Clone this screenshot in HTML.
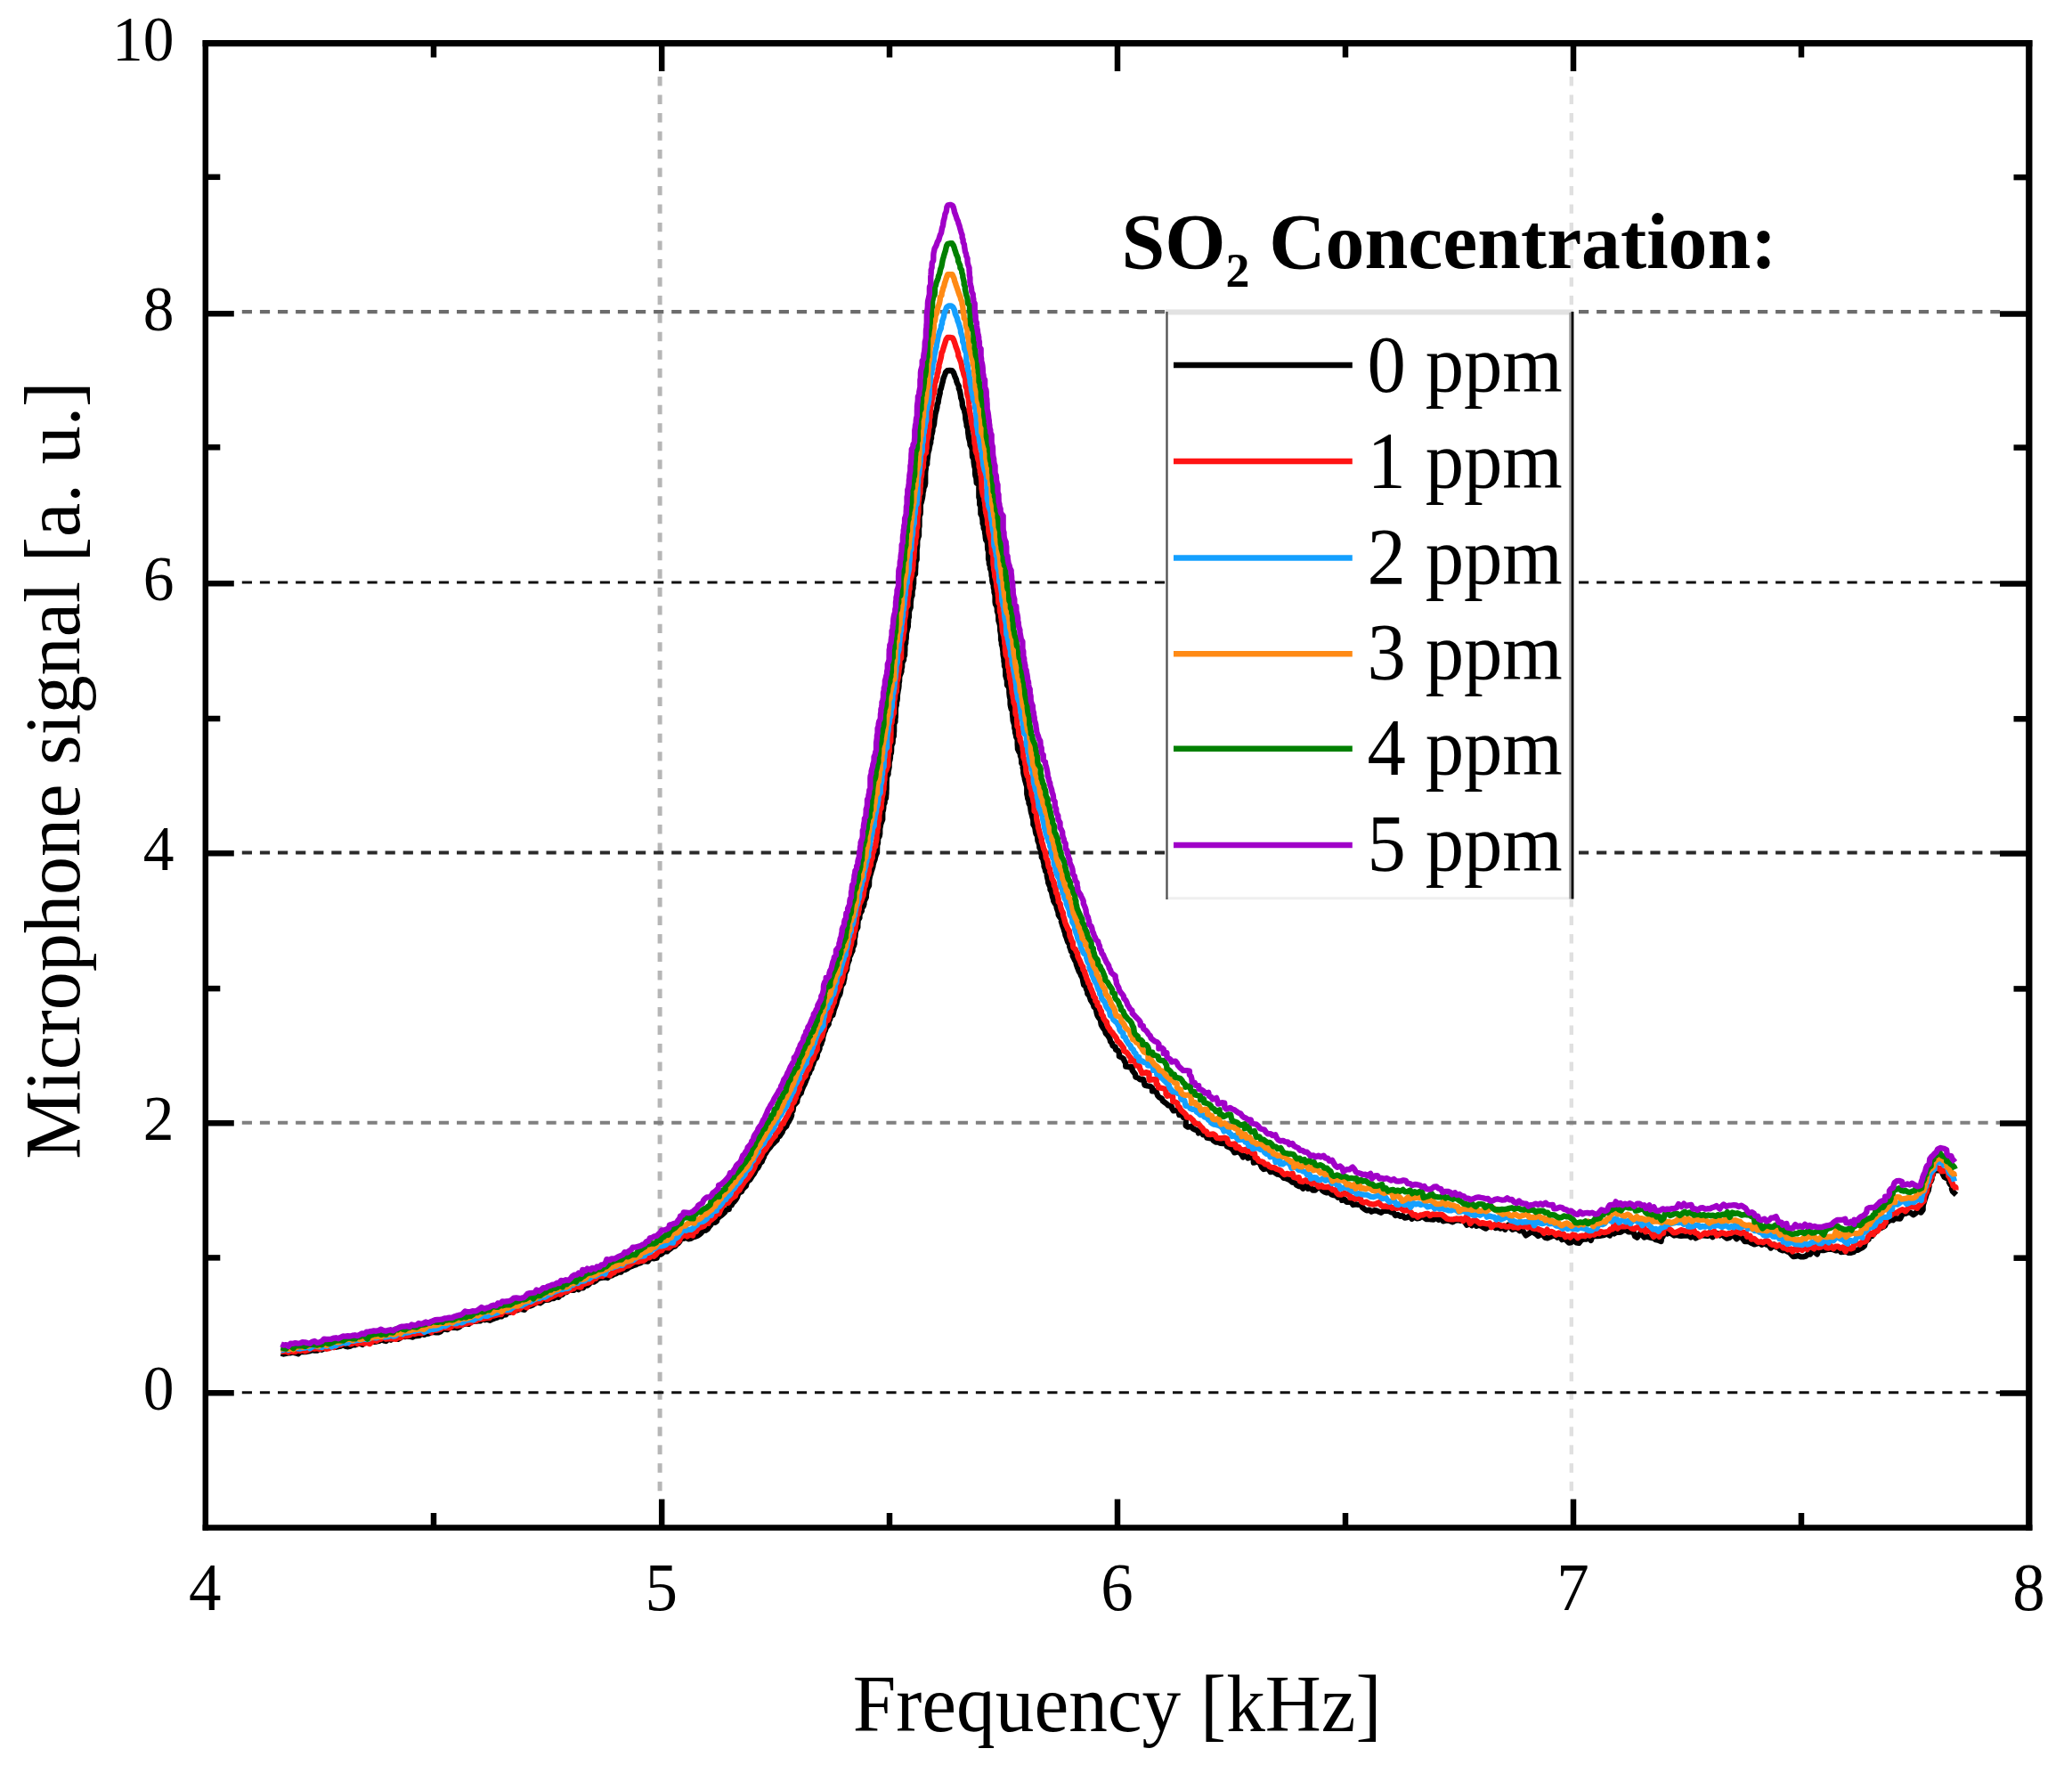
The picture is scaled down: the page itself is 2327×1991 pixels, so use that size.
<!DOCTYPE html>
<html lang="en"><head><meta charset="utf-8"><title>Microphone signal vs frequency</title>
<style>html,body{margin:0;padding:0;background:#fff;overflow:hidden}svg{display:block}</style></head>
<body>
<svg width="2327" height="1991" viewBox="0 0 2327 1991">
<rect width="2327" height="1991" fill="#fff"/>
<line x1="741.1" y1="86" x2="741.1" y2="1683" stroke="#b6b6b6" stroke-width="5.0" stroke-dasharray="10.4 10.09"/>
<line x1="1764.8" y1="86" x2="1764.8" y2="1683" stroke="#e0e0e0" stroke-width="4.4" stroke-dasharray="10.4 10.09"/>
<line x1="271.8" y1="350.1" x2="1309" y2="350.1" stroke="#6c6c6c" stroke-width="4.4" stroke-dasharray="11.2 8.9"/>
<line x1="1773" y1="350.1" x2="2246" y2="350.1" stroke="#6c6c6c" stroke-width="4.4" stroke-dasharray="11.2 8.9"/>
<line x1="271.8" y1="654.1" x2="1309" y2="654.1" stroke="#101010" stroke-width="3.0" stroke-dasharray="11.2 8.9"/>
<line x1="1773" y1="654.1" x2="2246" y2="654.1" stroke="#101010" stroke-width="3.0" stroke-dasharray="11.2 8.9"/>
<line x1="271.8" y1="957.4" x2="1309" y2="957.4" stroke="#2a2a2a" stroke-width="4.0" stroke-dasharray="11.2 8.9"/>
<line x1="1773" y1="957.4" x2="2246" y2="957.4" stroke="#2a2a2a" stroke-width="4.0" stroke-dasharray="11.2 8.9"/>
<line x1="271.8" y1="1260.8" x2="2246" y2="1260.8" stroke="#808080" stroke-width="4.0" stroke-dasharray="11.2 8.9"/>
<line x1="271.8" y1="1563.8" x2="2246" y2="1563.8" stroke="#101010" stroke-width="3.0" stroke-dasharray="11.2 8.9"/>
<g fill="none" stroke-width="6.4" stroke-linejoin="round" stroke-linecap="butt">
<path d="M315.7 1519.7 L318.5 1520.5 L321.1 1519.8 L323.8 1519.3 L326.5 1519.2 L329.1 1518.6 L331.9 1519.3 L334.8 1520.3 L337.2 1518.1 L339.9 1517.9 L342.7 1518.1 L345.3 1517.6 L348.0 1517.2 L350.6 1516.0 L353.4 1516.5 L356.1 1516.6 L358.6 1514.8 L361.4 1515.7 L364.0 1514.3 L366.7 1514.0 L369.2 1512.8 L372.0 1513.1 L374.6 1512.2 L377.4 1512.7 L380.0 1512.1 L382.7 1511.6 L385.2 1510.0 L388.2 1511.9 L390.9 1512.2 L393.6 1511.6 L396.1 1510.0 L398.8 1510.3 L401.4 1509.2 L404.1 1508.6 L407.0 1509.9 L409.4 1507.5 L412.1 1507.9 L414.9 1508.1 L417.4 1506.4 L420.2 1506.7 L422.9 1506.5 L425.5 1505.9 L428.0 1504.4 L430.9 1505.3 L433.7 1506.0 L436.0 1503.3 L439.0 1504.7 L441.4 1503.1 L443.9 1501.6 L447.0 1503.8 L449.6 1502.5 L452.0 1500.6 L454.8 1501.1 L457.5 1500.7 L460.2 1500.6 L463.1 1501.5 L465.6 1500.3 L468.3 1500.1 L471.0 1499.8 L473.4 1497.7 L476.4 1498.9 L478.9 1497.7 L481.6 1497.6 L484.1 1496.1 L486.8 1495.9 L489.6 1496.4 L492.4 1496.3 L494.9 1495.3 L497.1 1492.6 L499.9 1492.4 L502.7 1493.1 L505.0 1490.7 L507.8 1490.9 L510.5 1490.6 L513.4 1491.2 L515.9 1490.0 L518.2 1488.0 L520.8 1487.0 L523.4 1486.3 L526.3 1486.9 L528.5 1484.7 L531.1 1483.8 L533.9 1483.9 L536.5 1483.3 L539.3 1483.3 L541.7 1481.7 L544.6 1482.2 L547.2 1481.7 L550.3 1482.7 L552.7 1481.4 L555.3 1480.4 L557.9 1479.7 L560.3 1478.2 L563.1 1478.4 L565.4 1476.6 L568.2 1476.4 L570.2 1473.8 L573.0 1473.7 L575.1 1471.4 L577.7 1470.7 L580.7 1471.4 L583.1 1470.1 L586.0 1470.1 L589.1 1470.8 L590.8 1467.6 L593.4 1466.8 L596.1 1466.3 L598.6 1465.3 L600.9 1463.6 L603.4 1462.7 L606.5 1463.2 L608.8 1461.7 L611.0 1460.0 L613.8 1459.7 L616.6 1459.5 L619.0 1458.0 L621.9 1458.1 L623.9 1456.0 L627.1 1456.7 L629.2 1454.6 L631.7 1453.7 L633.7 1451.3 L636.5 1451.1 L638.5 1448.6 L641.4 1448.7 L644.4 1448.9 L646.2 1446.1 L649.8 1448.1 L651.9 1445.9 L655.0 1446.3 L656.8 1443.6 L659.7 1443.5 L661.9 1441.7 L663.6 1438.7 L666.8 1439.6 L669.2 1438.3 L671.3 1436.1 L673.8 1435.2 L676.5 1434.8 L679.1 1434.0 L682.4 1435.0 L684.5 1433.0 L687.2 1432.4 L689.5 1430.8 L692.2 1430.2 L694.2 1428.0 L697.3 1428.6 L699.3 1426.2 L702.0 1425.9 L704.5 1424.6 L706.7 1423.0 L709.2 1422.1 L711.7 1420.9 L714.3 1420.1 L716.7 1418.8 L719.3 1418.1 L721.5 1416.4 L724.3 1416.0 L727.5 1416.6 L729.3 1414.1 L731.7 1412.8 L734.9 1413.2 L737.6 1412.7 L738.8 1408.9 L741.7 1408.7 L744.0 1407.2 L745.9 1405.0 L749.1 1405.4 L751.1 1403.4 L753.4 1402.0 L755.5 1400.1 L758.1 1399.4 L759.7 1397.4 L761.8 1396.0 L763.5 1394.0 L764.4 1391.1 L768.0 1390.8 L770.6 1389.2 L773.1 1391.2 L775.8 1390.9 L778.1 1389.3 L780.7 1388.6 L783.4 1387.8 L785.6 1386.1 L787.7 1384.5 L789.4 1382.1 L792.5 1381.7 L794.7 1380.1 L796.3 1377.7 L798.1 1375.7 L799.4 1373.1 L802.8 1372.9 L805.0 1371.3 L805.7 1368.1 L807.9 1366.4 L810.1 1364.9 L812.2 1363.1 L814.1 1361.2 L815.5 1358.8 L818.7 1358.0 L818.9 1354.6 L821.6 1353.3 L822.8 1350.8 L824.8 1349.0 L826.5 1346.9 L827.9 1344.5 L828.7 1341.7 L830.1 1339.4 L832.9 1338.1 L833.9 1335.5 L835.7 1333.5 L837.8 1331.7 L838.5 1328.8 L839.7 1326.5 L842.2 1324.9 L843.6 1322.6 L845.0 1320.3 L846.7 1318.2 L848.0 1315.8 L849.2 1313.3 L851.2 1311.4 L852.4 1309.0 L853.4 1306.4 L855.6 1304.6 L856.5 1302.0 L857.8 1299.6 L858.5 1296.9 L860.2 1294.7 L861.5 1292.3 L863.1 1290.2 L865.0 1288.2 L866.5 1285.9 L868.6 1284.1 L870.4 1282.1 L872.6 1280.3 L873.1 1277.4 L875.6 1275.8 L877.0 1273.5 L878.6 1271.3 L879.4 1268.6 L881.2 1266.5 L883.2 1264.6 L884.1 1262.0 L885.7 1259.7 L886.9 1257.3 L888.3 1254.9 L889.1 1252.3 L889.1 1249.3 L890.5 1247.0 L890.9 1244.2 L891.2 1241.5 L893.3 1239.4 L895.2 1237.3 L895.4 1234.5 L896.3 1231.9 L897.6 1229.5 L899.7 1227.5 L900.3 1224.8 L901.3 1222.3 L902.4 1219.8 L903.7 1217.4 L904.7 1214.9 L905.6 1212.4 L906.8 1209.9 L907.2 1207.2 L909.0 1205.0 L909.6 1202.3 L911.4 1200.2 L911.8 1197.4 L913.1 1195.0 L913.9 1192.4 L914.8 1189.9 L917.0 1187.9 L917.8 1185.3 L918.0 1182.5 L919.4 1180.1 L920.5 1177.6 L920.5 1174.6 L922.3 1172.5 L922.9 1169.9 L924.0 1167.4 L924.2 1164.6 L925.0 1162.1 L925.6 1159.4 L926.9 1157.0 L927.6 1154.3 L929.2 1152.1 L930.7 1149.9 L930.7 1146.9 L932.2 1144.6 L932.5 1141.9 L935.2 1140.0 L936.0 1137.4 L936.5 1134.7 L937.4 1132.2 L938.4 1129.6 L939.3 1127.1 L939.9 1124.4 L940.6 1121.8 L941.5 1119.3 L943.1 1117.0 L943.8 1114.4 L944.2 1111.6 L944.5 1108.9 L945.3 1106.3 L947.2 1104.1 L947.6 1101.4 L948.3 1098.8 L948.5 1096.0 L948.9 1093.3 L950.1 1090.9 L951.2 1088.4 L951.3 1085.6 L951.9 1083.0 L952.7 1080.4 L953.8 1077.9 L953.8 1075.1 L955.2 1072.7 L956.1 1070.1 L957.5 1067.7 L957.5 1064.9 L958.7 1062.4 L959.6 1059.8 L959.6 1057.0 L959.7 1054.3 L960.4 1051.7 L960.6 1049.0 L960.9 1046.3 L962.0 1043.8 L963.3 1041.3 L963.3 1038.4 L963.5 1035.8 L963.8 1033.1 L965.4 1030.7 L965.4 1027.8 L966.2 1025.3 L967.8 1023.0 L967.8 1020.1 L969.6 1017.8 L970.4 1015.3 L970.5 1012.5 L971.6 1010.0 L972.8 1007.5 L972.8 1004.7 L973.3 1002.0 L973.6 999.3 L974.7 996.8 L976.0 994.4 L976.1 991.6 L976.1 988.8 L976.5 986.2 L977.1 983.5 L978.0 981.0 L978.6 978.3 L979.5 975.8 L980.3 973.2 L980.7 970.5 L981.5 967.9 L982.5 965.4 L983.0 962.7 L983.8 960.1 L985.0 957.6 L985.0 954.8 L985.1 952.1 L985.1 949.4 L986.0 946.8 L986.0 944.0 L986.3 941.4 L987.7 938.9 L988.2 936.2 L988.2 933.5 L988.2 930.7 L988.7 928.1 L989.2 925.5 L990.1 922.9 L991.2 920.3 L991.2 917.5 L991.2 914.7 L991.2 912.1 L992.0 909.5 L992.3 906.8 L992.3 904.1 L993.6 901.5 L993.6 898.8 L995.0 896.3 L995.1 893.6 L995.4 890.9 L995.4 888.1 L995.6 885.5 L995.6 882.7 L995.6 880.0 L995.7 877.3 L995.8 874.6 L996.1 871.9 L997.5 869.4 L997.5 866.6 L998.1 864.0 L998.6 861.3 L998.6 858.5 L998.7 855.9 L999.5 853.3 L999.9 850.6 L999.9 847.9 L1000.9 845.3 L1001.1 842.6 L1001.1 839.8 L1001.2 837.2 L1002.5 834.6 L1002.7 831.9 L1002.7 829.1 L1003.8 826.6 L1003.8 823.9 L1004.1 821.2 L1004.1 818.4 L1004.1 815.7 L1004.1 813.0 L1005.4 810.5 L1005.4 807.6 L1005.8 805.1 L1005.8 802.3 L1005.8 799.7 L1005.8 796.9 L1006.0 794.3 L1006.8 791.6 L1006.8 788.8 L1007.6 786.3 L1007.8 783.6 L1007.8 780.9 L1008.2 778.2 L1008.6 775.5 L1009.2 772.9 L1009.5 770.2 L1009.5 767.5 L1010.1 764.8 L1010.1 762.1 L1010.3 759.4 L1011.4 756.8 L1012.4 754.2 L1012.4 751.4 L1013.1 748.9 L1013.1 746.1 L1013.5 743.5 L1015.0 741.0 L1015.0 738.2 L1016.1 735.7 L1016.1 732.9 L1016.3 730.2 L1016.3 727.5 L1016.3 724.8 L1017.2 722.2 L1017.2 719.4 L1017.7 716.8 L1017.8 714.1 L1017.8 711.4 L1018.5 708.7 L1019.0 706.1 L1019.8 703.5 L1019.8 700.7 L1020.1 698.1 L1020.1 695.2 L1020.9 692.7 L1020.9 690.0 L1020.9 687.3 L1021.6 684.6 L1022.7 682.1 L1022.7 679.2 L1022.8 676.6 L1023.1 674.0 L1023.3 671.3 L1024.5 668.7 L1024.5 666.0 L1024.6 663.3 L1025.5 660.6 L1025.5 657.9 L1026.1 655.3 L1026.1 652.6 L1026.1 649.8 L1026.1 647.1 L1028.0 644.6 L1028.0 641.8 L1028.1 639.2 L1028.3 636.5 L1028.3 633.8 L1028.5 631.1 L1029.6 628.5 L1029.6 625.6 L1029.6 622.9 L1029.6 620.2 L1029.6 617.6 L1030.0 615.0 L1030.2 612.3 L1030.2 609.5 L1030.3 606.9 L1031.0 604.2 L1032.0 601.6 L1032.0 598.7 L1032.0 596.2 L1032.0 593.4 L1032.5 590.8 L1032.5 588.0 L1032.5 585.3 L1032.5 582.6 L1032.5 579.9 L1033.6 577.3 L1033.8 574.6 L1033.8 571.9 L1033.8 569.2 L1033.8 566.5 L1034.8 563.9 L1035.4 561.3 L1036.0 558.6 L1036.4 555.9 L1036.5 553.2 L1037.2 550.6 L1037.4 547.9 L1038.7 545.4 L1039.2 542.7 L1039.2 539.8 L1039.2 537.1 L1039.2 534.5 L1039.2 531.8 L1039.4 529.1 L1039.8 526.4 L1039.8 523.7 L1041.2 521.2 L1041.2 518.4 L1041.5 515.8 L1041.9 513.1 L1042.1 510.4 L1042.5 507.7 L1043.4 505.1 L1043.8 502.4 L1044.3 499.8 L1045.2 497.2 L1045.2 494.4 L1046.0 491.9 L1046.0 489.1 L1046.8 486.5 L1047.4 483.9 L1047.4 481.1 L1048.4 478.6 L1049.1 475.9 L1049.3 473.2 L1049.6 470.5 L1050.1 467.9 L1050.4 465.2 L1051.1 462.6 L1051.8 460.0 L1052.4 457.4 L1052.5 454.6 L1053.6 452.1 L1053.9 449.4 L1054.4 446.7 L1055.0 444.1 L1055.7 441.5 L1055.7 438.7 L1056.9 436.2 L1057.4 433.6 L1058.1 431.0 L1058.8 428.4 L1059.3 425.7 L1060.2 423.1 L1061.2 420.6 L1062.1 418.1 L1063.9 416.3 L1066.6 416.0 L1069.4 416.3 L1070.9 418.4 L1071.8 420.9 L1072.7 423.5 L1073.9 425.9 L1074.4 428.6 L1075.4 431.1 L1076.8 433.5 L1076.8 436.3 L1077.9 438.8 L1078.4 441.5 L1078.9 444.1 L1079.2 446.9 L1080.2 449.4 L1080.7 452.1 L1080.8 454.8 L1081.5 457.4 L1082.8 459.9 L1083.3 462.5 L1084.0 465.1 L1084.3 467.8 L1084.4 470.6 L1085.0 473.2 L1085.6 475.8 L1085.7 478.5 L1087.0 481.0 L1087.1 483.8 L1087.3 486.5 L1087.7 489.1 L1088.0 491.8 L1088.8 494.4 L1089.4 497.1 L1089.6 499.8 L1091.0 502.3 L1091.8 504.9 L1091.8 507.7 L1091.9 510.3 L1092.1 513.0 L1093.6 515.5 L1093.6 518.3 L1093.9 521.0 L1094.3 523.6 L1095.1 526.2 L1095.1 529.0 L1095.1 531.8 L1095.5 534.4 L1096.4 537.0 L1096.6 539.7 L1096.8 542.4 L1099.4 544.7 L1099.4 547.6 L1099.4 550.3 L1099.4 553.0 L1099.4 555.7 L1099.4 558.4 L1100.2 561.0 L1100.2 563.7 L1100.2 566.4 L1101.4 569.0 L1101.4 571.7 L1101.4 574.5 L1101.4 577.2 L1102.8 579.7 L1103.3 582.3 L1103.6 585.0 L1103.6 587.8 L1104.7 590.3 L1104.7 593.1 L1105.9 595.6 L1106.1 598.3 L1106.6 600.9 L1106.8 603.7 L1107.2 606.3 L1108.8 608.8 L1109.1 611.5 L1109.1 614.3 L1109.3 616.9 L1110.1 619.5 L1110.1 622.4 L1110.1 625.1 L1110.1 627.8 L1110.9 630.4 L1110.9 633.1 L1112.0 635.6 L1112.0 638.4 L1113.1 640.9 L1113.5 643.6 L1113.6 646.3 L1114.3 648.9 L1114.3 651.7 L1114.7 654.3 L1115.8 656.9 L1115.8 659.6 L1116.5 662.3 L1116.5 665.1 L1117.4 667.6 L1117.6 670.3 L1117.6 673.0 L1117.6 675.8 L1118.0 678.4 L1119.4 680.9 L1119.9 683.6 L1119.9 686.4 L1120.8 688.9 L1121.3 691.6 L1121.3 694.4 L1121.4 697.0 L1122.3 699.6 L1123.0 702.2 L1123.2 705.0 L1123.2 707.8 L1123.7 710.3 L1124.1 713.0 L1124.1 715.7 L1124.1 718.4 L1124.9 721.1 L1124.9 723.8 L1125.8 726.4 L1126.1 729.1 L1126.5 731.7 L1126.5 734.5 L1126.9 737.1 L1127.5 739.8 L1127.5 742.5 L1128.0 745.2 L1128.0 747.9 L1129.2 750.5 L1129.2 753.2 L1129.3 755.9 L1129.3 758.7 L1130.0 761.2 L1130.9 763.8 L1131.0 766.6 L1131.0 769.3 L1132.9 771.7 L1133.4 774.4 L1133.4 777.2 L1133.6 779.8 L1133.9 782.5 L1134.6 785.1 L1134.6 788.0 L1134.6 790.7 L1135.0 793.3 L1135.6 795.9 L1137.0 798.4 L1137.0 801.3 L1137.2 803.8 L1137.5 806.5 L1137.7 809.2 L1138.5 811.8 L1139.3 814.4 L1139.3 817.3 L1140.0 819.8 L1140.1 822.5 L1140.9 825.1 L1141.3 827.8 L1142.7 830.3 L1142.7 833.3 L1142.7 835.8 L1142.9 838.5 L1143.0 841.2 L1144.2 843.7 L1145.8 846.2 L1146.0 848.9 L1147.0 851.4 L1147.2 854.2 L1147.2 856.9 L1148.7 859.4 L1148.7 862.2 L1149.3 864.7 L1149.3 867.6 L1149.8 870.2 L1150.6 872.8 L1150.9 875.4 L1151.7 878.0 L1152.4 880.6 L1153.3 883.2 L1153.3 886.0 L1153.3 888.9 L1153.3 891.5 L1153.9 894.1 L1154.3 896.8 L1155.5 899.3 L1155.5 902.1 L1156.8 904.6 L1157.3 907.2 L1157.6 909.9 L1158.1 912.6 L1158.9 915.1 L1159.5 917.8 L1160.3 920.4 L1160.4 923.1 L1160.4 926.0 L1162.0 928.3 L1162.6 930.9 L1162.9 933.6 L1163.5 936.3 L1165.1 938.6 L1165.2 941.4 L1165.5 944.1 L1166.6 946.6 L1167.3 949.2 L1167.4 952.0 L1169.0 954.4 L1169.0 957.2 L1169.8 959.7 L1169.8 962.6 L1171.5 964.9 L1171.8 967.6 L1172.6 970.2 L1172.6 972.9 L1173.7 975.5 L1174.1 978.1 L1175.8 980.5 L1175.8 983.4 L1176.3 985.9 L1177.0 988.5 L1177.2 991.3 L1178.3 993.8 L1179.5 996.2 L1179.5 999.1 L1181.0 1001.4 L1181.5 1004.1 L1182.0 1006.8 L1182.9 1009.3 L1183.3 1012.0 L1184.7 1014.4 L1186.4 1016.7 L1186.7 1019.4 L1187.6 1022.0 L1188.5 1024.5 L1188.7 1027.3 L1190.1 1029.7 L1191.9 1031.9 L1191.9 1034.9 L1192.7 1037.3 L1193.5 1040.0 L1194.5 1042.4 L1195.2 1045.1 L1196.1 1047.6 L1196.5 1050.3 L1197.6 1052.8 L1198.4 1055.4 L1199.3 1057.9 L1201.1 1060.1 L1201.2 1063.0 L1202.2 1065.5 L1202.9 1068.1 L1204.7 1070.3 L1204.7 1073.4 L1205.9 1075.7 L1207.0 1078.1 L1208.4 1080.5 L1208.9 1083.2 L1209.8 1085.7 L1210.8 1088.2 L1211.7 1090.8 L1213.3 1093.0 L1214.1 1095.6 L1215.6 1097.9 L1216.1 1100.6 L1216.6 1103.4 L1217.2 1106.0 L1219.6 1108.0 L1220.0 1110.7 L1221.2 1113.2 L1221.4 1116.0 L1223.4 1118.1 L1224.2 1120.7 L1225.0 1123.3 L1226.5 1125.5 L1227.9 1127.9 L1228.6 1130.6 L1230.6 1132.6 L1231.3 1135.3 L1231.8 1138.0 L1232.6 1140.6 L1234.0 1142.9 L1235.7 1145.1 L1236.3 1147.8 L1236.7 1150.6 L1238.0 1152.9 L1239.5 1155.2 L1241.1 1157.4 L1241.7 1160.2 L1243.7 1162.2 L1245.2 1164.4 L1246.5 1166.8 L1247.1 1169.6 L1249.0 1171.6 L1249.6 1174.4 L1252.6 1175.7 L1253.0 1178.7 L1255.8 1180.0 L1256.9 1182.5 L1256.9 1186.2 L1259.4 1187.4 L1261.8 1188.9 L1262.8 1191.6 L1264.2 1193.9 L1264.2 1197.6 L1267.5 1198.2 L1271.6 1198.2 L1271.6 1202.1 L1273.2 1204.1 L1274.9 1206.2 L1275.4 1209.5 L1278.3 1210.5 L1280.4 1212.2 L1284.1 1212.2 L1284.9 1215.4 L1285.6 1218.7 L1288.6 1219.4 L1291.7 1219.9 L1293.9 1221.5 L1294.1 1225.4 L1298.2 1224.8 L1299.2 1227.7 L1300.3 1230.5 L1302.2 1232.4 L1304.7 1233.7 L1305.9 1236.3 L1308.0 1237.9 L1310.2 1239.5 L1312.1 1241.4 L1315.4 1242.0 L1316.3 1244.8 L1317.8 1247.2 L1322.1 1246.9 L1323.8 1248.9 L1324.4 1252.1 L1328.2 1252.2 L1329.1 1255.0 L1331.7 1256.3 L1331.7 1260.6 L1331.7 1264.1 L1334.0 1265.6 L1338.0 1265.0 L1339.7 1267.3 L1342.2 1268.5 L1344.7 1269.5 L1346.0 1272.4 L1350.5 1270.1 L1351.2 1274.3 L1354.3 1274.2 L1355.5 1277.7 L1358.3 1278.2 L1361.1 1278.6 L1363.0 1280.9 L1365.2 1282.5 L1368.2 1282.4 L1370.5 1283.9 L1373.5 1284.1 L1377.4 1282.5 L1377.9 1287.2 L1380.5 1288.2 L1382.9 1289.4 L1384.8 1291.5 L1386.4 1294.3 L1390.0 1293.4 L1392.5 1294.4 L1394.4 1296.5 L1396.0 1299.3 L1400.2 1297.1 L1401.5 1300.5 L1405.1 1299.4 L1407.7 1300.4 L1407.9 1305.6 L1411.5 1304.6 L1414.3 1305.2 L1415.8 1308.1 L1417.2 1311.0 L1419.2 1313.0 L1422.8 1312.2 L1425.2 1313.4 L1426.8 1316.1 L1430.6 1314.8 L1432.3 1317.3 L1434.7 1318.6 L1437.4 1319.1 L1439.8 1320.4 L1441.6 1322.8 L1444.4 1323.2 L1446.9 1324.3 L1449.3 1325.6 L1451.4 1327.6 L1454.1 1328.1 L1456.1 1330.7 L1458.5 1332.0 L1461.2 1332.4 L1463.3 1334.7 L1467.3 1331.3 L1469.0 1334.7 L1472.3 1333.3 L1474.1 1336.5 L1477.0 1336.5 L1481.2 1332.2 L1483.4 1334.2 L1485.3 1337.1 L1487.6 1338.5 L1490.2 1339.4 L1493.4 1338.7 L1495.2 1341.3 L1497.8 1342.2 L1500.5 1342.6 L1502.6 1344.8 L1506.6 1342.2 L1507.2 1347.8 L1510.4 1347.2 L1512.2 1349.8 L1515.2 1349.6 L1517.8 1350.5 L1519.7 1353.0 L1522.8 1352.3 L1525.5 1352.9 L1528.3 1352.8 L1530.2 1356.0 L1532.5 1357.9 L1534.9 1359.4 L1537.9 1358.6 L1540.2 1360.7 L1543.3 1359.3 L1546.1 1359.5 L1548.5 1360.8 L1551.1 1361.7 L1554.4 1359.4 L1557.0 1359.9 L1559.8 1359.8 L1562.2 1361.3 L1564.9 1361.6 L1567.1 1364.9 L1570.0 1364.0 L1572.4 1365.8 L1575.3 1365.1 L1577.6 1367.6 L1580.4 1367.1 L1583.4 1365.3 L1585.6 1368.7 L1588.7 1366.3 L1591.2 1368.4 L1594.0 1367.8 L1596.9 1365.8 L1599.5 1367.3 L1602.0 1369.1 L1604.7 1368.8 L1607.4 1369.3 L1610.1 1369.5 L1613.0 1367.3 L1615.5 1369.7 L1618.5 1367.2 L1620.7 1371.3 L1623.5 1370.7 L1626.3 1370.3 L1628.9 1371.2 L1631.5 1372.3 L1634.4 1370.6 L1637.2 1370.0 L1639.9 1370.8 L1642.7 1369.7 L1645.1 1372.2 L1647.4 1375.7 L1650.5 1373.1 L1652.8 1376.1 L1655.8 1373.7 L1658.1 1376.8 L1661.0 1375.8 L1663.6 1376.8 L1666.1 1378.4 L1668.6 1379.6 L1671.7 1377.3 L1674.4 1377.5 L1677.3 1376.2 L1679.6 1379.0 L1682.5 1377.9 L1685.0 1379.6 L1688.0 1377.7 L1690.3 1380.7 L1693.8 1375.7 L1696.1 1378.4 L1698.5 1380.8 L1701.4 1379.7 L1704.2 1379.7 L1706.5 1382.2 L1709.4 1381.1 L1711.6 1384.1 L1713.7 1387.4 L1716.9 1385.4 L1720.0 1383.2 L1722.6 1384.2 L1725.0 1385.7 L1727.4 1387.9 L1730.4 1386.2 L1733.0 1386.9 L1735.3 1389.9 L1738.0 1390.2 L1740.9 1389.1 L1743.8 1387.9 L1746.6 1387.6 L1749.0 1389.7 L1752.0 1388.1 L1754.1 1392.1 L1757.0 1390.9 L1759.5 1393.0 L1762.0 1395.6 L1764.8 1395.0 L1767.7 1392.2 L1770.4 1395.3 L1773.2 1395.9 L1775.8 1392.7 L1778.5 1391.3 L1781.2 1391.6 L1783.8 1389.7 L1786.7 1392.9 L1788.9 1387.2 L1791.5 1388.0 L1794.0 1388.1 L1796.7 1387.8 L1799.3 1387.4 L1801.9 1386.8 L1804.3 1385.5 L1807.9 1387.4 L1809.3 1383.1 L1812.8 1385.4 L1815.2 1383.8 L1817.9 1383.9 L1820.5 1383.5 L1823.3 1381.5 L1826.1 1381.3 L1828.7 1383.3 L1831.4 1383.4 L1834.2 1382.7 L1836.2 1388.3 L1838.7 1389.7 L1842.1 1384.8 L1844.5 1387.0 L1846.6 1389.6 L1849.4 1388.4 L1851.8 1389.2 L1854.4 1390.1 L1857.4 1390.2 L1859.4 1392.2 L1862.0 1392.6 L1865.5 1394.0 L1866.1 1390.2 L1867.7 1388.0 L1868.6 1384.4 L1872.3 1385.5 L1875.0 1384.5 L1877.6 1385.7 L1880.1 1387.5 L1882.9 1386.8 L1885.5 1387.5 L1888.2 1387.8 L1891.0 1387.6 L1893.7 1387.5 L1896.5 1387.2 L1898.9 1389.4 L1901.9 1387.0 L1904.3 1390.4 L1907.1 1389.0 L1909.8 1387.2 L1912.5 1387.3 L1915.2 1387.5 L1917.9 1387.9 L1920.6 1386.7 L1923.3 1389.2 L1926.0 1386.4 L1928.7 1385.1 L1931.4 1387.4 L1934.1 1386.0 L1936.8 1388.7 L1939.5 1390.6 L1942.2 1390.0 L1944.9 1387.4 L1947.6 1387.9 L1950.3 1391.1 L1953.0 1389.0 L1955.7 1389.5 L1957.7 1391.6 L1959.5 1394.0 L1962.5 1393.9 L1965.2 1394.7 L1967.6 1396.2 L1970.2 1397.4 L1973.2 1396.4 L1976.2 1395.4 L1978.5 1397.7 L1981.5 1396.4 L1984.0 1397.7 L1986.6 1398.4 L1988.7 1401.5 L1992.4 1397.7 L1994.5 1400.3 L1997.2 1400.9 L1999.2 1403.1 L2001.6 1404.2 L2005.0 1403.9 L2007.2 1405.3 L2009.5 1406.3 L2011.5 1408.3 L2013.8 1411.0 L2016.7 1410.8 L2019.4 1410.0 L2022.4 1411.2 L2025.2 1411.4 L2027.9 1410.7 L2030.2 1408.6 L2032.9 1408.5 L2035.1 1405.6 L2037.9 1405.8 L2040.8 1408.3 L2043.2 1401.9 L2046.0 1404.1 L2048.7 1404.0 L2051.4 1403.2 L2054.1 1402.5 L2056.8 1402.7 L2059.5 1403.4 L2062.2 1404.4 L2064.9 1402.3 L2067.6 1406.1 L2070.3 1405.7 L2073.0 1405.4 L2076.1 1406.9 L2079.0 1406.7 L2081.7 1406.0 L2083.8 1403.7 L2086.8 1403.7 L2089.2 1402.1 L2091.8 1400.8 L2093.9 1399.0 L2094.7 1395.5 L2096.2 1393.2 L2098.6 1391.8 L2098.8 1388.2 L2102.4 1388.0 L2104.1 1385.8 L2106.0 1383.8 L2106.5 1380.5 L2109.4 1379.8 L2112.5 1379.0 L2114.9 1377.7 L2117.2 1376.2 L2118.1 1373.2 L2120.6 1371.8 L2122.5 1369.7 L2126.0 1370.2 L2127.8 1367.9 L2131.0 1368.4 L2134.0 1368.6 L2135.5 1365.5 L2137.4 1362.7 L2140.3 1362.8 L2142.8 1361.4 L2145.6 1361.7 L2148.9 1364.3 L2151.3 1362.5 L2153.3 1359.5 L2157.4 1361.5 L2159.6 1358.6 L2159.6 1354.9 L2160.0 1352.3 L2160.9 1349.8 L2161.6 1347.2 L2162.5 1344.6 L2163.2 1342.0 L2164.3 1339.5 L2165.6 1337.1 L2166.1 1334.5 L2166.6 1331.8 L2166.6 1328.8 L2168.4 1326.7 L2169.5 1324.2 L2169.5 1321.2 L2170.9 1319.0 L2171.5 1316.2 L2172.5 1312.5 L2176.1 1314.4 L2179.3 1314.3 L2181.2 1316.5 L2182.3 1319.3 L2183.6 1321.7 L2186.0 1323.1 L2188.9 1324.3 L2188.9 1327.7 L2190.3 1330.0 L2192.0 1332.1 L2192.0 1335.1 L2192.9 1337.7 L2194.9 1339.7 L2197.0 1341.7" stroke="#000000"/>
<path d="M315.6 1517.7 L318.3 1517.5 L321.0 1517.6 L323.8 1518.6 L326.4 1517.3 L329.2 1518.0 L331.9 1517.7 L334.5 1516.3 L337.3 1516.9 L339.9 1516.0 L342.7 1517.3 L345.3 1516.3 L347.9 1515.3 L350.5 1513.9 L353.3 1514.6 L355.9 1514.0 L358.8 1515.0 L361.4 1514.2 L364.0 1513.3 L366.9 1514.7 L369.6 1514.1 L372.1 1512.5 L374.9 1513.0 L377.4 1511.3 L380.0 1510.5 L382.7 1510.1 L385.2 1508.9 L387.9 1508.4 L390.5 1507.8 L393.5 1509.3 L396.1 1508.6 L398.6 1507.1 L401.6 1509.0 L404.1 1507.7 L406.9 1508.0 L409.7 1508.6 L412.3 1507.6 L415.2 1509.0 L417.7 1506.8 L420.0 1504.6 L423.0 1505.8 L425.4 1504.0 L428.1 1503.5 L430.4 1500.7 L433.5 1503.6 L436.2 1503.1 L439.0 1503.3 L441.7 1503.4 L444.6 1503.9 L446.9 1501.8 L449.7 1502.2 L452.2 1500.4 L454.9 1500.0 L457.6 1500.2 L460.2 1499.4 L462.6 1497.2 L465.5 1498.0 L468.1 1497.2 L470.7 1496.6 L473.6 1497.2 L476.2 1496.4 L478.5 1494.5 L481.3 1494.3 L484.4 1496.2 L486.5 1492.8 L489.4 1493.8 L492.1 1493.3 L494.7 1492.8 L497.0 1490.6 L499.8 1490.9 L502.6 1491.1 L505.4 1491.2 L507.7 1489.1 L510.3 1488.0 L513.2 1488.9 L515.9 1488.4 L518.5 1487.9 L520.9 1486.2 L523.7 1486.3 L526.2 1485.2 L529.1 1485.4 L531.2 1482.7 L534.2 1483.6 L536.6 1482.1 L539.1 1480.9 L541.9 1481.1 L544.5 1480.4 L547.1 1479.8 L549.9 1479.8 L552.0 1477.0 L554.9 1477.5 L557.5 1476.7 L560.1 1475.9 L562.9 1476.1 L564.8 1473.0 L567.4 1472.4 L570.5 1473.2 L573.2 1472.8 L576.4 1473.9 L578.6 1471.8 L580.7 1469.5 L583.7 1470.0 L585.7 1467.6 L588.2 1466.6 L591.7 1468.3 L593.6 1465.5 L596.1 1464.7 L598.6 1463.5 L601.4 1463.4 L603.7 1461.6 L606.4 1461.2 L608.4 1458.8 L610.6 1457.2 L614.2 1459.1 L616.7 1457.8 L619.0 1456.5 L621.5 1455.4 L623.9 1454.2 L626.2 1452.5 L629.5 1453.6 L631.6 1451.5 L634.2 1450.9 L636.8 1450.0 L639.3 1449.1 L641.8 1447.8 L644.3 1447.0 L646.2 1444.4 L649.3 1444.9 L652.5 1445.6 L654.1 1442.4 L656.7 1441.6 L659.3 1440.8 L661.9 1440.1 L664.4 1439.0 L666.1 1436.0 L669.0 1435.9 L670.8 1433.2 L673.5 1432.7 L676.6 1433.2 L678.7 1431.2 L681.5 1431.0 L685.0 1432.3 L686.9 1429.9 L689.5 1429.1 L691.3 1426.4 L694.2 1426.2 L696.7 1425.2 L699.3 1424.5 L701.4 1422.4 L703.9 1421.5 L706.6 1421.0 L708.8 1419.3 L711.1 1417.7 L713.5 1416.5 L716.6 1416.9 L719.2 1416.0 L722.1 1415.9 L724.4 1414.5 L726.4 1412.3 L729.4 1412.3 L730.9 1409.2 L734.6 1410.7 L736.7 1408.8 L738.5 1406.4 L740.6 1404.5 L743.5 1404.2 L744.8 1400.9 L747.9 1401.0 L751.1 1401.4 L753.2 1399.4 L755.5 1398.0 L758.5 1397.7 L760.0 1395.1 L762.6 1393.8 L763.7 1391.2 L765.0 1388.8 L767.5 1387.6 L769.3 1384.9 L771.8 1388.4 L774.7 1386.3 L778.1 1387.4 L779.2 1383.6 L781.9 1382.9 L783.2 1379.9 L785.5 1378.6 L788.2 1377.8 L790.8 1376.7 L792.0 1373.9 L795.5 1373.9 L796.5 1370.9 L799.0 1369.8 L801.0 1367.9 L803.1 1366.2 L803.5 1362.7 L807.5 1363.0 L808.5 1360.1 L809.7 1357.6 L811.1 1355.2 L812.7 1353.1 L814.9 1351.4 L818.0 1350.6 L819.4 1348.3 L821.1 1346.1 L823.4 1344.5 L825.8 1343.0 L826.6 1340.2 L828.2 1338.0 L830.5 1336.4 L831.7 1333.9 L833.2 1331.6 L834.6 1329.3 L836.0 1327.0 L837.8 1325.0 L839.7 1323.0 L841.3 1320.8 L842.9 1318.6 L844.3 1316.3 L845.6 1314.0 L847.0 1311.7 L847.9 1309.0 L848.7 1306.4 L851.0 1304.6 L852.1 1302.1 L853.7 1299.9 L855.2 1297.7 L856.1 1295.0 L857.6 1292.8 L859.6 1290.9 L861.0 1288.6 L862.3 1286.2 L864.3 1284.2 L865.4 1281.8 L866.9 1279.5 L868.7 1277.5 L870.7 1275.6 L871.2 1272.7 L873.5 1270.9 L875.0 1268.7 L876.6 1266.5 L876.9 1263.5 L879.6 1262.0 L880.6 1259.4 L882.0 1257.1 L883.2 1254.7 L884.7 1252.4 L885.8 1249.9 L887.0 1247.5 L888.8 1245.4 L888.8 1242.3 L889.6 1239.8 L891.7 1237.8 L892.5 1235.2 L893.8 1232.8 L893.9 1229.9 L895.6 1227.7 L896.3 1225.1 L897.8 1222.7 L897.8 1219.7 L899.2 1217.5 L900.2 1215.0 L901.0 1212.4 L902.7 1210.2 L904.7 1208.1 L905.2 1205.4 L905.9 1202.7 L907.9 1200.7 L908.9 1198.2 L909.9 1195.6 L910.4 1192.9 L911.8 1190.6 L913.4 1188.3 L914.1 1185.7 L914.9 1183.1 L916.4 1180.8 L917.7 1178.4 L917.7 1175.2 L917.7 1172.5 L918.9 1170.1 L920.1 1167.7 L921.8 1165.5 L923.4 1163.2 L923.9 1160.5 L924.6 1157.9 L925.7 1155.3 L925.7 1152.6 L926.6 1150.0 L927.1 1147.3 L929.7 1145.8 L930.7 1143.2 L931.2 1140.4 L931.9 1137.8 L933.2 1135.4 L933.4 1132.6 L934.7 1130.2 L935.4 1127.6 L936.9 1125.2 L937.1 1122.4 L938.1 1119.9 L938.7 1117.3 L939.5 1114.7 L941.0 1112.3 L941.9 1109.8 L943.4 1107.4 L943.4 1104.6 L945.0 1102.3 L945.7 1099.7 L946.6 1097.1 L946.6 1094.2 L947.4 1091.7 L949.0 1089.4 L950.0 1086.8 L950.1 1084.0 L950.8 1081.5 L951.0 1078.7 L951.8 1076.1 L952.3 1073.5 L953.6 1071.0 L953.9 1068.3 L954.5 1065.7 L955.0 1063.0 L956.0 1060.5 L956.3 1057.8 L956.7 1055.1 L958.6 1052.8 L958.6 1050.0 L959.0 1047.3 L960.2 1044.8 L960.5 1042.1 L960.8 1039.4 L961.6 1036.8 L961.6 1034.0 L962.1 1031.4 L962.1 1028.5 L964.0 1026.3 L964.0 1023.3 L964.8 1020.9 L964.8 1018.2 L965.3 1015.5 L966.6 1013.0 L967.7 1010.5 L968.5 1007.9 L969.6 1005.4 L969.8 1002.7 L970.4 1000.1 L970.4 997.3 L971.7 994.8 L972.2 992.2 L972.6 989.5 L973.6 986.9 L974.0 984.3 L975.2 981.8 L975.8 979.1 L975.9 976.4 L976.4 973.7 L977.9 971.3 L977.9 968.5 L978.5 965.9 L979.7 963.4 L979.7 960.4 L980.1 958.0 L981.3 955.5 L981.3 952.6 L983.3 950.4 L983.3 947.2 L984.0 945.0 L984.5 942.3 L984.5 939.6 L984.5 936.8 L985.3 934.2 L985.3 931.4 L986.1 928.9 L986.1 926.0 L986.3 923.4 L987.3 920.8 L987.3 918.0 L987.3 915.4 L987.9 912.8 L987.9 910.0 L989.6 907.5 L989.7 904.8 L989.7 902.0 L990.3 899.5 L990.3 896.7 L990.9 894.1 L991.5 891.5 L991.7 888.8 L992.5 886.1 L992.5 883.3 L992.8 880.7 L992.8 878.0 L993.5 875.4 L993.5 872.6 L993.6 869.9 L993.9 867.3 L995.4 864.7 L996.2 862.1 L997.3 859.5 L997.3 856.8 L997.3 854.0 L997.3 851.3 L997.6 848.7 L997.6 846.0 L998.7 843.4 L998.7 840.6 L998.7 837.9 L999.0 835.2 L1000.3 832.7 L1000.3 829.9 L1000.3 827.2 L1000.5 824.6 L1000.5 821.8 L1000.5 819.1 L1000.5 816.4 L1000.5 813.6 L1001.7 811.1 L1001.7 808.4 L1002.3 805.7 L1002.7 803.1 L1004.1 800.5 L1004.1 797.7 L1004.1 795.0 L1004.1 792.3 L1004.2 789.6 L1004.2 786.9 L1005.0 784.3 L1005.1 781.6 L1005.4 778.9 L1006.8 776.4 L1006.8 773.6 L1007.2 771.0 L1007.2 768.2 L1007.3 765.5 L1008.2 762.9 L1008.8 760.3 L1008.8 757.4 L1009.3 754.9 L1009.5 752.2 L1010.1 749.6 L1010.3 746.9 L1010.3 744.1 L1010.4 741.4 L1012.1 738.9 L1012.1 736.1 L1012.1 733.3 L1012.2 730.8 L1012.2 728.1 L1012.2 725.3 L1012.2 722.6 L1013.0 720.0 L1014.2 717.4 L1014.3 714.7 L1014.5 712.0 L1015.3 709.4 L1015.7 706.7 L1015.7 703.9 L1015.7 701.3 L1015.7 698.6 L1015.9 695.9 L1016.5 693.2 L1017.0 690.6 L1017.2 687.9 L1017.2 685.1 L1017.8 682.5 L1019.4 680.0 L1019.4 677.1 L1019.4 674.4 L1019.8 671.9 L1020.3 669.2 L1020.7 666.5 L1020.7 663.8 L1021.6 661.2 L1021.6 658.4 L1021.6 655.7 L1021.9 653.1 L1022.6 650.4 L1023.4 647.8 L1023.9 645.2 L1024.1 642.5 L1025.1 639.9 L1025.1 637.1 L1025.5 634.5 L1025.5 631.7 L1025.5 629.0 L1026.4 626.4 L1026.4 623.6 L1026.6 621.0 L1026.9 618.3 L1026.9 615.6 L1027.1 612.9 L1028.2 610.3 L1028.2 607.5 L1028.4 604.9 L1029.2 602.3 L1029.2 599.5 L1029.2 596.8 L1029.4 594.2 L1030.4 591.5 L1030.4 588.7 L1030.4 586.1 L1030.4 583.4 L1030.7 580.7 L1030.9 578.0 L1031.4 575.4 L1031.4 572.6 L1031.4 569.9 L1031.4 567.2 L1031.4 564.5 L1031.9 561.9 L1032.2 559.2 L1032.2 556.4 L1033.4 553.9 L1033.4 551.1 L1033.4 548.3 L1033.8 545.8 L1033.8 543.0 L1034.1 540.4 L1034.1 537.6 L1034.8 535.0 L1035.2 532.3 L1035.2 529.6 L1035.8 527.0 L1036.9 524.4 L1036.9 521.5 L1036.9 518.9 L1037.5 516.3 L1037.5 513.6 L1037.9 510.9 L1040.0 508.5 L1040.0 505.6 L1040.6 503.1 L1040.6 500.4 L1040.6 497.6 L1041.0 495.0 L1041.6 492.3 L1042.3 489.7 L1042.4 487.0 L1042.7 484.3 L1043.0 481.6 L1043.7 479.0 L1043.7 476.3 L1043.7 473.5 L1043.7 470.8 L1044.5 468.2 L1044.5 465.5 L1044.6 462.8 L1044.9 460.1 L1045.3 457.4 L1045.9 454.8 L1046.5 452.1 L1046.5 449.3 L1047.5 446.8 L1047.5 444.0 L1049.0 441.6 L1049.0 438.8 L1049.4 436.2 L1049.7 433.5 L1049.7 430.7 L1051.0 428.3 L1051.5 425.6 L1052.5 423.1 L1052.5 420.2 L1053.6 417.8 L1053.6 415.0 L1054.5 412.5 L1054.5 409.6 L1055.4 407.1 L1056.0 404.5 L1056.7 401.9 L1057.2 399.2 L1057.5 396.5 L1058.7 394.0 L1059.4 391.4 L1060.2 388.8 L1061.0 386.3 L1061.8 383.7 L1062.6 381.1 L1064.2 379.0 L1067.0 378.9 L1069.7 379.3 L1071.0 381.6 L1071.9 384.1 L1072.8 386.7 L1073.5 389.3 L1074.5 391.8 L1075.4 394.4 L1076.2 397.0 L1076.3 399.7 L1077.5 402.2 L1078.4 404.7 L1079.4 407.3 L1079.9 409.9 L1080.3 412.6 L1081.0 415.2 L1081.9 417.8 L1082.4 420.4 L1083.4 423.0 L1084.3 425.6 L1084.3 428.4 L1084.5 431.0 L1084.5 433.9 L1085.7 436.3 L1086.1 439.0 L1086.1 441.8 L1086.7 444.4 L1087.6 446.9 L1088.0 449.6 L1088.2 452.3 L1088.4 455.0 L1088.7 457.7 L1088.7 460.5 L1089.3 463.1 L1089.8 465.7 L1090.5 468.4 L1090.8 471.0 L1090.9 473.8 L1091.5 476.4 L1092.2 479.0 L1092.4 481.7 L1093.4 484.3 L1094.2 486.9 L1094.3 489.6 L1094.3 492.4 L1094.5 495.1 L1094.5 497.8 L1095.4 500.4 L1095.6 503.1 L1095.6 505.8 L1096.4 508.4 L1097.7 511.0 L1097.9 513.7 L1098.5 516.3 L1099.6 518.9 L1099.6 521.7 L1099.7 524.3 L1100.7 526.9 L1100.7 529.7 L1101.5 532.2 L1101.9 534.9 L1102.0 537.6 L1102.4 540.3 L1102.4 543.1 L1102.5 545.7 L1102.5 548.5 L1103.0 551.1 L1103.5 553.8 L1104.1 556.4 L1105.4 558.9 L1105.4 561.7 L1106.2 564.3 L1106.2 567.1 L1106.7 569.7 L1106.7 572.5 L1107.3 575.1 L1107.8 577.7 L1108.5 580.3 L1109.0 583.0 L1109.1 585.7 L1109.1 588.4 L1110.3 591.0 L1110.3 593.8 L1110.3 596.6 L1110.7 599.1 L1111.4 601.7 L1112.0 604.4 L1113.0 607.0 L1113.0 609.8 L1113.3 612.4 L1113.7 615.0 L1113.7 617.8 L1113.7 620.6 L1115.4 623.0 L1115.4 625.8 L1115.4 628.5 L1115.4 631.2 L1115.5 633.9 L1116.1 636.5 L1116.1 639.2 L1116.8 641.9 L1117.1 644.5 L1117.2 647.3 L1118.0 649.9 L1118.7 652.5 L1119.1 655.2 L1119.1 657.9 L1119.7 660.5 L1120.2 663.2 L1120.8 665.9 L1120.8 668.6 L1121.2 671.2 L1121.2 674.0 L1121.3 676.7 L1122.9 679.2 L1122.9 682.0 L1122.9 684.6 L1123.1 687.3 L1124.2 689.9 L1124.2 692.7 L1124.8 695.3 L1124.9 698.0 L1125.4 700.7 L1125.4 703.4 L1125.7 706.1 L1125.9 708.8 L1126.6 711.4 L1127.5 714.0 L1127.8 716.7 L1128.2 719.3 L1128.2 722.1 L1128.9 724.7 L1128.9 727.5 L1128.9 730.2 L1129.4 732.8 L1129.6 735.5 L1131.1 738.0 L1132.0 740.6 L1132.0 743.3 L1132.0 746.1 L1132.2 748.8 L1133.2 751.3 L1133.2 754.1 L1133.9 756.7 L1133.9 759.5 L1134.3 762.1 L1135.3 764.7 L1135.3 767.5 L1135.8 770.1 L1136.1 772.7 L1136.7 775.4 L1136.7 778.1 L1137.6 780.7 L1137.8 783.4 L1138.5 786.0 L1138.5 788.8 L1139.7 791.3 L1140.4 793.9 L1140.4 796.8 L1140.4 799.6 L1140.6 802.1 L1142.2 804.6 L1142.2 807.3 L1142.2 810.1 L1142.4 812.8 L1142.4 815.5 L1144.0 818.0 L1144.0 820.8 L1144.3 823.4 L1144.3 826.1 L1145.6 828.6 L1145.7 831.4 L1147.0 833.9 L1148.1 836.4 L1148.6 839.1 L1148.7 841.8 L1149.3 844.4 L1149.3 847.3 L1149.3 850.0 L1150.3 852.5 L1151.3 855.0 L1151.3 857.8 L1152.3 860.4 L1152.3 863.3 L1152.4 865.8 L1152.9 868.5 L1153.7 871.1 L1155.3 873.5 L1155.4 876.2 L1156.1 878.9 L1156.3 881.6 L1156.9 884.2 L1158.2 886.7 L1158.5 889.4 L1158.5 892.2 L1159.6 894.7 L1160.2 897.3 L1160.5 900.0 L1161.5 902.5 L1161.5 905.3 L1161.6 908.0 L1161.6 910.9 L1164.0 913.0 L1164.0 915.9 L1164.1 918.6 L1164.5 921.2 L1165.1 923.9 L1165.8 926.5 L1165.9 929.2 L1166.8 931.8 L1167.4 934.4 L1168.1 937.0 L1168.8 939.6 L1169.8 942.2 L1169.8 945.0 L1170.8 947.5 L1171.5 950.1 L1172.0 952.7 L1173.3 955.2 L1174.0 957.8 L1174.5 960.5 L1174.7 963.2 L1176.2 965.6 L1176.8 968.2 L1177.1 970.9 L1177.7 973.6 L1179.3 976.0 L1179.3 978.9 L1180.4 981.3 L1181.0 983.9 L1181.4 986.6 L1182.8 989.0 L1183.8 991.5 L1183.8 994.4 L1185.6 996.6 L1185.7 999.4 L1186.0 1002.1 L1187.6 1004.5 L1188.0 1007.2 L1188.7 1009.8 L1188.7 1012.7 L1190.6 1014.8 L1190.9 1017.5 L1191.6 1020.2 L1192.5 1022.7 L1193.9 1025.1 L1193.9 1028.0 L1194.8 1030.5 L1195.6 1033.1 L1196.2 1035.7 L1197.1 1038.3 L1198.3 1040.7 L1199.2 1043.2 L1200.9 1045.5 L1201.2 1048.3 L1201.5 1051.0 L1202.7 1053.5 L1203.4 1056.1 L1204.9 1058.4 L1204.9 1061.4 L1205.4 1064.0 L1207.7 1066.0 L1208.7 1068.5 L1210.2 1070.8 L1210.3 1073.7 L1211.4 1076.2 L1212.7 1078.6 L1213.7 1081.1 L1214.6 1083.6 L1216.3 1085.8 L1216.4 1088.7 L1218.1 1090.9 L1218.6 1093.6 L1219.7 1096.1 L1220.3 1098.8 L1221.6 1101.2 L1222.2 1103.8 L1224.1 1106.0 L1224.4 1108.8 L1225.7 1111.2 L1226.6 1113.7 L1227.7 1116.2 L1228.2 1118.9 L1230.1 1121.0 L1230.3 1123.9 L1232.4 1125.9 L1232.5 1128.8 L1234.7 1130.8 L1235.4 1133.4 L1236.9 1135.7 L1236.9 1138.7 L1238.8 1140.8 L1239.4 1143.5 L1240.9 1145.8 L1242.9 1147.8 L1243.3 1150.6 L1244.3 1153.2 L1246.0 1155.3 L1247.2 1157.7 L1249.3 1159.6 L1250.8 1161.9 L1252.6 1163.9 L1254.0 1166.2 L1254.8 1168.9 L1257.2 1170.6 L1258.8 1172.7 L1260.4 1174.9 L1262.0 1177.1 L1262.2 1180.2 L1265.0 1181.5 L1266.7 1183.6 L1268.1 1185.9 L1269.9 1187.9 L1269.9 1191.5 L1275.6 1190.0 L1275.6 1194.7 L1276.4 1196.5 L1279.6 1197.2 L1280.3 1200.2 L1281.6 1202.8 L1282.7 1205.5 L1287.7 1204.2 L1290.5 1205.1 L1290.5 1210.1 L1290.8 1212.7 L1294.9 1212.2 L1298.7 1212.0 L1298.7 1217.5 L1300.3 1218.2 L1301.1 1221.4 L1304.5 1221.8 L1307.4 1222.5 L1309.5 1224.3 L1309.5 1228.5 L1310.8 1230.8 L1316.6 1228.9 L1317.2 1232.1 L1317.2 1236.8 L1319.6 1237.3 L1322.2 1238.6 L1322.7 1241.8 L1324.8 1243.5 L1326.0 1246.1 L1327.8 1248.1 L1329.9 1249.8 L1331.8 1251.7 L1332.9 1254.5 L1336.4 1254.7 L1338.3 1256.6 L1340.2 1258.4 L1341.7 1260.9 L1344.3 1261.9 L1346.8 1263.0 L1348.6 1265.2 L1350.6 1267.1 L1352.2 1269.8 L1354.9 1270.5 L1356.3 1273.7 L1359.2 1274.0 L1362.6 1273.4 L1364.8 1274.9 L1366.4 1277.8 L1369.2 1278.2 L1372.3 1278.2 L1375.6 1277.7 L1378.2 1278.7 L1379.0 1282.7 L1381.0 1284.6 L1383.9 1285.0 L1387.3 1284.5 L1388.0 1288.8 L1391.4 1288.3 L1393.1 1290.6 L1395.6 1291.7 L1399.2 1290.8 L1400.9 1293.3 L1404.7 1292.0 L1406.2 1295.0 L1409.0 1295.3 L1409.6 1299.9 L1412.1 1301.0 L1413.6 1303.8 L1416.4 1304.3 L1418.9 1305.3 L1420.8 1307.4 L1423.8 1307.7 L1425.6 1310.0 L1428.1 1311.0 L1431.2 1311.1 L1433.4 1312.7 L1436.0 1313.5 L1438.5 1314.6 L1440.3 1317.1 L1442.5 1319.0 L1445.9 1317.9 L1448.5 1318.8 L1451.7 1317.8 L1453.0 1322.0 L1455.7 1322.6 L1458.7 1322.1 L1460.1 1326.4 L1462.7 1327.0 L1466.2 1325.3 L1468.5 1326.8 L1471.4 1326.6 L1473.4 1329.3 L1476.8 1327.7 L1478.9 1329.9 L1480.8 1332.7 L1484.1 1331.3 L1486.3 1333.1 L1489.2 1333.1 L1492.2 1332.8 L1494.6 1334.2 L1496.6 1336.4 L1499.6 1336.3 L1501.2 1339.4 L1503.3 1341.4 L1506.2 1341.6 L1509.8 1339.8 L1512.2 1341.0 L1515.4 1340.3 L1516.4 1345.0 L1519.3 1345.0 L1521.7 1346.4 L1524.8 1345.6 L1527.6 1345.4 L1529.2 1349.5 L1531.8 1350.5 L1534.8 1349.7 L1537.1 1351.4 L1539.7 1352.2 L1542.4 1352.6 L1545.3 1351.9 L1548.5 1350.3 L1550.6 1353.2 L1553.0 1354.7 L1555.8 1354.5 L1558.5 1355.0 L1561.2 1354.8 L1563.6 1356.7 L1566.4 1356.2 L1569.0 1357.0 L1572.1 1355.4 L1574.4 1357.7 L1576.8 1359.6 L1579.6 1359.1 L1582.3 1359.5 L1584.7 1361.5 L1587.0 1364.5 L1589.8 1364.3 L1592.2 1366.6 L1595.2 1364.5 L1598.0 1364.3 L1600.8 1363.1 L1603.6 1362.9 L1606.0 1365.1 L1609.0 1363.5 L1611.7 1363.7 L1614.4 1363.9 L1617.1 1363.6 L1619.8 1364.2 L1622.2 1366.2 L1624.7 1368.4 L1627.3 1369.1 L1630.0 1369.4 L1632.7 1369.2 L1635.5 1368.5 L1638.2 1369.0 L1641.0 1368.5 L1643.3 1371.0 L1646.8 1366.4 L1649.0 1369.5 L1651.1 1374.1 L1654.3 1370.7 L1657.1 1370.3 L1659.6 1372.1 L1662.0 1374.1 L1664.9 1373.1 L1667.5 1373.9 L1670.1 1374.4 L1673.0 1373.6 L1675.1 1378.2 L1678.2 1375.2 L1681.0 1375.1 L1683.7 1375.2 L1686.2 1376.8 L1689.0 1376.3 L1691.5 1377.6 L1694.2 1377.6 L1697.3 1375.4 L1699.6 1378.3 L1702.4 1377.9 L1704.9 1378.8 L1708.1 1376.3 L1710.7 1377.3 L1713.5 1377.0 L1716.0 1378.4 L1719.0 1376.8 L1721.3 1379.3 L1723.9 1379.8 L1726.7 1379.7 L1729.2 1381.1 L1731.8 1382.1 L1734.1 1384.8 L1737.5 1380.7 L1739.6 1384.3 L1742.6 1383.0 L1745.1 1384.4 L1747.4 1386.7 L1750.6 1384.4 L1753.0 1386.1 L1755.8 1385.5 L1758.0 1389.2 L1760.9 1387.9 L1763.5 1389.6 L1766.5 1386.5 L1769.1 1387.1 L1771.8 1390.2 L1774.5 1388.1 L1777.2 1387.6 L1780.0 1388.2 L1782.5 1385.6 L1785.3 1387.6 L1787.9 1385.8 L1790.7 1386.6 L1792.9 1384.4 L1795.9 1385.3 L1797.9 1383.0 L1801.3 1384.0 L1804.0 1383.5 L1806.6 1382.7 L1808.6 1380.5 L1811.3 1380.2 L1812.8 1374.9 L1816.4 1379.6 L1819.0 1377.3 L1821.7 1377.4 L1824.5 1377.4 L1827.3 1376.4 L1829.9 1377.2 L1832.4 1379.5 L1835.1 1380.1 L1838.0 1378.5 L1840.8 1378.1 L1843.1 1381.1 L1846.3 1378.3 L1848.0 1383.2 L1851.4 1381.7 L1854.4 1382.0 L1855.3 1386.1 L1857.1 1388.8 L1861.2 1385.2 L1863.5 1388.8 L1864.9 1385.6 L1868.1 1385.1 L1868.3 1381.3 L1870.6 1377.4 L1874.3 1379.8 L1877.0 1381.7 L1879.5 1384.3 L1882.2 1384.0 L1885.0 1382.8 L1887.8 1381.2 L1890.5 1381.8 L1893.1 1382.8 L1896.0 1381.8 L1898.4 1383.6 L1901.6 1380.1 L1903.8 1384.5 L1906.4 1385.3 L1909.1 1388.3 L1911.9 1386.3 L1914.6 1384.5 L1917.3 1385.8 L1920.0 1383.9 L1922.7 1384.2 L1925.3 1382.7 L1928.2 1387.5 L1930.9 1386.0 L1933.5 1384.1 L1936.2 1385.0 L1938.9 1386.1 L1941.6 1385.1 L1944.3 1384.8 L1947.0 1383.1 L1949.7 1383.3 L1952.4 1383.9 L1954.9 1385.2 L1958.2 1383.8 L1960.9 1384.7 L1962.0 1388.7 L1965.4 1387.7 L1966.9 1391.6 L1970.0 1390.9 L1972.2 1392.8 L1974.5 1394.8 L1977.5 1394.3 L1980.1 1395.3 L1983.3 1393.2 L1985.9 1393.9 L1988.2 1396.6 L1990.7 1397.9 L1993.3 1397.7 L1995.2 1399.7 L1998.6 1398.0 L2001.0 1399.2 L2002.8 1401.3 L2005.7 1401.7 L2008.0 1403.2 L2011.1 1402.5 L2013.2 1405.4 L2015.9 1402.1 L2018.6 1403.8 L2021.0 1401.0 L2024.0 1403.9 L2026.2 1400.1 L2029.4 1403.0 L2031.6 1399.7 L2034.5 1400.5 L2037.4 1402.4 L2039.9 1399.2 L2042.7 1401.0 L2045.4 1400.4 L2048.1 1397.5 L2050.8 1401.0 L2053.6 1401.5 L2056.1 1399.2 L2059.1 1402.2 L2061.6 1399.6 L2064.3 1399.7 L2067.0 1401.7 L2069.7 1400.5 L2072.7 1405.2 L2075.1 1400.0 L2078.4 1402.4 L2081.2 1401.5 L2082.4 1396.8 L2084.9 1395.8 L2088.7 1397.6 L2090.6 1395.2 L2093.6 1394.6 L2096.2 1393.4 L2097.3 1390.4 L2098.7 1387.9 L2099.4 1384.6 L2104.3 1386.1 L2105.0 1382.8 L2108.4 1382.6 L2110.1 1380.4 L2110.4 1376.8 L2114.8 1377.4 L2115.8 1374.6 L2117.8 1372.7 L2117.8 1368.7 L2119.8 1366.9 L2122.0 1365.3 L2124.6 1364.2 L2126.4 1362.0 L2129.8 1362.4 L2131.8 1360.6 L2134.2 1359.1 L2136.7 1358.1 L2140.0 1360.2 L2142.2 1357.9 L2144.1 1353.3 L2147.2 1355.4 L2149.9 1355.3 L2153.1 1356.7 L2154.9 1354.0 L2157.0 1352.7 L2158.5 1350.7 L2160.8 1348.7 L2160.8 1345.9 L2161.4 1343.2 L2162.3 1340.7 L2163.9 1338.3 L2164.2 1335.6 L2164.2 1332.8 L2166.3 1330.7 L2166.4 1327.8 L2168.2 1325.6 L2168.6 1322.9 L2169.9 1320.5 L2170.4 1317.8 L2170.4 1314.8 L2171.9 1312.5 L2173.4 1308.7 L2176.5 1312.4 L2179.6 1311.9 L2180.2 1315.3 L2184.2 1315.1 L2188.2 1315.1 L2188.2 1320.6 L2189.2 1321.6 L2190.5 1324.1 L2191.5 1326.6 L2192.8 1329.0 L2193.7 1331.6 L2196.4 1333.3 L2196.4 1336.5" stroke="#ff1414"/>
<path d="M315.7 1516.2 L318.4 1515.9 L320.8 1513.6 L323.8 1516.0 L326.4 1514.5 L329.1 1514.5 L331.7 1513.3 L334.5 1514.4 L337.2 1514.5 L339.8 1513.7 L342.6 1513.6 L345.1 1511.8 L348.1 1514.3 L350.6 1512.4 L353.1 1511.0 L356.0 1512.0 L358.7 1512.2 L361.5 1513.0 L364.0 1511.4 L366.8 1511.9 L369.4 1510.3 L372.4 1512.5 L374.8 1510.5 L377.6 1511.0 L379.9 1507.8 L382.7 1508.6 L385.3 1507.3 L388.2 1508.3 L390.8 1507.9 L393.2 1505.6 L396.0 1505.9 L398.7 1505.5 L401.3 1504.9 L404.0 1504.8 L406.6 1504.1 L409.3 1503.5 L412.1 1504.1 L414.7 1503.4 L417.2 1501.5 L420.0 1502.1 L422.8 1502.3 L425.3 1501.3 L427.9 1500.6 L430.8 1501.2 L433.5 1501.2 L436.2 1500.8 L438.7 1499.2 L441.6 1500.5 L444.3 1500.0 L446.6 1497.6 L449.3 1497.6 L452.2 1498.2 L454.5 1496.0 L457.4 1496.5 L460.0 1495.8 L462.5 1494.7 L465.3 1494.9 L467.8 1493.7 L470.6 1493.8 L473.0 1492.3 L476.5 1495.7 L479.0 1494.7 L481.6 1493.9 L484.1 1492.6 L486.9 1492.7 L489.6 1492.4 L492.2 1491.5 L494.8 1490.6 L497.1 1488.5 L500.0 1489.2 L502.4 1487.8 L504.8 1486.1 L507.5 1485.7 L510.4 1486.3 L513.1 1486.0 L515.3 1483.6 L518.5 1485.3 L521.0 1484.3 L523.4 1482.5 L526.1 1482.2 L528.8 1481.9 L531.7 1482.4 L534.1 1480.8 L536.5 1479.4 L539.4 1479.8 L541.4 1476.8 L544.4 1477.7 L547.3 1477.9 L549.8 1476.7 L552.4 1476.0 L554.9 1475.1 L557.6 1474.5 L560.1 1473.4 L562.4 1471.7 L565.1 1471.3 L567.8 1470.9 L570.6 1471.0 L573.3 1470.3 L575.5 1468.5 L577.9 1467.2 L580.3 1466.0 L583.1 1465.7 L586.1 1466.0 L588.4 1464.4 L590.9 1463.5 L593.2 1461.8 L596.0 1461.8 L598.4 1460.3 L600.8 1459.0 L603.2 1457.8 L606.2 1458.0 L608.2 1455.6 L611.5 1456.7 L613.8 1455.4 L616.1 1453.7 L618.7 1453.1 L620.9 1451.2 L623.5 1450.4 L626.0 1449.4 L628.3 1448.0 L631.3 1448.1 L633.8 1447.0 L636.6 1446.9 L639.2 1446.1 L640.1 1441.1 L643.7 1442.9 L645.6 1440.4 L648.8 1441.0 L651.0 1439.1 L653.7 1438.7 L656.5 1438.3 L658.2 1435.4 L661.4 1436.1 L663.6 1434.4 L665.5 1432.0 L668.8 1432.9 L671.1 1431.4 L673.6 1430.4 L676.0 1429.1 L679.5 1430.5 L680.9 1426.8 L682.9 1424.6 L685.6 1423.9 L688.3 1423.5 L690.7 1422.3 L693.4 1421.6 L695.8 1420.5 L698.9 1420.7 L700.9 1418.6 L703.1 1416.9 L705.8 1416.3 L708.4 1415.6 L711.1 1415.1 L713.3 1413.4 L715.5 1411.7 L718.3 1411.2 L720.9 1410.5 L723.8 1410.3 L725.3 1407.1 L728.2 1406.8 L730.7 1405.8 L732.2 1402.8 L734.9 1402.3 L737.1 1400.6 L739.5 1399.4 L742.5 1399.3 L745.3 1398.7 L747.8 1397.7 L749.8 1395.8 L752.5 1395.0 L755.9 1395.6 L756.7 1391.5 L759.3 1390.5 L761.5 1388.7 L762.8 1386.2 L764.8 1384.3 L766.2 1382.0 L768.5 1381.1 L770.4 1381.7 L773.0 1380.8 L776.1 1380.9 L778.6 1379.1 L780.5 1376.9 L782.8 1375.5 L784.1 1372.8 L787.0 1372.1 L790.0 1371.5 L792.2 1369.9 L794.2 1368.1 L795.1 1365.0 L798.7 1364.9 L799.5 1361.8 L801.7 1360.2 L804.8 1359.5 L804.8 1355.5 L807.9 1354.9 L809.7 1352.9 L811.3 1350.7 L812.3 1347.9 L815.2 1346.9 L816.3 1344.2 L818.7 1342.8 L820.4 1340.7 L820.9 1337.5 L822.9 1335.7 L825.0 1333.9 L826.2 1331.5 L828.0 1329.4 L830.2 1327.7 L831.6 1325.4 L832.7 1322.8 L834.7 1321.0 L836.5 1318.9 L837.2 1316.2 L838.8 1314.0 L841.3 1312.4 L842.5 1310.0 L842.7 1306.9 L844.1 1304.7 L846.2 1302.8 L846.7 1299.9 L848.4 1297.8 L849.7 1295.4 L851.7 1293.5 L851.8 1290.4 L853.3 1288.2 L855.2 1286.1 L857.7 1284.4 L858.7 1281.9 L859.7 1279.4 L861.9 1277.6 L863.6 1275.4 L864.5 1272.8 L865.9 1270.5 L867.8 1268.5 L869.3 1266.3 L870.2 1263.6 L871.7 1261.4 L872.7 1258.8 L874.0 1256.5 L875.3 1254.1 L877.1 1252.0 L878.3 1249.6 L879.5 1247.2 L881.4 1245.2 L882.8 1242.8 L884.3 1240.6 L884.5 1237.6 L886.5 1235.6 L887.1 1232.9 L888.3 1230.5 L889.3 1228.0 L890.9 1225.8 L891.9 1223.2 L892.1 1220.4 L893.3 1218.0 L894.8 1215.7 L895.7 1213.1 L897.7 1211.0 L897.7 1208.0 L898.2 1205.4 L900.1 1203.2 L901.1 1200.7 L902.3 1198.3 L903.7 1196.0 L905.7 1193.9 L905.7 1190.9 L906.9 1188.5 L907.5 1185.8 L909.4 1183.8 L911.1 1181.5 L911.4 1178.7 L912.8 1176.4 L913.2 1173.6 L914.8 1171.3 L915.3 1168.6 L916.2 1166.1 L917.1 1163.6 L918.2 1161.1 L919.4 1158.7 L921.4 1156.6 L922.8 1154.2 L924.5 1151.9 L924.5 1148.8 L924.7 1146.2 L924.8 1143.4 L925.9 1140.9 L926.2 1138.2 L926.4 1135.4 L927.7 1133.1 L929.5 1131.2 L929.7 1128.3 L931.7 1126.3 L932.5 1123.7 L933.3 1121.1 L934.2 1118.5 L936.0 1116.3 L936.7 1113.7 L937.6 1111.1 L937.6 1108.2 L938.1 1105.6 L939.5 1103.3 L939.5 1100.4 L940.3 1097.8 L940.9 1095.2 L943.3 1093.1 L943.6 1090.4 L944.3 1087.8 L944.9 1085.1 L945.8 1082.6 L946.4 1080.0 L947.5 1077.5 L947.7 1074.7 L949.6 1072.4 L949.6 1069.6 L949.8 1066.9 L951.2 1064.5 L951.4 1061.7 L952.4 1059.2 L952.5 1056.4 L952.5 1053.6 L953.9 1051.2 L954.1 1048.5 L955.8 1046.1 L955.8 1043.2 L955.8 1040.6 L957.5 1038.2 L958.3 1035.6 L958.8 1033.0 L958.8 1030.2 L960.2 1027.7 L960.2 1024.9 L960.8 1022.3 L961.3 1019.7 L961.9 1017.1 L963.3 1014.6 L963.3 1011.8 L964.4 1009.3 L965.1 1006.7 L965.1 1003.9 L965.3 1001.2 L966.6 998.8 L966.8 996.0 L967.7 993.5 L967.7 990.6 L969.3 988.3 L969.7 985.6 L970.0 982.9 L970.0 980.1 L971.1 977.6 L971.4 974.9 L972.4 972.4 L972.4 969.6 L973.4 967.1 L973.5 964.3 L975.2 961.9 L975.2 958.9 L975.2 956.4 L976.3 953.9 L976.3 951.1 L977.1 948.5 L977.1 945.7 L977.8 943.2 L977.9 940.4 L978.8 937.9 L979.5 935.2 L979.7 932.5 L980.2 929.9 L981.7 927.4 L981.7 924.6 L981.7 921.8 L982.4 919.3 L982.6 916.6 L983.3 914.0 L984.1 911.4 L984.1 908.5 L984.8 906.0 L985.7 903.4 L985.8 900.7 L986.4 898.1 L986.4 895.2 L987.1 892.7 L988.7 890.2 L988.7 887.3 L988.7 884.7 L988.8 882.1 L989.6 879.4 L990.3 876.8 L990.3 873.9 L990.3 871.3 L991.1 868.7 L991.1 866.0 L991.4 863.3 L992.6 860.8 L992.7 858.1 L992.7 855.3 L992.7 852.5 L993.3 850.0 L993.5 847.3 L993.5 844.5 L994.2 841.9 L996.1 839.4 L996.1 836.6 L996.1 833.8 L996.1 831.2 L996.2 828.6 L996.6 825.9 L996.8 823.2 L997.5 820.6 L997.7 817.9 L997.7 815.1 L998.4 812.5 L999.0 809.9 L999.0 807.1 L1000.2 804.6 L1000.4 801.9 L1000.4 799.1 L1001.0 796.5 L1001.8 793.9 L1001.8 791.2 L1001.8 788.4 L1002.4 785.8 L1002.4 783.0 L1002.4 780.3 L1003.4 777.8 L1003.6 775.1 L1004.3 772.4 L1004.3 769.7 L1004.8 767.0 L1004.8 764.3 L1005.4 761.7 L1005.7 759.0 L1005.8 756.3 L1006.3 753.6 L1006.3 750.8 L1006.3 748.2 L1007.2 745.6 L1007.9 742.9 L1007.9 740.2 L1007.9 737.5 L1007.9 734.7 L1008.7 732.2 L1009.5 729.5 L1009.5 726.8 L1010.0 724.2 L1010.1 721.5 L1010.5 718.8 L1010.5 716.0 L1011.1 713.4 L1011.1 710.6 L1012.1 708.1 L1012.1 705.3 L1012.1 702.6 L1012.8 700.0 L1013.2 697.4 L1013.2 694.5 L1014.0 692.0 L1014.0 689.2 L1014.0 686.6 L1015.0 684.0 L1015.0 681.1 L1015.5 678.6 L1015.5 675.9 L1016.0 673.2 L1016.0 670.5 L1016.7 667.9 L1016.7 665.1 L1016.7 662.4 L1017.4 659.8 L1017.4 657.0 L1018.7 654.5 L1018.7 651.7 L1018.7 649.1 L1019.3 646.4 L1019.9 643.8 L1020.5 641.1 L1021.0 638.5 L1021.0 635.7 L1021.0 633.0 L1021.4 630.4 L1021.7 627.7 L1021.8 625.0 L1021.8 622.2 L1021.8 619.4 L1023.3 617.0 L1023.3 614.2 L1023.3 611.5 L1023.7 608.9 L1023.7 606.1 L1024.0 603.5 L1024.7 600.8 L1025.1 598.2 L1025.1 595.5 L1025.1 592.7 L1025.9 590.1 L1026.7 587.5 L1026.7 584.7 L1026.8 582.1 L1026.8 579.3 L1027.6 576.7 L1027.9 574.0 L1027.9 571.3 L1028.1 568.6 L1029.6 566.1 L1029.6 563.3 L1030.1 560.7 L1030.1 557.9 L1030.5 555.3 L1030.5 552.6 L1030.5 549.8 L1030.5 547.1 L1030.5 544.4 L1031.0 541.8 L1031.0 539.1 L1031.0 536.3 L1031.7 533.7 L1032.3 531.1 L1032.4 528.4 L1032.9 525.7 L1032.9 523.0 L1033.2 520.3 L1033.7 517.6 L1033.7 514.9 L1033.7 512.2 L1034.4 509.6 L1035.7 507.0 L1035.7 504.2 L1035.7 501.5 L1035.7 498.8 L1036.6 496.2 L1036.9 493.6 L1036.9 490.7 L1036.9 488.0 L1037.8 485.5 L1037.8 482.7 L1038.7 480.2 L1038.7 477.4 L1039.4 474.8 L1040.2 472.2 L1040.2 469.5 L1040.2 466.7 L1040.2 464.0 L1040.3 461.3 L1041.3 458.7 L1041.3 456.0 L1042.5 453.4 L1042.7 450.7 L1043.4 448.1 L1043.4 445.4 L1043.7 442.7 L1043.7 440.0 L1043.7 437.3 L1043.7 434.5 L1044.0 431.9 L1044.7 429.2 L1044.7 426.5 L1045.2 423.8 L1045.2 421.1 L1046.5 418.6 L1046.5 415.8 L1047.4 413.3 L1047.5 410.5 L1047.6 407.8 L1048.8 405.3 L1048.9 402.6 L1049.3 399.9 L1049.9 397.3 L1050.4 394.6 L1050.9 392.0 L1051.7 389.4 L1051.8 386.6 L1052.5 384.0 L1053.0 381.4 L1053.4 378.7 L1054.2 376.1 L1054.8 373.5 L1055.8 370.9 L1056.9 368.4 L1057.0 365.7 L1058.1 363.2 L1058.2 360.4 L1059.2 357.9 L1060.0 355.3 L1060.4 352.6 L1061.1 350.0 L1062.2 347.5 L1063.2 344.9 L1065.4 343.5 L1068.2 343.4 L1070.2 344.8 L1071.5 347.2 L1072.3 349.8 L1072.8 352.5 L1073.9 354.9 L1075.0 357.4 L1075.5 360.1 L1076.6 362.6 L1077.3 365.2 L1078.1 367.8 L1078.9 370.4 L1079.0 373.1 L1079.9 375.7 L1080.7 378.3 L1081.2 380.9 L1081.2 383.7 L1082.4 386.2 L1082.8 388.9 L1083.0 391.6 L1084.0 394.1 L1085.3 396.6 L1085.3 399.5 L1085.3 402.1 L1085.3 404.9 L1085.7 407.5 L1086.7 410.1 L1086.9 412.8 L1087.1 415.5 L1088.4 418.0 L1088.4 420.8 L1088.7 423.4 L1089.5 426.1 L1089.5 428.8 L1089.9 431.5 L1090.8 434.1 L1090.8 436.8 L1091.3 439.4 L1091.9 442.1 L1092.7 444.7 L1092.7 447.4 L1093.7 450.0 L1095.1 452.5 L1095.1 455.3 L1095.1 458.0 L1095.9 460.6 L1096.1 463.3 L1096.4 466.0 L1096.8 468.6 L1096.8 471.4 L1096.8 474.1 L1096.8 476.8 L1097.4 479.5 L1097.9 482.1 L1098.2 484.8 L1098.4 487.5 L1099.8 490.0 L1099.8 492.8 L1100.2 495.4 L1100.7 498.1 L1101.1 500.8 L1101.7 503.4 L1102.3 506.0 L1103.0 508.7 L1103.0 511.4 L1103.3 514.1 L1103.7 516.7 L1104.2 519.4 L1104.3 522.1 L1105.1 524.7 L1105.5 527.4 L1106.6 530.0 L1107.3 532.6 L1108.0 535.2 L1108.0 538.1 L1108.6 540.6 L1108.6 543.4 L1108.6 546.2 L1108.7 548.8 L1108.7 551.6 L1108.7 554.4 L1108.7 557.0 L1108.7 559.8 L1109.3 562.3 L1110.1 564.9 L1110.1 567.7 L1111.0 570.3 L1112.0 572.8 L1112.7 575.5 L1112.7 578.4 L1113.0 580.9 L1113.4 583.5 L1114.2 586.2 L1114.2 588.9 L1114.7 591.5 L1114.9 594.2 L1115.6 596.9 L1116.3 599.5 L1116.3 602.2 L1116.3 605.0 L1116.3 607.8 L1116.3 610.4 L1116.6 613.1 L1117.7 615.7 L1118.0 618.3 L1118.8 621.0 L1118.8 623.7 L1119.9 626.3 L1119.9 629.0 L1119.9 631.8 L1119.9 634.4 L1120.1 637.1 L1121.1 639.7 L1122.0 642.3 L1122.0 645.1 L1122.3 647.7 L1122.3 650.5 L1122.3 653.2 L1123.5 655.7 L1123.9 658.4 L1124.3 661.1 L1124.7 663.8 L1125.2 666.4 L1125.2 669.2 L1125.2 671.9 L1125.4 674.6 L1126.5 677.1 L1126.5 679.9 L1127.5 682.4 L1127.5 685.3 L1128.1 687.8 L1128.1 690.6 L1128.5 693.2 L1128.8 695.9 L1129.5 698.5 L1130.1 701.2 L1130.1 704.1 L1130.1 706.7 L1130.3 709.3 L1130.3 712.1 L1131.5 714.6 L1131.8 717.3 L1132.6 719.9 L1132.8 722.6 L1133.6 725.2 L1134.1 727.9 L1135.0 730.4 L1135.0 733.2 L1135.0 736.0 L1136.5 738.4 L1136.5 741.2 L1136.7 743.8 L1137.0 746.5 L1138.3 749.1 L1138.3 751.9 L1138.9 754.4 L1139.4 757.1 L1139.8 759.7 L1140.6 762.3 L1140.6 765.1 L1141.1 767.7 L1141.4 770.4 L1141.4 773.2 L1141.8 775.9 L1142.2 778.5 L1142.9 781.1 L1142.9 783.9 L1143.9 786.4 L1145.0 789.0 L1145.4 791.7 L1145.8 794.3 L1146.1 797.0 L1146.4 799.7 L1147.1 802.3 L1147.1 805.1 L1147.8 807.7 L1148.6 810.3 L1149.0 813.0 L1149.3 815.6 L1149.3 818.4 L1150.0 821.0 L1150.2 823.7 L1152.8 826.0 L1152.8 829.0 L1152.8 831.7 L1152.8 834.4 L1153.0 836.9 L1154.3 839.4 L1154.3 842.3 L1154.6 844.9 L1155.8 847.4 L1155.8 850.1 L1155.8 852.9 L1156.4 855.5 L1157.2 858.1 L1158.4 860.6 L1158.4 863.5 L1159.6 865.9 L1159.7 868.6 L1160.8 871.2 L1160.8 874.0 L1160.8 876.7 L1161.2 879.3 L1162.0 881.9 L1162.6 884.6 L1163.1 887.2 L1164.8 889.6 L1164.8 892.6 L1164.8 895.2 L1165.7 897.7 L1166.0 900.4 L1166.5 903.0 L1166.5 905.9 L1167.5 908.4 L1168.6 910.9 L1169.4 913.5 L1170.7 915.9 L1171.0 918.6 L1171.4 921.3 L1172.2 923.9 L1172.6 926.6 L1172.8 929.3 L1173.8 931.9 L1174.3 934.5 L1175.0 937.1 L1175.9 939.7 L1176.9 942.2 L1177.5 944.8 L1179.2 947.2 L1179.2 950.1 L1180.5 952.4 L1180.5 955.3 L1181.1 957.8 L1181.3 960.6 L1182.3 963.1 L1183.7 965.5 L1183.7 968.5 L1184.1 971.0 L1185.2 973.5 L1185.9 976.1 L1186.1 978.9 L1187.0 981.4 L1187.9 984.0 L1189.6 986.3 L1190.2 988.9 L1190.5 991.6 L1190.5 994.5 L1192.0 996.8 L1193.2 999.3 L1193.4 1002.1 L1194.7 1004.5 L1195.3 1007.1 L1196.1 1009.7 L1197.7 1012.0 L1197.7 1014.9 L1198.8 1017.3 L1199.8 1019.8 L1200.9 1022.3 L1201.3 1025.0 L1201.7 1027.7 L1203.5 1030.0 L1204.3 1032.6 L1204.3 1035.5 L1205.8 1037.8 L1207.1 1040.2 L1207.1 1043.1 L1207.9 1045.6 L1208.7 1048.2 L1209.7 1050.7 L1210.2 1053.4 L1211.4 1055.8 L1212.6 1058.3 L1213.4 1060.8 L1214.0 1063.5 L1214.8 1066.1 L1216.2 1068.4 L1217.5 1070.9 L1220.2 1072.7 L1220.2 1075.6 L1221.0 1078.2 L1221.8 1080.7 L1223.5 1083.0 L1223.5 1086.2 L1224.1 1088.5 L1225.6 1090.9 L1226.2 1093.5 L1227.2 1096.0 L1228.2 1098.5 L1229.1 1101.1 L1230.6 1103.4 L1231.9 1105.8 L1232.6 1108.4 L1233.5 1111.0 L1235.1 1113.2 L1235.2 1116.1 L1237.1 1118.2 L1237.2 1121.2 L1238.9 1123.3 L1240.9 1125.4 L1241.6 1128.0 L1242.5 1130.6 L1244.1 1132.8 L1245.9 1134.9 L1246.4 1137.7 L1246.9 1140.5 L1249.8 1142.0 L1250.2 1144.9 L1252.2 1146.8 L1254.4 1148.7 L1255.7 1151.0 L1257.1 1153.3 L1257.4 1156.3 L1259.0 1158.5 L1261.5 1160.1 L1261.5 1163.7 L1263.8 1165.0 L1264.6 1167.8 L1266.2 1170.0 L1267.5 1172.4 L1269.6 1174.2 L1270.4 1177.0 L1272.7 1178.6 L1273.6 1181.3 L1275.5 1183.3 L1276.3 1186.1 L1279.3 1187.2 L1279.3 1191.0 L1282.6 1191.5 L1285.0 1193.0 L1287.9 1194.0 L1289.1 1196.5 L1293.2 1196.2 L1294.9 1198.3 L1295.2 1201.9 L1299.2 1201.5 L1299.2 1206.2 L1302.1 1206.3 L1303.3 1209.0 L1305.2 1211.0 L1307.0 1212.9 L1309.0 1214.8 L1310.9 1216.7 L1312.8 1218.6 L1313.6 1221.6 L1315.3 1223.7 L1317.1 1225.8 L1320.2 1226.5 L1322.8 1227.8 L1326.0 1228.5 L1326.0 1233.1 L1327.2 1234.8 L1330.2 1235.7 L1330.9 1238.7 L1331.6 1241.8 L1335.1 1242.2 L1336.5 1244.6 L1339.1 1245.7 L1342.8 1245.5 L1343.8 1248.5 L1346.1 1249.9 L1347.9 1252.0 L1351.1 1252.1 L1352.7 1254.4 L1355.5 1255.0 L1357.1 1257.5 L1359.4 1258.9 L1361.0 1261.4 L1363.4 1262.7 L1366.2 1263.2 L1368.9 1263.9 L1371.3 1265.2 L1373.2 1267.3 L1374.6 1270.4 L1379.4 1267.4 L1380.1 1271.6 L1382.2 1273.4 L1383.8 1276.0 L1387.5 1275.0 L1388.9 1278.0 L1390.9 1280.0 L1394.1 1279.7 L1397.5 1279.3 L1398.7 1282.6 L1401.3 1283.5 L1402.5 1286.8 L1406.0 1286.1 L1406.9 1290.1 L1410.5 1289.1 L1413.5 1289.4 L1415.6 1291.1 L1418.9 1290.9 L1420.2 1294.0 L1422.3 1295.8 L1425.2 1296.1 L1426.5 1299.2 L1430.1 1298.4 L1431.7 1301.0 L1432.6 1305.1 L1437.3 1301.8 L1437.7 1307.0 L1440.7 1307.2 L1444.9 1304.5 L1447.1 1306.1 L1449.1 1308.2 L1450.5 1311.7 L1454.0 1310.3 L1456.4 1311.6 L1458.5 1313.8 L1461.2 1314.1 L1463.6 1315.5 L1466.2 1316.1 L1467.9 1319.4 L1470.9 1319.0 L1472.1 1323.6 L1475.5 1322.3 L1478.2 1322.5 L1480.2 1325.0 L1483.0 1325.1 L1486.8 1322.7 L1488.5 1325.8 L1492.0 1324.2 L1494.4 1325.7 L1496.0 1328.9 L1499.5 1327.4 L1501.2 1330.4 L1503.8 1331.1 L1505.3 1334.9 L1508.6 1333.7 L1511.7 1333.4 L1514.1 1334.6 L1516.4 1336.1 L1518.7 1337.8 L1521.4 1338.3 L1523.5 1340.6 L1526.5 1340.1 L1529.0 1341.1 L1531.7 1341.5 L1534.5 1341.6 L1537.0 1342.5 L1539.5 1343.8 L1542.2 1344.2 L1545.2 1343.2 L1548.2 1342.2 L1550.5 1344.4 L1552.8 1346.1 L1556.0 1344.5 L1558.1 1347.4 L1560.4 1349.7 L1563.4 1348.4 L1566.1 1348.6 L1568.1 1352.5 L1570.8 1353.0 L1574.1 1349.9 L1576.4 1352.7 L1579.1 1352.9 L1582.2 1350.8 L1584.1 1355.7 L1587.6 1351.1 L1590.1 1352.3 L1593.0 1351.5 L1595.5 1353.0 L1598.4 1352.0 L1600.9 1353.1 L1603.3 1355.3 L1606.1 1354.7 L1609.0 1354.0 L1611.2 1357.3 L1614.3 1355.1 L1616.6 1357.5 L1619.5 1356.8 L1622.0 1357.9 L1624.7 1358.5 L1627.3 1359.4 L1630.0 1359.2 L1632.9 1358.1 L1635.6 1358.9 L1637.9 1361.0 L1640.7 1360.6 L1643.7 1359.5 L1646.1 1361.1 L1648.8 1361.8 L1651.2 1363.3 L1653.8 1364.1 L1656.5 1364.9 L1659.4 1363.4 L1662.0 1364.7 L1665.0 1362.9 L1667.9 1361.4 L1669.9 1366.6 L1672.8 1365.4 L1675.4 1366.3 L1678.0 1366.7 L1680.4 1369.5 L1683.4 1367.1 L1685.9 1369.4 L1688.8 1368.0 L1691.6 1366.7 L1694.4 1366.5 L1696.6 1370.5 L1699.3 1371.0 L1701.8 1372.0 L1704.4 1373.1 L1707.3 1371.7 L1709.9 1372.7 L1712.7 1372.2 L1715.4 1372.2 L1718.2 1371.8 L1721.0 1371.1 L1723.0 1376.3 L1726.5 1370.8 L1728.9 1373.3 L1731.5 1374.0 L1734.3 1373.6 L1737.3 1372.4 L1739.7 1374.4 L1742.6 1373.9 L1745.3 1374.4 L1747.6 1376.5 L1750.3 1376.8 L1752.8 1377.8 L1755.1 1379.8 L1758.3 1377.7 L1760.6 1380.0 L1763.5 1378.3 L1766.0 1379.9 L1768.7 1379.9 L1771.4 1380.5 L1774.0 1378.5 L1776.7 1379.1 L1779.4 1379.6 L1782.2 1380.9 L1785.0 1382.0 L1787.7 1381.9 L1790.2 1379.0 L1793.0 1379.6 L1794.8 1376.4 L1796.7 1374.3 L1799.9 1375.0 L1802.3 1373.9 L1804.0 1371.2 L1806.4 1369.6 L1810.2 1371.7 L1812.4 1369.4 L1815.2 1368.1 L1818.2 1372.9 L1820.8 1370.4 L1823.6 1370.2 L1826.1 1372.3 L1828.9 1371.0 L1831.2 1373.9 L1834.5 1369.9 L1837.2 1370.8 L1839.7 1372.2 L1842.3 1372.6 L1844.4 1376.1 L1848.2 1371.6 L1850.5 1374.0 L1852.5 1376.1 L1854.5 1378.3 L1856.6 1380.4 L1859.8 1379.9 L1862.6 1382.7 L1865.1 1379.2 L1867.6 1378.2 L1870.2 1377.5 L1871.8 1374.7 L1874.6 1374.7 L1877.2 1373.9 L1879.9 1373.4 L1882.6 1372.5 L1885.4 1373.1 L1888.3 1372.2 L1890.8 1374.7 L1893.9 1372.1 L1895.9 1377.4 L1898.6 1377.5 L1901.4 1377.0 L1904.2 1375.8 L1907.0 1375.4 L1909.5 1377.9 L1912.2 1377.0 L1914.9 1377.6 L1917.6 1375.6 L1920.3 1378.1 L1922.9 1375.8 L1925.7 1376.9 L1928.3 1375.4 L1931.1 1376.5 L1933.9 1377.9 L1936.5 1376.3 L1939.2 1376.5 L1941.8 1378.4 L1944.5 1377.2 L1947.1 1378.2 L1950.2 1373.5 L1952.4 1378.0 L1954.9 1378.6 L1958.4 1376.3 L1961.5 1376.3 L1962.9 1379.8 L1966.1 1379.0 L1968.4 1380.4 L1970.7 1382.0 L1973.7 1381.9 L1976.0 1383.6 L1978.5 1384.4 L1980.4 1386.9 L1983.0 1387.7 L1985.8 1387.2 L1988.6 1384.4 L1991.1 1388.6 L1993.8 1388.7 L1997.1 1386.9 L1998.3 1391.1 L2002.8 1388.9 L2002.8 1394.6 L2006.2 1393.6 L2007.4 1397.0 L2010.9 1395.3 L2013.4 1394.9 L2015.9 1397.1 L2018.7 1397.4 L2021.4 1397.5 L2024.2 1398.0 L2026.6 1395.4 L2029.6 1397.5 L2032.2 1396.8 L2034.7 1395.2 L2037.4 1394.5 L2040.0 1393.1 L2042.8 1396.0 L2045.5 1396.4 L2048.2 1393.9 L2050.8 1393.1 L2053.8 1395.3 L2055.6 1391.0 L2059.0 1393.3 L2061.3 1390.9 L2064.1 1388.8 L2066.9 1391.5 L2069.6 1391.9 L2072.1 1394.6 L2075.0 1396.6 L2077.6 1392.7 L2080.8 1393.8 L2083.6 1392.9 L2085.1 1389.7 L2087.3 1388.1 L2091.5 1389.6 L2091.6 1384.9 L2094.2 1383.8 L2096.1 1381.9 L2098.0 1380.0 L2100.2 1378.4 L2103.2 1377.8 L2105.6 1376.4 L2106.8 1373.6 L2108.4 1371.4 L2111.6 1370.8 L2112.4 1367.8 L2115.3 1366.8 L2119.1 1366.9 L2121.9 1366.0 L2121.9 1361.8 L2121.9 1358.1 L2125.2 1357.8 L2125.2 1352.4 L2127.4 1352.0 L2131.0 1352.7 L2133.1 1351.3 L2135.9 1349.1 L2138.4 1348.9 L2141.3 1352.0 L2143.9 1350.9 L2146.3 1349.3 L2149.2 1350.1 L2151.6 1348.4 L2153.3 1345.5 L2157.7 1348.0 L2158.1 1344.5 L2158.9 1342.0 L2159.4 1339.3 L2161.3 1337.1 L2161.3 1334.2 L2163.1 1332.1 L2163.2 1329.2 L2165.3 1327.1 L2165.5 1324.3 L2166.8 1321.9 L2166.9 1319.1 L2168.5 1316.8 L2170.1 1314.6 L2172.6 1312.8 L2172.6 1308.9 L2172.6 1305.7 L2175.4 1305.4 L2178.5 1305.0 L2181.6 1305.8 L2183.2 1308.5 L2187.0 1308.6 L2187.5 1312.0 L2188.4 1314.9 L2189.4 1317.5 L2191.5 1319.3 L2193.3 1321.4 L2194.2 1324.0 L2195.0 1326.6" stroke="#14a0ff"/>
<path d="M315.6 1514.3 L318.4 1514.5 L321.0 1513.2 L323.8 1514.9 L326.5 1514.2 L329.3 1515.4 L331.8 1513.0 L334.4 1512.5 L337.1 1511.6 L339.9 1512.7 L342.3 1510.2 L345.2 1511.8 L347.8 1510.7 L350.4 1509.9 L353.1 1509.2 L356.1 1511.5 L358.8 1511.3 L361.2 1509.0 L364.0 1509.6 L366.9 1510.9 L369.3 1508.1 L372.0 1508.3 L374.5 1506.6 L377.3 1507.1 L380.0 1507.2 L382.6 1506.2 L385.2 1505.0 L387.8 1504.4 L390.5 1504.0 L393.1 1503.4 L396.1 1505.1 L398.6 1503.5 L401.2 1502.8 L404.1 1504.0 L406.8 1503.6 L409.4 1502.5 L412.1 1502.5 L414.9 1502.6 L417.5 1502.1 L420.1 1501.0 L422.8 1501.1 L425.4 1500.5 L428.3 1501.0 L430.7 1498.9 L433.5 1499.6 L436.1 1498.7 L438.6 1497.2 L441.6 1498.5 L444.2 1498.2 L446.5 1495.3 L449.6 1497.6 L451.9 1494.7 L454.5 1494.5 L457.3 1494.3 L460.0 1494.2 L462.6 1493.4 L465.2 1492.7 L468.0 1492.9 L470.5 1491.7 L473.4 1492.4 L476.2 1492.8 L478.6 1490.8 L480.8 1488.0 L483.7 1488.9 L486.3 1488.0 L489.1 1488.3 L491.7 1487.6 L494.2 1486.3 L496.8 1485.5 L499.6 1485.9 L502.3 1485.5 L504.5 1483.1 L507.8 1485.5 L510.2 1483.7 L512.7 1482.5 L515.5 1482.6 L517.7 1480.2 L520.5 1480.5 L523.3 1480.6 L525.9 1479.9 L528.5 1478.9 L531.0 1477.9 L533.3 1476.0 L536.5 1477.5 L538.9 1476.0 L541.3 1474.7 L543.6 1472.6 L546.5 1473.2 L548.9 1471.6 L552.3 1474.0 L554.6 1472.2 L557.0 1470.8 L559.8 1470.7 L563.3 1472.8 L565.5 1470.9 L567.5 1468.3 L570.5 1468.7 L572.8 1467.1 L575.3 1466.0 L578.3 1466.4 L581.2 1466.6 L583.5 1465.1 L585.7 1463.0 L588.1 1461.7 L590.8 1461.2 L593.5 1460.8 L595.3 1457.9 L597.8 1456.8 L601.2 1458.1 L603.3 1456.1 L606.1 1455.9 L608.3 1454.0 L611.0 1453.7 L612.9 1451.0 L615.9 1451.3 L618.9 1451.5 L621.2 1449.9 L623.2 1447.8 L626.3 1448.1 L628.4 1446.3 L630.9 1445.0 L633.9 1445.3 L636.7 1445.2 L639.0 1443.6 L640.8 1440.9 L644.0 1441.4 L646.4 1440.2 L648.5 1438.2 L650.2 1435.4 L653.7 1436.8 L656.4 1436.2 L658.7 1434.7 L660.4 1431.8 L663.0 1431.0 L666.4 1432.2 L668.9 1431.1 L671.3 1429.9 L673.4 1427.9 L676.1 1427.4 L678.5 1426.1 L681.1 1425.3 L683.3 1423.6 L686.2 1423.4 L688.2 1421.4 L691.3 1421.6 L693.7 1420.4 L695.6 1418.1 L699.2 1419.3 L700.6 1415.9 L703.7 1416.3 L706.4 1415.7 L709.1 1414.9 L710.2 1411.1 L713.9 1412.4 L716.3 1411.1 L718.8 1410.1 L719.9 1406.2 L722.9 1406.3 L725.5 1405.3 L727.8 1403.9 L730.6 1403.5 L732.0 1400.3 L735.2 1400.5 L737.1 1398.4 L738.8 1395.9 L741.3 1394.9 L743.7 1393.6 L746.4 1392.9 L749.4 1392.7 L751.2 1390.4 L753.9 1389.7 L754.9 1386.2 L756.5 1383.8 L760.3 1384.6 L762.5 1382.8 L763.6 1380.2 L765.0 1377.9 L767.3 1376.4 L769.6 1376.5 L771.7 1374.5 L774.2 1373.5 L776.5 1372.9 L780.0 1373.5 L781.1 1370.3 L783.8 1369.5 L786.4 1368.3 L788.4 1366.6 L789.8 1364.0 L793.1 1363.7 L794.9 1361.6 L797.0 1359.9 L799.3 1358.4 L800.4 1355.5 L803.1 1354.5 L804.2 1351.7 L806.4 1350.1 L807.7 1347.6 L809.8 1345.9 L810.5 1342.8 L813.2 1341.6 L814.5 1339.2 L816.7 1337.5 L818.8 1335.8 L820.4 1333.6 L822.3 1331.7 L823.2 1329.0 L825.9 1327.7 L826.9 1325.0 L828.6 1322.9 L830.1 1320.6 L832.1 1318.8 L832.8 1315.9 L835.2 1314.4 L837.1 1312.4 L838.9 1310.3 L840.5 1308.1 L841.7 1305.7 L842.7 1303.1 L845.0 1301.3 L846.0 1298.8 L847.2 1296.4 L848.4 1293.9 L849.3 1291.3 L850.4 1288.9 L852.4 1286.9 L853.9 1284.6 L854.2 1281.7 L856.3 1279.8 L857.5 1277.4 L859.0 1275.2 L860.1 1272.6 L861.7 1270.4 L863.1 1268.1 L864.8 1266.0 L865.4 1263.2 L867.7 1261.5 L869.0 1259.1 L870.2 1256.7 L872.3 1254.8 L872.8 1251.9 L874.8 1250.0 L876.3 1247.7 L876.6 1244.8 L878.4 1242.7 L879.3 1240.1 L880.5 1237.7 L881.0 1234.9 L883.1 1232.9 L884.0 1230.3 L885.6 1228.1 L886.5 1225.6 L888.1 1223.3 L888.6 1220.6 L890.2 1218.3 L891.3 1215.9 L891.9 1213.2 L893.3 1210.9 L894.0 1208.2 L895.1 1205.8 L895.8 1203.1 L897.2 1200.8 L898.7 1198.5 L899.4 1195.8 L900.7 1193.5 L901.8 1191.0 L902.4 1188.3 L904.3 1186.2 L905.7 1183.9 L906.3 1181.2 L906.7 1178.4 L908.8 1176.4 L909.5 1173.7 L911.8 1171.8 L912.0 1168.9 L913.3 1166.5 L913.8 1163.9 L915.3 1161.6 L915.9 1158.9 L916.7 1156.3 L917.9 1153.8 L918.6 1151.2 L920.5 1149.1 L920.5 1146.1 L921.7 1143.7 L922.3 1141.1 L922.9 1138.5 L924.8 1136.2 L924.8 1133.2 L926.0 1130.9 L926.0 1128.0 L926.7 1125.6 L928.4 1123.7 L928.7 1120.6 L930.5 1119.0 L932.5 1116.8 L932.9 1114.1 L933.3 1111.4 L934.5 1108.9 L934.9 1106.2 L936.1 1103.8 L937.6 1101.4 L937.6 1098.5 L938.6 1096.1 L939.9 1093.7 L940.7 1091.1 L940.7 1088.3 L941.7 1085.8 L941.9 1083.0 L942.8 1080.4 L943.6 1077.9 L944.4 1075.3 L945.1 1072.7 L945.6 1070.0 L947.0 1067.6 L948.4 1065.2 L949.7 1062.7 L949.7 1059.9 L950.5 1057.4 L951.4 1054.8 L951.9 1052.1 L952.0 1049.4 L952.6 1046.8 L954.2 1044.4 L954.2 1041.4 L954.2 1038.8 L954.2 1036.0 L956.1 1033.7 L956.3 1031.0 L958.0 1028.6 L958.0 1025.8 L959.1 1023.3 L959.5 1020.6 L960.6 1018.1 L960.6 1015.2 L961.9 1012.9 L961.9 1010.0 L961.9 1007.3 L961.9 1004.6 L962.8 1002.0 L963.3 999.4 L963.3 996.5 L964.6 994.1 L965.3 991.5 L965.3 988.7 L966.7 986.3 L968.0 983.8 L968.0 980.9 L968.0 978.2 L969.5 975.8 L969.5 973.0 L970.0 970.4 L970.0 967.7 L970.8 965.1 L972.2 962.6 L972.6 959.9 L972.6 957.1 L973.0 954.5 L973.6 951.9 L974.1 949.2 L974.5 946.5 L974.5 943.7 L974.5 941.0 L975.1 938.4 L975.2 935.7 L976.2 933.1 L976.3 930.4 L976.6 927.7 L977.4 925.1 L978.1 922.5 L978.8 919.9 L979.3 917.2 L979.7 914.5 L979.9 911.8 L981.5 909.4 L981.6 906.6 L981.9 904.0 L982.6 901.3 L982.9 898.6 L982.9 895.9 L983.5 893.3 L985.1 890.8 L985.1 888.0 L985.1 885.3 L985.1 882.5 L985.5 879.9 L986.8 877.4 L986.8 874.6 L987.3 872.0 L987.8 869.3 L987.8 866.6 L988.7 864.0 L988.7 861.2 L988.7 858.5 L988.7 855.8 L990.3 853.3 L990.3 850.5 L990.3 847.8 L991.1 845.3 L991.1 842.5 L991.4 839.9 L991.4 837.1 L992.2 834.5 L992.3 831.8 L993.4 829.2 L993.4 826.5 L993.9 823.8 L994.2 821.2 L994.8 818.5 L994.8 815.8 L995.7 813.2 L995.8 810.5 L996.1 807.8 L996.1 805.0 L997.3 802.5 L997.3 799.7 L997.6 797.1 L998.0 794.4 L998.0 791.7 L998.0 789.0 L998.4 786.3 L999.6 783.7 L999.6 780.9 L999.6 778.3 L1000.3 775.7 L1000.9 773.0 L1001.6 770.4 L1001.6 767.6 L1001.7 765.0 L1004.2 762.6 L1004.2 759.7 L1004.2 757.0 L1004.2 754.3 L1004.3 751.7 L1004.3 748.9 L1004.5 746.3 L1004.7 743.6 L1005.2 740.9 L1005.3 738.2 L1005.3 735.5 L1005.5 732.8 L1005.5 730.0 L1006.2 727.4 L1006.2 724.6 L1006.4 722.0 L1007.8 719.5 L1007.8 716.7 L1007.8 714.0 L1008.1 711.3 L1009.2 708.7 L1009.2 706.0 L1009.4 703.3 L1010.6 700.8 L1010.6 698.0 L1010.6 695.3 L1011.0 692.6 L1011.5 690.0 L1011.5 687.2 L1012.1 684.6 L1012.3 681.9 L1012.9 679.3 L1012.9 676.4 L1012.9 673.8 L1012.9 671.1 L1013.2 668.4 L1013.8 665.8 L1014.1 663.1 L1014.5 660.4 L1014.7 657.7 L1014.9 655.0 L1015.3 652.4 L1016.1 649.8 L1016.5 647.1 L1017.1 644.4 L1017.3 641.7 L1017.5 639.0 L1017.5 636.2 L1017.5 633.6 L1017.5 630.9 L1017.8 628.2 L1018.6 625.6 L1018.9 622.9 L1019.2 620.2 L1019.7 617.6 L1020.8 615.0 L1020.8 612.2 L1020.8 609.5 L1021.3 606.9 L1021.4 604.2 L1022.2 601.5 L1022.2 598.8 L1022.4 596.1 L1022.4 593.4 L1022.6 590.7 L1023.3 588.1 L1023.3 585.2 L1023.8 582.7 L1024.3 580.0 L1024.3 577.3 L1024.3 574.6 L1025.0 572.0 L1025.0 569.2 L1025.8 566.6 L1026.5 564.0 L1026.5 561.2 L1026.5 558.5 L1027.0 555.9 L1027.2 553.2 L1027.7 550.5 L1027.7 547.8 L1028.6 545.2 L1028.6 542.4 L1028.7 539.8 L1029.2 537.1 L1029.2 534.4 L1029.4 531.7 L1029.4 529.0 L1030.3 526.4 L1031.0 523.7 L1031.6 521.1 L1031.6 518.3 L1031.6 515.6 L1031.6 512.9 L1032.3 510.3 L1032.5 507.6 L1032.5 504.7 L1032.5 502.1 L1032.5 499.4 L1033.4 496.8 L1033.5 494.1 L1033.7 491.4 L1034.6 488.8 L1034.6 486.1 L1034.6 483.4 L1035.2 480.8 L1035.8 478.1 L1035.8 475.4 L1036.1 472.7 L1036.1 469.9 L1037.0 467.4 L1037.0 464.6 L1037.0 461.9 L1037.6 459.3 L1037.8 456.6 L1038.2 453.9 L1039.2 451.3 L1039.6 448.7 L1040.0 446.0 L1040.4 443.3 L1040.4 440.5 L1040.5 437.9 L1041.6 435.3 L1042.1 432.6 L1042.1 429.7 L1042.1 427.1 L1042.1 424.5 L1042.1 421.7 L1042.1 419.0 L1042.4 416.4 L1042.4 413.6 L1042.4 410.9 L1042.8 408.3 L1043.3 405.6 L1044.0 402.9 L1044.2 400.3 L1044.2 397.5 L1044.2 394.8 L1044.5 392.1 L1044.8 389.4 L1045.5 386.8 L1046.4 384.2 L1046.8 381.5 L1047.9 379.0 L1047.9 376.2 L1047.9 373.4 L1048.4 370.9 L1048.9 368.2 L1048.9 365.4 L1048.9 362.7 L1050.0 360.2 L1050.4 357.5 L1050.5 354.8 L1051.7 352.3 L1052.3 349.7 L1052.9 347.0 L1053.6 344.4 L1054.6 341.9 L1055.2 339.2 L1055.7 336.6 L1055.8 333.8 L1057.5 331.5 L1057.7 328.8 L1058.6 326.2 L1059.2 323.6 L1060.3 321.0 L1060.8 318.4 L1061.7 315.8 L1062.5 313.3 L1063.3 310.7 L1064.3 308.3 L1066.9 308.2 L1069.5 308.2 L1070.5 310.5 L1071.6 313.0 L1072.1 315.6 L1073.1 318.2 L1073.9 320.7 L1074.8 323.3 L1075.7 325.8 L1076.5 328.4 L1077.4 330.9 L1078.5 333.4 L1079.1 336.1 L1080.3 338.6 L1080.5 341.3 L1081.2 343.9 L1081.5 346.6 L1081.6 349.4 L1082.1 352.0 L1082.6 354.7 L1082.7 357.4 L1084.6 359.8 L1084.6 362.6 L1084.8 365.2 L1085.5 367.8 L1086.5 370.4 L1086.5 373.2 L1086.5 375.9 L1087.1 378.5 L1087.9 381.1 L1088.1 383.8 L1088.3 386.5 L1088.5 389.2 L1089.0 391.9 L1090.0 394.5 L1090.4 397.1 L1091.2 399.7 L1091.6 402.4 L1092.5 405.0 L1092.5 407.8 L1093.3 410.3 L1094.0 413.0 L1094.0 415.7 L1094.4 418.4 L1094.5 421.1 L1095.5 423.7 L1095.5 426.5 L1095.5 429.1 L1095.6 431.8 L1095.6 434.6 L1095.9 437.3 L1097.0 439.8 L1097.0 442.6 L1097.8 445.2 L1097.8 447.9 L1097.8 450.6 L1099.5 453.1 L1099.8 455.8 L1100.3 458.4 L1100.3 461.2 L1101.0 463.8 L1101.7 466.4 L1101.7 469.3 L1101.7 472.0 L1102.2 474.5 L1102.2 477.3 L1102.2 480.0 L1102.2 482.8 L1102.2 485.4 L1103.7 487.9 L1104.4 490.6 L1105.2 493.2 L1105.2 495.9 L1105.8 498.6 L1105.8 501.3 L1106.2 504.0 L1107.1 506.6 L1107.2 509.3 L1107.2 512.1 L1107.2 514.7 L1108.0 517.3 L1108.2 520.0 L1108.8 522.7 L1109.2 525.3 L1109.9 528.0 L1109.9 530.8 L1110.4 533.4 L1110.4 536.1 L1112.2 538.6 L1112.2 541.4 L1112.2 544.1 L1113.5 546.6 L1113.5 549.5 L1113.5 552.1 L1113.5 554.7 L1114.1 557.4 L1114.1 560.2 L1114.1 562.9 L1114.1 565.6 L1114.9 568.2 L1115.4 570.8 L1115.4 573.6 L1116.2 576.2 L1116.2 578.9 L1117.3 581.5 L1117.3 584.2 L1117.4 586.9 L1117.4 589.7 L1118.6 592.2 L1118.8 594.9 L1118.8 597.7 L1118.8 600.3 L1118.8 603.1 L1119.1 605.7 L1119.8 608.4 L1120.2 611.0 L1121.6 613.6 L1121.6 616.3 L1121.6 619.0 L1121.8 621.7 L1122.8 624.3 L1123.0 627.0 L1123.3 629.7 L1123.3 632.5 L1123.5 635.1 L1124.0 637.8 L1124.6 640.4 L1124.6 643.1 L1125.3 645.8 L1125.3 648.5 L1126.6 651.0 L1126.6 653.9 L1126.6 656.5 L1127.0 659.2 L1127.2 661.9 L1127.8 664.5 L1127.8 667.3 L1128.4 669.9 L1129.1 672.5 L1129.4 675.2 L1129.4 678.0 L1129.4 680.7 L1129.8 683.3 L1130.2 686.0 L1131.1 688.6 L1132.7 691.1 L1132.9 693.8 L1133.6 696.4 L1133.6 699.1 L1134.2 701.8 L1134.2 704.5 L1134.9 707.1 L1135.8 709.7 L1135.8 712.5 L1136.1 715.1 L1137.5 717.6 L1137.5 720.4 L1137.5 723.2 L1138.0 725.8 L1138.0 728.5 L1138.7 731.1 L1138.7 733.9 L1139.3 736.5 L1139.9 739.1 L1139.9 741.9 L1140.1 744.6 L1140.7 747.2 L1141.0 749.9 L1141.8 752.5 L1142.0 755.2 L1142.9 757.8 L1143.0 760.5 L1144.0 763.1 L1144.7 765.7 L1145.3 768.3 L1145.6 771.0 L1145.6 773.8 L1145.9 776.5 L1147.3 779.0 L1147.3 781.7 L1147.9 784.3 L1148.2 787.0 L1148.5 789.7 L1148.9 792.4 L1150.0 794.9 L1151.1 797.5 L1151.1 800.4 L1151.1 803.1 L1151.7 805.6 L1151.7 808.3 L1152.9 810.9 L1152.9 813.6 L1153.7 816.2 L1153.8 818.9 L1154.8 821.5 L1156.4 824.0 L1156.4 826.9 L1156.4 829.5 L1157.8 831.9 L1157.8 834.9 L1157.8 837.5 L1157.8 840.3 L1157.8 843.0 L1158.1 845.6 L1158.9 848.2 L1159.2 850.9 L1159.9 853.5 L1159.9 856.4 L1160.2 859.0 L1161.5 861.4 L1162.2 864.0 L1162.6 866.7 L1162.9 869.4 L1164.0 871.9 L1164.8 874.5 L1164.8 877.4 L1165.4 879.9 L1167.1 882.3 L1167.6 885.0 L1167.8 887.7 L1168.2 890.4 L1168.9 893.0 L1169.8 895.6 L1171.2 898.0 L1171.2 900.8 L1171.8 903.4 L1173.0 905.9 L1173.8 908.5 L1174.1 911.2 L1175.3 913.7 L1176.5 916.1 L1176.5 919.0 L1177.5 921.5 L1177.5 924.4 L1177.8 926.9 L1178.7 929.5 L1178.9 932.2 L1179.0 935.0 L1181.5 937.2 L1181.5 940.1 L1181.5 942.9 L1183.2 945.1 L1183.3 947.8 L1184.1 950.4 L1184.3 953.2 L1185.5 955.6 L1186.2 958.2 L1186.3 961.0 L1186.5 963.7 L1187.3 966.3 L1188.5 968.8 L1188.9 971.5 L1190.6 973.8 L1191.2 976.5 L1192.9 978.8 L1193.2 981.5 L1193.2 984.6 L1193.5 987.0 L1194.8 989.5 L1195.3 992.1 L1196.2 994.7 L1197.5 997.1 L1197.5 1000.0 L1199.3 1002.2 L1200.1 1004.8 L1200.1 1007.7 L1202.7 1009.6 L1202.7 1012.6 L1203.8 1015.0 L1204.1 1017.7 L1204.5 1020.4 L1205.2 1023.0 L1205.6 1025.7 L1206.9 1028.1 L1207.6 1030.7 L1209.2 1033.1 L1209.8 1035.7 L1211.0 1038.1 L1211.2 1040.9 L1213.1 1043.1 L1213.2 1046.0 L1214.6 1048.3 L1215.2 1051.0 L1215.5 1053.8 L1217.5 1055.9 L1219.1 1058.2 L1219.1 1061.1 L1221.5 1063.0 L1221.5 1066.0 L1222.8 1068.3 L1224.4 1070.6 L1224.4 1073.5 L1225.5 1075.9 L1225.6 1078.8 L1227.5 1081.0 L1227.6 1083.8 L1228.9 1086.2 L1230.4 1088.5 L1231.7 1090.9 L1231.7 1093.8 L1233.4 1096.1 L1234.5 1098.5 L1235.4 1101.1 L1236.8 1103.4 L1237.7 1105.9 L1238.9 1108.3 L1240.7 1110.5 L1241.4 1113.1 L1241.8 1116.0 L1243.4 1118.2 L1245.2 1120.3 L1246.2 1122.8 L1247.3 1125.3 L1248.2 1127.9 L1249.8 1130.1 L1251.2 1132.4 L1252.2 1134.9 L1252.7 1137.7 L1253.6 1140.4 L1256.8 1141.6 L1259.4 1143.2 L1259.4 1146.7 L1261.1 1148.5 L1262.6 1150.7 L1263.6 1153.3 L1265.4 1155.3 L1267.8 1157.0 L1269.2 1159.3 L1269.7 1162.2 L1271.5 1164.2 L1272.1 1167.1 L1274.8 1168.5 L1276.3 1170.7 L1279.1 1172.0 L1280.2 1174.6 L1282.0 1176.5 L1283.2 1179.0 L1284.7 1181.3 L1287.5 1182.4 L1289.5 1184.1 L1289.5 1188.9 L1292.3 1188.8 L1293.6 1191.4 L1295.2 1193.6 L1296.8 1195.8 L1299.1 1197.2 L1301.0 1199.2 L1302.1 1202.0 L1305.2 1202.6 L1307.2 1204.4 L1308.6 1206.8 L1310.5 1208.8 L1312.6 1210.4 L1314.4 1212.5 L1317.3 1213.5 L1318.8 1215.7 L1321.7 1216.7 L1321.7 1220.7 L1323.3 1222.6 L1326.2 1223.7 L1326.5 1227.1 L1328.4 1229.0 L1331.4 1229.9 L1335.8 1229.3 L1337.2 1231.7 L1338.0 1234.6 L1338.0 1238.7 L1342.2 1238.0 L1343.5 1240.6 L1346.3 1241.5 L1347.7 1244.1 L1348.9 1247.0 L1353.1 1245.8 L1356.2 1245.9 L1356.2 1251.3 L1358.7 1252.0 L1361.1 1253.2 L1362.2 1256.6 L1364.9 1257.4 L1369.3 1255.2 L1369.8 1259.7 L1371.3 1262.4 L1375.2 1261.2 L1377.3 1262.9 L1379.1 1265.3 L1382.1 1265.5 L1385.2 1265.5 L1387.3 1267.2 L1390.1 1267.8 L1390.8 1272.0 L1394.3 1271.4 L1394.5 1276.2 L1398.9 1274.2 L1399.9 1277.8 L1403.5 1277.0 L1405.0 1279.7 L1406.7 1282.1 L1409.4 1283.0 L1411.5 1284.7 L1415.1 1284.0 L1417.4 1285.3 L1419.5 1287.0 L1421.4 1289.2 L1424.4 1289.4 L1426.0 1292.0 L1428.6 1292.8 L1430.1 1295.7 L1432.9 1296.3 L1435.1 1297.9 L1438.5 1297.3 L1440.6 1299.1 L1443.6 1299.1 L1445.4 1301.4 L1447.8 1302.8 L1449.8 1304.9 L1453.2 1303.9 L1453.3 1310.6 L1457.7 1307.1 L1459.4 1310.1 L1462.2 1310.4 L1466.5 1306.8 L1468.1 1310.1 L1470.0 1312.8 L1474.4 1308.8 L1475.2 1314.3 L1478.5 1313.1 L1480.8 1314.8 L1482.8 1317.2 L1486.2 1315.8 L1487.9 1319.0 L1491.0 1318.4 L1493.5 1319.4 L1495.2 1322.5 L1496.5 1326.4 L1500.8 1323.0 L1502.8 1325.3 L1505.7 1325.3 L1508.4 1325.7 L1510.7 1327.4 L1512.5 1330.3 L1515.5 1330.0 L1517.7 1331.8 L1521.1 1330.1 L1522.5 1334.7 L1526.6 1330.4 L1528.2 1334.5 L1531.1 1334.2 L1533.7 1335.2 L1536.7 1334.1 L1539.3 1334.8 L1541.6 1336.8 L1544.3 1337.3 L1547.4 1335.7 L1549.9 1336.8 L1552.2 1338.9 L1554.7 1340.0 L1557.9 1338.2 L1560.5 1338.8 L1563.1 1339.3 L1564.8 1344.8 L1567.9 1343.2 L1570.6 1343.2 L1572.9 1345.4 L1575.1 1348.8 L1578.1 1347.4 L1581.4 1344.3 L1583.8 1346.2 L1586.7 1344.9 L1589.5 1345.1 L1592.3 1344.4 L1594.9 1345.2 L1597.6 1345.4 L1599.9 1348.4 L1602.6 1348.3 L1605.4 1347.7 L1608.1 1348.3 L1610.5 1350.0 L1612.9 1352.0 L1615.7 1352.0 L1618.5 1351.7 L1621.8 1348.6 L1623.7 1352.9 L1626.7 1351.8 L1629.1 1353.4 L1631.9 1353.4 L1634.4 1354.6 L1637.0 1355.2 L1638.8 1360.1 L1642.0 1357.7 L1644.8 1357.6 L1647.6 1357.6 L1650.3 1357.7 L1652.8 1358.9 L1655.7 1358.3 L1658.5 1358.1 L1660.9 1359.9 L1663.7 1359.7 L1666.5 1359.2 L1669.0 1360.3 L1672.0 1358.3 L1674.9 1356.7 L1677.6 1356.6 L1680.1 1358.9 L1682.6 1360.6 L1685.1 1361.9 L1687.7 1363.7 L1690.5 1362.6 L1693.2 1362.5 L1695.7 1364.8 L1698.3 1365.3 L1701.3 1363.2 L1703.8 1364.8 L1706.4 1366.1 L1709.2 1365.2 L1712.0 1364.5 L1715.0 1362.3 L1717.2 1366.8 L1719.9 1367.0 L1722.6 1367.0 L1725.4 1366.7 L1728.3 1365.4 L1730.7 1367.5 L1733.4 1367.6 L1735.7 1370.4 L1738.9 1368.3 L1740.9 1371.6 L1743.7 1371.2 L1746.0 1373.3 L1749.2 1371.7 L1751.3 1374.5 L1753.6 1376.3 L1756.8 1374.6 L1759.8 1373.5 L1762.2 1375.0 L1764.8 1376.8 L1767.7 1374.8 L1770.3 1373.9 L1773.0 1375.7 L1775.6 1373.4 L1778.4 1375.2 L1780.9 1372.2 L1783.5 1371.5 L1786.4 1373.1 L1789.5 1377.1 L1791.6 1373.3 L1794.6 1374.1 L1797.3 1373.3 L1799.3 1371.1 L1803.0 1372.3 L1804.5 1369.4 L1806.9 1368.3 L1808.3 1364.9 L1810.7 1363.0 L1813.2 1360.6 L1816.7 1363.4 L1819.5 1363.1 L1822.1 1364.8 L1824.7 1365.6 L1827.7 1363.7 L1830.2 1364.9 L1832.5 1367.5 L1834.9 1369.4 L1838.3 1366.2 L1840.5 1368.5 L1843.4 1368.2 L1846.0 1368.8 L1848.4 1370.2 L1851.7 1368.7 L1854.7 1368.8 L1856.3 1371.8 L1859.3 1371.4 L1861.7 1371.5 L1863.6 1372.0 L1866.3 1372.9 L1868.0 1370.5 L1871.6 1372.1 L1874.1 1371.9 L1877.0 1373.3 L1879.6 1372.3 L1882.1 1371.3 L1884.6 1368.9 L1887.3 1369.3 L1890.1 1368.0 L1892.3 1372.4 L1895.6 1368.4 L1898.1 1370.0 L1900.6 1371.5 L1903.7 1368.5 L1906.3 1369.5 L1908.9 1370.0 L1911.6 1369.7 L1914.2 1369.7 L1916.8 1370.9 L1919.5 1373.4 L1922.2 1371.8 L1924.8 1371.2 L1927.5 1370.6 L1929.9 1368.9 L1933.0 1371.3 L1935.7 1371.1 L1938.2 1368.7 L1941.0 1371.1 L1943.7 1370.1 L1946.3 1370.7 L1949.1 1370.2 L1951.7 1371.3 L1954.3 1371.9 L1956.3 1374.2 L1958.7 1375.2 L1961.1 1376.2 L1964.3 1375.6 L1967.0 1376.2 L1968.4 1379.9 L1972.9 1376.2 L1973.5 1381.2 L1976.6 1380.9 L1979.3 1381.7 L1982.1 1381.6 L1984.6 1382.3 L1987.2 1380.7 L1989.9 1380.2 L1992.7 1382.8 L1995.8 1380.9 L1997.6 1384.3 L1999.2 1386.7 L2005.0 1383.0 L2005.3 1387.2 L2006.6 1390.2 L2009.5 1390.3 L2012.1 1390.5 L2014.7 1391.4 L2017.4 1392.4 L2020.1 1392.1 L2022.9 1392.6 L2025.4 1390.1 L2028.2 1391.0 L2030.6 1387.2 L2033.5 1389.3 L2036.0 1386.8 L2038.9 1390.3 L2041.7 1392.2 L2044.3 1390.0 L2047.0 1387.5 L2049.7 1389.1 L2052.4 1389.2 L2055.0 1388.6 L2058.0 1389.0 L2060.3 1387.5 L2062.1 1382.1 L2065.3 1387.8 L2068.2 1385.8 L2071.0 1385.6 L2073.2 1389.1 L2076.1 1386.6 L2078.4 1385.6 L2080.6 1384.7 L2083.7 1385.2 L2086.8 1385.0 L2089.7 1384.3 L2090.6 1380.8 L2092.7 1379.2 L2096.0 1379.1 L2096.2 1374.9 L2099.8 1375.1 L2101.0 1372.2 L2102.9 1370.3 L2104.4 1367.9 L2106.8 1366.6 L2108.5 1364.5 L2111.0 1363.2 L2113.4 1361.8 L2114.6 1359.2 L2117.7 1358.4 L2119.4 1356.4 L2121.3 1354.4 L2122.7 1352.0 L2124.2 1349.7 L2128.2 1350.0 L2128.2 1346.0 L2130.4 1344.2 L2133.2 1344.4 L2135.4 1346.6 L2138.4 1346.1 L2141.1 1345.6 L2143.8 1344.8 L2146.6 1345.6 L2149.4 1345.3 L2151.8 1343.7 L2153.1 1339.8 L2155.5 1340.1 L2156.7 1338.3 L2160.1 1337.1 L2160.9 1334.5 L2161.6 1331.9 L2161.8 1329.1 L2163.2 1326.7 L2163.3 1323.9 L2163.9 1321.2 L2163.9 1318.4 L2165.3 1316.0 L2166.9 1313.7 L2169.4 1311.8 L2171.2 1309.7 L2171.2 1306.5 L2172.7 1304.6 L2174.4 1302.5 L2177.2 1301.1 L2180.7 1300.5 L2182.8 1303.3 L2185.9 1304.0 L2186.2 1307.7 L2187.0 1310.7 L2189.1 1312.3 L2190.4 1314.6 L2191.8 1316.8 L2194.5 1318.3 L2194.8 1321.3" stroke="#ff8a14"/>
<path d="M315.7 1513.2 L318.5 1514.0 L321.3 1514.6 L323.7 1511.3 L326.4 1511.7 L329.4 1514.1 L331.8 1511.2 L334.5 1511.3 L337.2 1511.1 L340.0 1511.3 L342.7 1511.9 L345.3 1510.4 L347.9 1509.7 L350.7 1509.8 L353.4 1510.0 L356.2 1510.5 L358.8 1509.5 L361.6 1510.1 L364.0 1507.4 L366.8 1508.1 L369.7 1509.1 L372.2 1508.0 L374.8 1506.9 L377.3 1505.5 L380.0 1505.2 L382.8 1505.4 L385.5 1505.5 L388.0 1503.9 L390.5 1502.6 L393.3 1502.5 L396.1 1503.3 L398.9 1503.4 L401.2 1501.1 L404.0 1501.3 L406.5 1499.9 L409.3 1500.2 L412.6 1503.5 L414.7 1500.1 L417.3 1499.3 L419.9 1498.3 L422.6 1498.0 L425.2 1497.1 L428.2 1498.9 L430.8 1497.8 L433.7 1498.6 L435.8 1495.3 L438.8 1496.4 L441.5 1496.5 L443.6 1492.7 L446.5 1493.4 L448.8 1491.2 L451.8 1492.4 L454.7 1493.3 L457.1 1491.6 L459.7 1491.0 L462.2 1489.4 L465.1 1490.2 L467.9 1490.6 L470.3 1489.0 L472.8 1487.7 L475.6 1487.6 L478.2 1487.2 L480.5 1485.1 L483.4 1485.6 L485.8 1483.9 L488.7 1484.5 L491.5 1484.9 L494.1 1483.9 L497.1 1484.8 L499.2 1482.0 L502.1 1482.5 L504.7 1481.8 L507.6 1482.3 L510.2 1481.6 L512.6 1480.2 L515.1 1478.9 L518.1 1479.9 L520.6 1478.6 L523.5 1479.4 L525.8 1477.5 L528.7 1477.8 L531.1 1476.2 L533.3 1473.9 L536.1 1474.0 L538.5 1472.4 L541.5 1473.3 L544.2 1472.8 L546.5 1471.2 L549.4 1471.4 L551.4 1468.7 L553.8 1467.1 L556.7 1467.7 L559.5 1467.7 L561.8 1465.9 L564.7 1466.2 L567.3 1465.4 L570.1 1465.2 L573.0 1465.3 L575.3 1463.8 L577.6 1462.2 L580.3 1461.8 L582.9 1461.0 L585.0 1458.8 L588.1 1459.5 L590.7 1458.8 L593.0 1457.1 L595.3 1455.4 L599.2 1458.4 L601.1 1455.7 L603.7 1454.9 L606.6 1455.1 L608.8 1453.2 L611.2 1451.7 L613.7 1450.7 L615.6 1448.3 L618.7 1448.6 L620.5 1445.9 L623.7 1446.8 L626.2 1445.7 L627.9 1442.7 L631.8 1445.2 L633.3 1441.7 L636.5 1442.4 L638.5 1440.1 L641.2 1439.5 L643.3 1437.6 L647.0 1439.4 L648.8 1436.7 L651.5 1436.1 L653.6 1434.1 L656.0 1432.9 L658.1 1431.0 L660.5 1429.8 L663.3 1429.4 L665.8 1428.5 L668.4 1427.5 L670.5 1425.6 L673.4 1425.6 L676.2 1425.2 L678.2 1423.0 L680.9 1422.4 L683.0 1420.5 L684.9 1418.1 L687.4 1417.2 L689.7 1415.8 L692.4 1415.2 L695.1 1414.5 L698.0 1414.5 L700.0 1412.3 L702.3 1410.8 L705.5 1411.2 L707.8 1409.9 L710.2 1408.7 L713.5 1409.1 L715.4 1406.8 L717.0 1404.2 L719.6 1403.2 L721.8 1401.5 L724.1 1400.2 L725.9 1397.9 L728.7 1397.3 L731.2 1396.3 L734.5 1396.6 L736.9 1395.4 L738.4 1392.6 L741.6 1392.7 L743.2 1390.1 L745.7 1388.9 L747.6 1386.9 L750.6 1386.7 L752.0 1383.9 L753.8 1381.6 L756.1 1380.2 L758.2 1378.8 L759.9 1376.9 L761.7 1375.1 L764.5 1373.8 L765.5 1371.2 L766.8 1368.3 L769.9 1367.3 L772.7 1367.3 L775.4 1368.3 L778.6 1368.4 L779.2 1364.5 L781.7 1363.3 L783.1 1360.8 L786.8 1361.1 L788.5 1358.9 L790.8 1357.5 L793.4 1356.3 L795.5 1354.6 L797.6 1352.8 L798.3 1349.7 L799.9 1347.4 L802.2 1345.9 L803.8 1343.7 L807.7 1343.7 L807.9 1340.2 L810.0 1338.4 L811.9 1336.5 L814.6 1335.3 L814.6 1331.5 L816.8 1330.1 L818.3 1327.8 L820.3 1326.0 L821.2 1323.2 L824.0 1322.1 L825.0 1319.4 L827.0 1317.5 L828.8 1315.5 L830.6 1313.5 L832.5 1311.6 L833.6 1309.0 L835.5 1307.0 L837.2 1304.9 L838.5 1302.6 L840.5 1300.6 L841.0 1297.7 L843.2 1295.9 L843.7 1293.1 L844.6 1290.5 L846.2 1288.3 L847.9 1286.1 L848.4 1283.4 L849.9 1281.1 L851.4 1278.8 L852.8 1276.5 L854.1 1274.1 L855.5 1271.8 L856.3 1269.2 L858.9 1267.6 L859.9 1265.0 L860.5 1262.2 L862.7 1260.4 L863.6 1257.8 L865.8 1255.9 L865.9 1252.9 L868.5 1251.3 L869.3 1248.6 L869.7 1245.8 L872.3 1244.1 L873.1 1241.5 L874.1 1238.9 L875.5 1236.6 L876.1 1233.9 L878.4 1232.0 L879.1 1229.4 L880.5 1227.0 L882.6 1225.1 L883.0 1222.2 L883.7 1219.6 L884.6 1217.0 L885.7 1214.5 L887.6 1212.4 L887.7 1209.5 L888.8 1207.1 L890.8 1205.0 L891.9 1202.5 L893.2 1200.1 L895.7 1198.3 L895.7 1195.2 L897.2 1193.1 L897.2 1190.0 L898.7 1187.8 L900.0 1185.5 L901.2 1183.0 L901.2 1179.9 L902.9 1177.9 L904.0 1175.4 L904.8 1172.8 L907.2 1170.9 L907.2 1167.9 L908.0 1165.4 L910.0 1163.3 L910.2 1160.4 L912.7 1158.6 L913.7 1156.1 L914.3 1153.4 L915.8 1151.1 L916.4 1148.4 L917.8 1146.1 L917.9 1143.2 L918.5 1140.5 L919.4 1138.0 L921.1 1135.7 L921.5 1133.0 L923.4 1130.8 L924.5 1128.3 L924.5 1125.5 L924.8 1122.8 L925.7 1120.2 L925.7 1117.4 L926.2 1114.8 L927.0 1112.2 L927.4 1109.1 L929.7 1108.4 L932.3 1106.7 L932.3 1103.8 L932.6 1101.1 L933.5 1098.5 L934.5 1096.0 L935.2 1093.4 L936.4 1091.0 L937.6 1088.5 L938.7 1086.0 L939.8 1083.6 L939.9 1080.7 L940.6 1078.1 L942.6 1075.9 L942.8 1073.2 L944.1 1070.7 L944.4 1068.0 L944.4 1065.2 L946.0 1062.9 L946.0 1060.0 L947.4 1057.6 L948.5 1055.1 L949.8 1052.7 L949.8 1049.8 L950.3 1047.2 L950.5 1044.5 L951.4 1041.9 L951.4 1038.9 L952.1 1036.5 L953.0 1033.9 L953.6 1031.3 L953.6 1028.6 L955.3 1026.2 L956.0 1023.6 L956.0 1020.8 L956.4 1018.1 L956.8 1015.4 L957.7 1012.9 L958.8 1010.3 L959.3 1007.7 L959.3 1004.8 L959.3 1002.2 L960.1 999.6 L961.5 997.1 L961.6 994.4 L962.3 991.8 L963.3 989.2 L963.9 986.6 L963.9 983.8 L963.9 981.0 L965.0 978.5 L965.8 975.9 L966.4 973.3 L966.5 970.6 L966.8 967.9 L968.0 965.4 L968.0 962.6 L968.3 959.9 L968.4 957.2 L968.6 954.5 L968.6 951.7 L969.8 949.2 L970.3 946.6 L971.3 944.0 L971.3 941.1 L971.6 938.6 L972.5 936.0 L972.8 933.3 L973.6 930.7 L974.0 928.0 L974.0 925.2 L974.8 922.7 L975.0 920.0 L976.7 917.5 L976.7 914.7 L976.9 912.1 L978.0 909.5 L978.0 906.7 L978.0 904.0 L978.5 901.4 L978.5 898.6 L979.1 896.0 L979.3 893.3 L980.0 890.7 L980.0 887.9 L980.3 885.3 L980.6 882.6 L981.1 879.9 L981.2 877.2 L982.6 874.7 L983.3 872.1 L983.6 869.4 L983.6 866.7 L984.3 864.1 L985.0 861.4 L985.4 858.8 L986.3 856.2 L986.3 853.3 L986.3 850.7 L986.8 848.0 L987.0 845.3 L987.1 842.6 L987.2 839.9 L987.9 837.3 L988.9 834.7 L989.5 832.1 L989.5 829.3 L990.0 826.7 L990.3 824.0 L990.9 821.3 L991.2 818.7 L992.0 816.1 L992.5 813.4 L992.5 810.6 L992.5 807.9 L992.5 805.2 L992.5 802.5 L993.3 799.9 L993.3 797.1 L994.4 794.6 L995.0 791.9 L995.0 789.2 L995.0 786.5 L995.2 783.8 L995.5 781.1 L996.3 778.5 L997.0 775.9 L997.2 773.2 L997.7 770.5 L998.3 767.9 L999.4 765.3 L999.4 762.5 L1000.3 760.0 L1000.3 757.2 L1000.9 754.6 L1000.9 751.7 L1000.9 749.1 L1001.1 746.4 L1001.5 743.8 L1001.5 741.0 L1002.8 738.5 L1002.8 735.7 L1002.8 733.0 L1002.8 730.3 L1003.9 727.7 L1003.9 725.0 L1003.9 722.3 L1003.9 719.5 L1004.7 717.0 L1004.7 714.2 L1005.2 711.6 L1006.0 709.0 L1006.0 706.2 L1006.2 703.5 L1006.4 700.9 L1006.4 698.1 L1006.4 695.4 L1006.4 692.6 L1006.4 690.0 L1006.5 687.3 L1007.9 684.7 L1008.2 682.0 L1008.2 679.3 L1009.2 676.7 L1009.2 674.0 L1009.2 671.2 L1011.3 668.8 L1011.6 666.1 L1011.6 663.3 L1011.6 660.6 L1011.6 658.0 L1011.6 655.2 L1011.6 652.5 L1011.9 649.8 L1012.4 647.2 L1012.9 644.5 L1013.8 641.9 L1013.9 639.2 L1014.0 636.5 L1014.3 633.8 L1014.3 631.0 L1015.6 628.5 L1015.6 625.7 L1015.6 623.0 L1015.9 620.4 L1016.0 617.7 L1016.6 615.1 L1017.4 612.4 L1017.4 609.6 L1017.4 607.0 L1017.8 604.3 L1017.8 601.6 L1017.8 598.9 L1019.0 596.3 L1019.0 593.5 L1019.0 590.8 L1019.3 588.2 L1019.6 585.5 L1020.5 582.9 L1020.5 580.2 L1021.3 577.5 L1021.4 574.8 L1022.2 572.2 L1022.7 569.6 L1022.7 566.8 L1023.3 564.2 L1023.3 561.4 L1023.3 558.7 L1023.3 556.0 L1023.3 553.3 L1023.3 550.5 L1024.8 548.1 L1024.8 545.2 L1024.8 542.6 L1025.9 540.0 L1025.9 537.3 L1026.9 534.7 L1027.2 532.0 L1027.2 529.3 L1027.2 526.5 L1027.4 523.9 L1027.4 521.1 L1027.6 518.5 L1027.9 515.8 L1027.9 513.1 L1028.3 510.4 L1028.3 507.7 L1029.5 505.1 L1030.0 502.4 L1030.0 499.6 L1030.0 497.0 L1030.9 494.4 L1030.9 491.6 L1030.9 488.8 L1030.9 486.1 L1030.9 483.5 L1031.4 480.9 L1031.4 478.0 L1031.4 475.4 L1031.4 472.7 L1032.0 470.1 L1032.7 467.4 L1032.7 464.7 L1033.0 462.0 L1034.5 459.5 L1034.5 456.7 L1034.5 454.0 L1035.0 451.4 L1035.0 448.6 L1035.0 445.9 L1035.7 443.3 L1035.7 440.5 L1036.7 438.0 L1037.2 435.3 L1037.4 432.7 L1037.8 430.0 L1038.0 427.3 L1038.0 424.5 L1039.1 422.0 L1039.4 419.3 L1039.9 416.6 L1040.0 413.9 L1040.0 411.2 L1040.0 408.5 L1040.6 405.8 L1040.7 403.1 L1041.6 400.5 L1041.6 397.8 L1041.6 395.1 L1041.8 392.4 L1041.9 389.7 L1042.0 387.0 L1042.0 384.2 L1042.0 381.5 L1042.2 378.9 L1043.1 376.2 L1043.3 373.6 L1043.7 370.9 L1044.2 368.2 L1044.2 365.4 L1044.7 362.8 L1044.8 360.1 L1044.8 357.4 L1045.9 354.8 L1045.9 352.0 L1045.9 349.4 L1046.3 346.7 L1047.1 344.1 L1047.1 341.4 L1047.1 338.6 L1047.7 336.0 L1048.2 333.4 L1049.6 330.9 L1049.9 328.2 L1049.9 325.4 L1049.9 322.7 L1051.0 320.2 L1051.5 317.5 L1052.6 315.0 L1053.5 312.5 L1054.1 309.8 L1055.2 307.3 L1055.7 304.7 L1056.3 302.0 L1057.3 299.5 L1057.8 296.8 L1058.3 294.2 L1058.8 291.5 L1059.6 288.9 L1060.3 286.3 L1061.1 283.8 L1061.9 281.2 L1062.5 278.5 L1063.1 275.9 L1064.4 273.8 L1066.7 273.3 L1069.2 273.3 L1070.6 275.3 L1071.6 277.7 L1072.3 280.4 L1073.2 282.9 L1073.9 285.5 L1075.1 287.9 L1075.9 290.5 L1076.1 293.3 L1077.2 295.8 L1078.3 298.3 L1078.4 301.0 L1080.1 303.4 L1080.3 306.1 L1081.2 308.7 L1081.4 311.4 L1082.1 314.0 L1082.7 316.7 L1082.7 319.4 L1083.8 321.9 L1083.8 324.7 L1084.4 327.3 L1084.9 330.0 L1085.7 332.6 L1086.5 335.2 L1086.8 337.9 L1087.0 340.6 L1089.0 343.0 L1089.0 345.8 L1089.0 348.6 L1089.6 351.1 L1089.6 353.8 L1089.6 356.7 L1089.9 359.2 L1090.1 361.9 L1090.1 364.7 L1091.5 367.2 L1092.0 369.8 L1093.3 372.4 L1093.3 375.1 L1093.5 377.8 L1093.5 380.7 L1093.5 383.3 L1094.7 385.8 L1094.7 388.7 L1094.7 391.3 L1095.5 393.9 L1095.5 396.6 L1095.9 399.3 L1096.9 401.9 L1097.7 404.5 L1098.1 407.2 L1098.1 409.9 L1098.2 412.6 L1098.8 415.2 L1098.8 418.0 L1099.5 420.6 L1099.5 423.4 L1099.5 426.0 L1099.5 428.8 L1100.6 431.3 L1100.6 434.1 L1101.3 436.7 L1101.8 439.4 L1101.8 442.2 L1101.8 444.8 L1102.0 447.5 L1102.7 450.1 L1103.5 452.8 L1103.6 455.5 L1105.2 458.0 L1105.2 460.7 L1105.2 463.5 L1105.2 466.2 L1105.6 468.8 L1106.2 471.5 L1106.3 474.2 L1106.5 476.9 L1107.8 479.4 L1107.8 482.2 L1107.8 485.0 L1107.8 487.7 L1107.8 490.3 L1108.4 493.0 L1109.0 495.6 L1109.5 498.3 L1110.2 500.9 L1111.1 503.5 L1111.1 506.3 L1111.7 508.9 L1111.7 511.6 L1111.7 514.4 L1112.1 517.0 L1113.0 519.6 L1113.0 522.3 L1114.1 524.9 L1114.1 527.8 L1114.1 530.3 L1114.6 533.0 L1114.6 535.8 L1114.6 538.5 L1114.9 541.1 L1115.4 543.8 L1115.4 546.6 L1115.6 549.2 L1115.6 552.0 L1116.9 554.5 L1116.9 557.2 L1117.8 559.8 L1117.8 562.5 L1118.6 565.2 L1119.1 567.8 L1119.1 570.6 L1119.3 573.2 L1120.6 575.8 L1120.6 578.6 L1120.6 581.2 L1121.2 583.9 L1121.4 586.6 L1121.6 589.3 L1121.6 592.0 L1122.5 594.6 L1123.2 597.2 L1123.2 600.0 L1123.2 602.8 L1123.6 605.3 L1123.6 608.1 L1123.8 610.8 L1124.5 613.4 L1124.6 616.1 L1125.4 618.7 L1126.0 621.4 L1126.7 624.0 L1126.7 626.7 L1126.7 629.5 L1127.9 632.0 L1127.9 634.8 L1129.5 637.2 L1129.5 640.0 L1129.6 642.7 L1129.6 645.5 L1130.1 648.0 L1130.1 650.9 L1131.1 653.3 L1131.1 656.1 L1131.1 658.8 L1131.7 661.5 L1133.2 663.9 L1133.2 666.8 L1133.2 669.5 L1133.2 672.2 L1133.5 674.8 L1134.9 677.3 L1134.9 680.1 L1134.9 682.8 L1136.2 685.3 L1136.2 688.1 L1137.1 690.7 L1137.1 693.4 L1137.1 696.2 L1137.8 698.8 L1137.8 701.7 L1138.0 704.2 L1138.2 706.9 L1139.0 709.5 L1139.4 712.2 L1140.0 714.8 L1141.3 717.3 L1141.6 720.0 L1141.6 722.8 L1142.0 725.4 L1143.9 727.9 L1144.2 730.5 L1144.2 733.3 L1144.4 736.0 L1144.7 738.7 L1146.2 741.1 L1146.2 743.9 L1147.0 746.5 L1147.4 749.2 L1147.5 751.9 L1147.5 754.6 L1148.3 757.2 L1148.3 760.0 L1149.4 762.5 L1149.4 765.2 L1150.3 767.8 L1150.4 770.6 L1150.8 773.2 L1151.1 775.9 L1151.1 778.7 L1151.5 781.3 L1152.0 784.0 L1152.7 786.6 L1153.0 789.3 L1153.8 791.9 L1153.8 794.6 L1154.1 797.3 L1154.4 800.0 L1155.0 802.6 L1156.0 805.2 L1156.2 807.9 L1156.2 810.8 L1156.2 813.4 L1156.9 816.0 L1157.3 818.7 L1157.8 821.3 L1157.8 824.2 L1159.4 826.5 L1159.5 829.3 L1160.4 831.8 L1161.6 834.4 L1162.6 836.9 L1163.2 839.5 L1163.4 842.3 L1164.3 844.8 L1164.3 847.6 L1165.3 850.1 L1165.3 853.0 L1165.3 855.7 L1165.9 858.3 L1167.6 860.7 L1168.7 863.2 L1168.7 866.2 L1168.7 868.8 L1169.5 871.3 L1169.5 874.2 L1170.6 876.6 L1171.0 879.3 L1172.5 881.7 L1172.6 884.5 L1173.9 886.9 L1174.4 889.6 L1174.4 892.4 L1175.4 894.9 L1176.7 897.3 L1176.7 900.3 L1176.8 902.9 L1178.3 905.3 L1178.8 908.0 L1179.3 910.6 L1180.0 913.2 L1180.4 915.9 L1181.1 918.5 L1182.2 921.0 L1182.2 924.0 L1183.5 926.3 L1184.1 928.9 L1184.1 931.8 L1184.4 934.4 L1185.8 936.8 L1186.6 939.4 L1188.0 941.8 L1188.0 944.7 L1188.7 947.2 L1189.6 949.8 L1189.9 952.5 L1190.5 955.1 L1191.6 957.6 L1191.7 960.4 L1192.8 962.9 L1194.1 965.3 L1195.3 967.8 L1195.8 970.5 L1196.2 973.2 L1197.0 975.7 L1197.4 978.4 L1198.6 980.9 L1198.8 983.7 L1199.5 986.3 L1200.7 988.7 L1202.1 991.1 L1202.1 994.1 L1203.2 996.4 L1204.7 998.8 L1205.2 1001.5 L1206.1 1004.0 L1207.4 1006.4 L1207.4 1009.3 L1208.4 1011.8 L1208.4 1014.6 L1209.2 1017.2 L1209.6 1019.9 L1210.7 1022.4 L1211.7 1024.9 L1212.9 1027.4 L1214.0 1029.8 L1215.4 1032.2 L1215.4 1035.1 L1216.7 1037.5 L1218.1 1039.8 L1218.5 1042.6 L1219.7 1045.0 L1220.7 1047.5 L1221.3 1050.2 L1222.1 1052.7 L1223.7 1055.0 L1225.3 1057.3 L1225.7 1060.0 L1225.7 1062.9 L1227.8 1065.0 L1227.8 1068.0 L1228.8 1070.4 L1229.3 1073.2 L1230.6 1075.6 L1232.6 1077.7 L1233.2 1080.3 L1233.4 1083.2 L1235.6 1085.1 L1236.5 1087.7 L1238.0 1090.0 L1239.1 1092.5 L1240.0 1095.0 L1241.1 1097.5 L1241.4 1100.4 L1243.4 1102.4 L1244.8 1104.7 L1246.1 1107.0 L1247.8 1109.2 L1249.2 1111.6 L1249.2 1114.6 L1252.1 1116.1 L1252.1 1119.6 L1253.0 1121.7 L1255.1 1123.7 L1256.5 1126.0 L1257.2 1128.7 L1258.7 1130.9 L1259.0 1133.9 L1261.4 1135.6 L1262.3 1138.3 L1263.6 1140.6 L1265.4 1142.7 L1267.1 1144.8 L1269.3 1146.6 L1270.9 1148.8 L1271.7 1151.5 L1273.1 1153.8 L1273.5 1156.7 L1273.9 1159.7 L1275.4 1162.0 L1277.8 1163.6 L1278.5 1166.5 L1281.3 1167.8 L1283.2 1169.8 L1283.4 1173.1 L1287.4 1173.3 L1289.1 1175.4 L1290.0 1178.2 L1290.0 1182.2 L1294.3 1181.7 L1295.0 1184.7 L1298.2 1185.3 L1300.8 1186.5 L1301.3 1189.9 L1304.1 1190.9 L1307.4 1191.3 L1308.7 1193.8 L1310.2 1196.3 L1310.4 1199.9 L1312.8 1201.4 L1314.7 1203.3 L1315.8 1206.0 L1318.9 1206.6 L1319.6 1209.7 L1322.8 1210.4 L1325.8 1211.2 L1327.5 1213.3 L1328.8 1215.8 L1330.9 1217.5 L1331.6 1220.7 L1336.7 1219.4 L1337.0 1222.8 L1338.1 1225.6 L1341.5 1225.9 L1342.1 1229.3 L1345.0 1230.1 L1348.1 1230.5 L1348.1 1235.1 L1352.0 1234.2 L1352.3 1238.2 L1355.2 1238.9 L1357.7 1239.9 L1359.9 1241.6 L1361.3 1244.3 L1363.8 1245.4 L1365.4 1247.9 L1369.6 1246.4 L1369.7 1251.2 L1372.6 1251.7 L1374.4 1254.0 L1379.1 1251.5 L1382.1 1251.8 L1382.9 1255.5 L1384.1 1258.9 L1386.8 1259.6 L1389.4 1260.5 L1391.4 1262.3 L1393.8 1263.6 L1397.7 1262.4 L1398.0 1267.2 L1402.4 1265.0 L1403.3 1268.7 L1405.2 1271.0 L1408.8 1270.1 L1409.9 1273.5 L1411.0 1276.9 L1414.5 1276.5 L1415.9 1279.2 L1418.9 1279.6 L1421.0 1281.2 L1423.2 1283.0 L1426.3 1283.0 L1428.3 1284.9 L1430.0 1287.4 L1432.9 1287.7 L1434.7 1290.1 L1438.3 1289.1 L1439.9 1291.9 L1441.7 1294.4 L1444.4 1295.0 L1447.1 1295.7 L1450.0 1295.8 L1452.7 1296.4 L1454.5 1298.9 L1456.4 1301.4 L1459.7 1300.7 L1461.6 1303.2 L1465.0 1302.1 L1466.6 1305.2 L1470.3 1303.2 L1472.5 1305.1 L1475.5 1304.7 L1477.1 1308.2 L1479.7 1309.0 L1482.9 1308.2 L1485.3 1309.3 L1487.3 1311.6 L1490.2 1311.7 L1492.2 1313.9 L1494.5 1315.5 L1495.8 1319.5 L1498.2 1320.9 L1501.7 1319.4 L1504.2 1320.4 L1506.6 1321.7 L1509.8 1320.9 L1512.4 1321.8 L1514.7 1323.4 L1517.7 1322.9 L1520.4 1323.5 L1523.3 1323.1 L1525.1 1326.7 L1528.4 1324.9 L1530.7 1326.5 L1533.7 1325.9 L1536.0 1327.9 L1538.4 1329.3 L1541.1 1329.4 L1543.4 1331.7 L1546.1 1331.9 L1549.0 1331.2 L1552.1 1330.1 L1553.7 1335.0 L1556.7 1334.3 L1558.7 1337.6 L1561.7 1336.4 L1564.6 1336.0 L1567.0 1337.6 L1570.0 1336.6 L1572.5 1337.7 L1575.6 1335.9 L1577.9 1338.3 L1580.7 1338.1 L1583.7 1336.5 L1585.8 1340.3 L1588.9 1338.2 L1591.4 1339.6 L1594.4 1338.0 L1597.1 1338.3 L1598.7 1345.0 L1601.6 1344.0 L1604.5 1343.1 L1607.8 1340.1 L1610.0 1343.1 L1612.6 1343.8 L1615.2 1344.4 L1618.0 1344.4 L1621.1 1342.3 L1623.3 1345.4 L1626.2 1344.5 L1628.8 1345.4 L1631.3 1346.7 L1634.3 1345.4 L1636.8 1346.7 L1639.2 1348.4 L1641.7 1349.8 L1644.0 1351.9 L1646.7 1352.2 L1649.2 1353.2 L1652.5 1350.8 L1654.8 1353.2 L1657.2 1355.0 L1660.5 1352.1 L1663.2 1352.1 L1665.9 1352.6 L1668.1 1355.9 L1671.1 1353.9 L1673.8 1353.7 L1676.2 1356.5 L1678.7 1358.5 L1681.5 1358.2 L1684.2 1358.5 L1686.9 1358.0 L1689.6 1358.1 L1692.4 1357.6 L1695.2 1356.8 L1697.9 1356.3 L1700.5 1357.8 L1703.3 1356.8 L1706.0 1356.9 L1708.6 1358.4 L1711.3 1358.5 L1714.1 1357.2 L1716.7 1359.0 L1719.4 1358.9 L1722.2 1358.6 L1724.6 1361.2 L1727.5 1359.7 L1730.2 1359.6 L1733.0 1359.7 L1735.4 1361.7 L1738.2 1361.7 L1740.3 1364.4 L1743.1 1364.2 L1745.8 1364.5 L1748.2 1366.1 L1750.7 1367.2 L1753.5 1367.2 L1756.7 1365.4 L1759.2 1366.4 L1761.9 1366.1 L1764.3 1367.8 L1766.8 1369.6 L1769.4 1373.0 L1772.2 1373.2 L1775.0 1372.4 L1777.7 1373.0 L1780.4 1371.4 L1783.3 1374.2 L1785.9 1372.1 L1788.7 1372.0 L1791.1 1369.0 L1794.0 1368.7 L1796.7 1367.9 L1798.3 1365.1 L1800.8 1364.0 L1801.9 1360.6 L1805.8 1361.8 L1807.5 1359.3 L1810.2 1358.6 L1812.6 1357.1 L1815.3 1355.7 L1818.2 1358.5 L1820.7 1359.4 L1823.8 1355.4 L1826.6 1355.5 L1829.2 1356.4 L1832.0 1356.6 L1835.2 1354.6 L1836.9 1359.6 L1839.8 1359.1 L1842.9 1357.8 L1845.8 1357.0 L1847.7 1361.0 L1850.0 1363.0 L1852.9 1363.0 L1855.3 1364.3 L1858.5 1363.3 L1860.2 1366.4 L1862.9 1365.5 L1865.9 1370.3 L1868.5 1368.0 L1869.8 1363.0 L1872.7 1362.9 L1875.9 1365.0 L1878.5 1364.1 L1881.0 1362.6 L1883.8 1362.9 L1886.6 1364.9 L1889.1 1362.9 L1892.0 1360.7 L1894.6 1362.8 L1897.5 1361.5 L1900.0 1362.9 L1902.5 1364.5 L1905.3 1363.9 L1908.1 1363.6 L1910.6 1364.8 L1913.4 1364.0 L1915.9 1365.3 L1918.6 1364.5 L1921.2 1365.2 L1923.9 1364.7 L1926.8 1365.8 L1929.2 1364.2 L1932.1 1364.8 L1934.6 1363.8 L1937.4 1363.8 L1939.9 1361.1 L1942.6 1366.9 L1945.5 1361.5 L1948.2 1362.9 L1951.0 1362.3 L1953.7 1363.3 L1956.2 1364.6 L1959.3 1363.9 L1962.1 1364.4 L1964.9 1364.6 L1967.1 1366.2 L1969.9 1366.9 L1970.5 1372.2 L1974.4 1370.8 L1976.0 1373.4 L1977.4 1376.3 L1979.4 1379.5 L1983.2 1376.3 L1985.8 1376.7 L1988.6 1377.8 L1991.3 1377.8 L1993.9 1375.6 L1996.9 1375.4 L1999.6 1376.6 L2000.5 1380.1 L2003.3 1380.9 L2004.9 1383.4 L2008.0 1383.4 L2010.4 1384.8 L2013.0 1386.0 L2015.8 1385.3 L2018.5 1385.3 L2021.1 1383.6 L2023.8 1383.7 L2026.6 1385.1 L2029.2 1383.0 L2031.9 1382.2 L2034.7 1384.5 L2037.4 1384.4 L2040.0 1383.0 L2042.7 1382.2 L2045.5 1384.2 L2048.2 1386.6 L2050.5 1381.7 L2052.4 1380.0 L2054.7 1379.3 L2057.2 1378.2 L2059.6 1376.1 L2063.1 1376.4 L2066.1 1378.7 L2068.7 1379.8 L2071.2 1380.8 L2074.0 1380.8 L2076.7 1379.6 L2079.4 1381.5 L2080.9 1378.3 L2083.1 1377.2 L2084.4 1374.6 L2088.9 1376.1 L2091.1 1374.5 L2092.3 1371.7 L2094.8 1370.4 L2097.0 1369.0 L2099.7 1368.0 L2102.4 1367.0 L2103.8 1364.4 L2106.1 1363.0 L2106.3 1359.1 L2109.7 1358.8 L2110.1 1355.4 L2114.7 1356.1 L2116.2 1353.8 L2117.3 1351.1 L2119.8 1349.8 L2122.6 1348.7 L2123.6 1345.9 L2123.6 1342.1 L2125.8 1340.6 L2125.8 1336.7 L2129.3 1336.0 L2132.5 1334.3 L2135.2 1336.8 L2137.8 1337.5 L2140.1 1337.0 L2142.6 1338.5 L2145.3 1338.8 L2147.8 1337.6 L2150.5 1337.2 L2152.0 1333.2 L2155.4 1335.5 L2158.1 1334.4 L2158.6 1331.5 L2158.6 1328.4 L2160.1 1326.4 L2161.3 1323.9 L2161.4 1321.1 L2163.4 1318.9 L2163.4 1316.1 L2164.8 1313.7 L2166.1 1311.3 L2168.6 1309.4 L2168.6 1306.2 L2169.0 1303.7 L2171.4 1302.0 L2171.9 1298.5 L2174.8 1297.5 L2177.7 1293.4 L2180.7 1297.6 L2183.2 1298.9 L2186.2 1299.5 L2186.2 1304.2 L2188.8 1304.8 L2190.5 1306.9 L2192.8 1308.5 L2194.7 1310.5 L2195.8 1313.0" stroke="#008000"/>
<path d="M315.6 1509.4 L318.4 1510.6 L321.1 1510.1 L323.9 1511.7 L326.3 1508.7 L329.1 1508.9 L331.7 1508.2 L334.5 1508.6 L337.2 1508.4 L339.7 1507.2 L342.5 1507.4 L345.3 1508.2 L348.1 1508.7 L350.6 1506.8 L353.2 1506.0 L356.2 1507.9 L358.8 1507.3 L361.4 1506.3 L363.8 1503.7 L366.5 1504.0 L369.2 1503.9 L371.9 1503.7 L374.5 1502.7 L377.2 1502.3 L380.1 1503.3 L382.6 1501.8 L385.1 1500.5 L387.9 1500.6 L390.5 1500.3 L393.3 1500.5 L395.9 1499.7 L398.6 1499.3 L401.4 1500.1 L404.0 1498.7 L406.5 1497.4 L409.3 1498.0 L411.6 1495.6 L414.4 1495.4 L417.0 1495.0 L419.7 1494.4 L422.4 1494.7 L425.1 1494.2 L427.6 1492.7 L430.6 1494.1 L433.4 1494.7 L436.0 1493.9 L438.6 1493.3 L441.6 1494.3 L444.0 1492.8 L446.6 1491.6 L449.1 1490.4 L451.7 1489.6 L454.4 1489.6 L457.1 1489.1 L460.0 1490.0 L462.3 1487.5 L465.2 1488.4 L467.8 1487.9 L470.2 1486.0 L473.1 1486.8 L475.7 1485.9 L478.2 1484.5 L481.2 1486.0 L483.6 1484.2 L486.2 1483.3 L488.7 1482.3 L491.4 1482.0 L494.2 1481.9 L496.9 1481.5 L499.4 1480.4 L502.1 1480.2 L504.8 1479.7 L507.6 1479.9 L510.0 1478.6 L512.6 1477.7 L515.2 1477.0 L517.9 1476.5 L520.2 1474.8 L522.4 1472.5 L525.4 1473.3 L528.2 1473.1 L530.7 1472.3 L533.6 1472.4 L536.1 1471.5 L538.5 1469.8 L540.8 1468.1 L544.0 1469.7 L546.5 1468.7 L549.2 1468.2 L551.6 1466.6 L554.1 1465.7 L557.1 1466.3 L559.1 1463.5 L562.1 1464.0 L564.1 1461.4 L567.0 1461.6 L569.7 1461.3 L572.4 1460.8 L574.8 1459.7 L577.0 1457.7 L579.8 1457.4 L582.8 1458.0 L585.6 1457.7 L588.3 1457.2 L590.4 1455.2 L592.5 1452.9 L595.1 1452.2 L597.9 1451.9 L600.6 1451.6 L602.4 1448.6 L605.7 1449.8 L608.0 1448.2 L610.1 1446.1 L613.1 1446.4 L615.3 1444.5 L617.9 1443.9 L620.4 1442.7 L623.1 1442.4 L625.4 1440.7 L628.4 1441.0 L630.0 1437.9 L633.1 1438.3 L635.6 1437.3 L638.7 1437.7 L640.8 1435.7 L642.7 1433.2 L645.0 1431.8 L647.9 1431.6 L649.9 1429.5 L653.3 1430.6 L654.2 1425.9 L657.6 1427.0 L659.6 1424.6 L663.2 1426.2 L665.1 1423.9 L668.6 1425.0 L670.3 1422.4 L673.5 1422.8 L675.4 1420.4 L678.2 1420.1 L680.1 1417.8 L681.4 1414.2 L684.8 1415.1 L687.0 1413.4 L690.1 1413.6 L692.5 1412.4 L694.8 1410.9 L697.4 1410.0 L699.8 1408.8 L701.5 1406.3 L704.7 1406.6 L706.7 1404.6 L709.0 1403.1 L710.7 1400.7 L713.7 1400.6 L716.5 1399.9 L719.1 1399.2 L721.5 1397.8 L724.0 1396.8 L725.8 1394.4 L728.5 1393.7 L729.7 1390.5 L732.5 1389.9 L734.7 1388.3 L737.6 1387.9 L739.5 1385.8 L741.7 1384.2 L743.1 1381.5 L746.3 1381.4 L748.7 1380.3 L751.2 1379.1 L752.0 1375.5 L754.8 1374.8 L757.5 1373.9 L760.1 1372.9 L761.5 1370.4 L763.3 1368.4 L764.0 1365.7 L766.9 1364.4 L767.8 1361.5 L770.7 1361.7 L773.4 1362.2 L776.3 1361.5 L778.8 1360.0 L780.8 1358.2 L782.9 1356.4 L784.2 1353.8 L786.5 1352.3 L788.9 1350.9 L790.0 1348.1 L791.7 1346.0 L793.9 1344.4 L797.4 1344.2 L799.2 1342.2 L800.5 1339.7 L802.8 1338.1 L804.8 1336.3 L806.9 1334.5 L807.1 1331.0 L809.9 1329.9 L811.9 1328.1 L813.9 1326.3 L815.7 1324.3 L817.5 1322.3 L819.2 1320.1 L819.9 1317.2 L823.3 1316.5 L824.2 1313.8 L825.8 1311.6 L826.9 1309.0 L828.8 1307.0 L831.0 1305.3 L832.4 1303.0 L833.2 1300.3 L834.2 1297.7 L836.3 1295.8 L837.4 1293.4 L839.1 1291.3 L839.7 1288.5 L841.6 1286.5 L843.5 1284.4 L844.2 1281.7 L846.0 1279.7 L846.5 1276.9 L847.6 1274.4 L849.2 1272.2 L850.8 1270.0 L851.5 1267.3 L853.1 1265.1 L854.9 1263.0 L855.9 1260.5 L857.0 1258.0 L858.6 1255.8 L859.6 1253.2 L860.8 1250.8 L861.7 1248.3 L862.8 1245.8 L864.3 1243.5 L865.4 1241.1 L867.0 1238.8 L868.3 1236.5 L869.4 1234.0 L870.8 1231.7 L872.2 1229.4 L873.6 1227.1 L874.8 1224.6 L876.8 1222.6 L877.1 1219.7 L878.5 1217.4 L879.6 1214.9 L880.3 1212.3 L882.1 1210.2 L883.4 1207.8 L884.3 1205.2 L885.7 1202.9 L886.8 1200.4 L887.7 1197.9 L889.2 1195.6 L890.4 1193.2 L891.8 1190.9 L891.8 1187.6 L893.8 1185.8 L894.9 1183.4 L896.1 1180.9 L896.7 1178.2 L898.2 1176.0 L898.8 1173.2 L900.3 1171.0 L901.8 1168.7 L902.3 1165.9 L903.3 1163.4 L904.8 1161.2 L905.2 1158.4 L907.1 1156.3 L907.4 1153.5 L909.1 1151.3 L910.2 1148.8 L911.2 1146.3 L912.2 1143.8 L913.6 1141.4 L913.8 1138.6 L915.8 1136.5 L916.7 1133.9 L918.2 1131.7 L918.4 1128.8 L919.7 1126.4 L921.0 1124.0 L922.3 1121.6 L922.3 1118.6 L923.7 1116.3 L924.4 1113.7 L924.9 1111.0 L924.9 1108.2 L925.2 1105.6 L926.2 1103.0 L927.7 1100.6 L927.7 1097.9 L929.5 1098.1 L931.4 1096.1 L931.4 1092.8 L932.1 1090.3 L933.6 1088.0 L934.1 1085.3 L934.8 1082.7 L935.4 1080.0 L936.5 1077.6 L936.9 1074.9 L938.9 1072.7 L938.9 1069.7 L939.0 1067.0 L940.8 1064.7 L942.4 1062.4 L942.4 1059.6 L943.3 1057.0 L943.6 1054.3 L944.7 1051.8 L945.0 1049.1 L945.6 1046.5 L945.7 1043.7 L946.6 1041.2 L948.1 1038.8 L948.1 1036.0 L948.7 1033.3 L950.2 1030.9 L950.2 1028.0 L950.4 1025.4 L952.1 1023.0 L952.1 1020.2 L953.3 1017.8 L954.3 1015.2 L954.3 1012.4 L954.7 1009.8 L956.0 1007.3 L956.0 1004.4 L956.0 1001.8 L956.7 999.2 L956.8 996.4 L957.2 993.8 L958.8 991.3 L958.8 988.5 L959.4 986.0 L959.5 983.2 L960.2 980.6 L960.4 977.9 L962.1 975.5 L962.1 972.7 L963.4 970.2 L963.4 967.4 L964.0 964.8 L964.9 962.3 L965.1 959.6 L965.1 956.8 L966.0 954.2 L966.0 951.5 L966.6 948.9 L966.6 946.0 L967.6 943.5 L968.5 941.0 L968.8 938.3 L968.8 935.5 L968.8 932.8 L969.9 930.2 L969.9 927.5 L970.3 924.8 L970.9 922.2 L970.9 919.3 L972.4 917.0 L972.5 914.2 L972.7 911.5 L972.7 908.8 L973.6 906.2 L974.0 903.6 L974.0 900.7 L974.0 898.1 L975.3 895.6 L975.5 892.9 L976.2 890.2 L976.3 887.5 L977.4 884.9 L977.4 882.1 L977.4 879.4 L977.4 876.7 L977.4 874.0 L977.6 871.3 L978.6 868.7 L978.6 866.0 L979.3 863.4 L980.1 860.8 L980.4 858.1 L981.4 855.5 L981.6 852.8 L981.6 850.0 L982.8 847.5 L983.2 844.9 L984.1 842.3 L984.1 839.4 L984.1 836.6 L984.1 834.0 L984.5 831.4 L984.9 828.7 L984.9 826.0 L985.6 823.4 L985.6 820.6 L985.6 817.9 L986.6 815.3 L986.7 812.6 L987.3 810.0 L988.7 807.5 L988.9 804.8 L988.9 802.0 L989.4 799.4 L989.4 796.6 L990.1 794.0 L990.5 791.4 L990.5 788.5 L991.4 786.0 L992.0 783.4 L992.0 780.6 L992.0 777.9 L992.8 775.3 L992.8 772.6 L993.7 770.0 L993.9 767.3 L993.9 764.5 L994.7 762.0 L995.2 759.3 L996.1 756.7 L996.1 754.0 L996.8 751.3 L996.8 748.6 L996.8 745.8 L997.9 743.3 L998.6 740.7 L998.6 737.9 L998.6 735.1 L998.7 732.5 L998.7 729.8 L999.3 727.2 L999.3 724.4 L1000.5 721.9 L1000.8 719.2 L1001.0 716.5 L1001.6 713.8 L1001.6 711.1 L1001.6 708.4 L1002.6 705.8 L1002.6 703.0 L1003.2 700.4 L1003.2 697.7 L1003.4 695.0 L1003.8 692.4 L1004.4 689.7 L1005.3 687.1 L1005.3 684.3 L1006.0 681.7 L1006.0 679.0 L1006.0 676.3 L1006.5 673.6 L1006.5 670.9 L1007.2 668.3 L1007.5 665.6 L1007.5 662.9 L1008.4 660.3 L1009.1 657.6 L1009.1 654.9 L1009.1 652.2 L1009.1 649.5 L1009.1 646.8 L1009.3 644.1 L1009.3 641.3 L1009.7 638.7 L1010.7 636.1 L1010.7 633.3 L1010.8 630.7 L1011.6 628.0 L1011.6 625.3 L1011.9 622.6 L1012.3 619.9 L1012.6 617.3 L1012.7 614.6 L1012.7 611.8 L1013.9 609.3 L1013.9 606.5 L1013.9 603.8 L1014.1 601.1 L1014.7 598.5 L1014.7 595.6 L1015.3 593.1 L1015.3 590.4 L1016.1 587.8 L1016.1 585.0 L1016.1 582.3 L1017.0 579.7 L1017.7 577.1 L1017.7 574.3 L1017.9 571.7 L1017.9 569.0 L1018.6 566.3 L1018.6 563.5 L1018.6 560.9 L1018.6 558.1 L1019.3 555.5 L1019.3 552.7 L1019.3 550.1 L1020.2 547.5 L1020.6 544.8 L1020.9 542.1 L1020.9 539.4 L1021.4 536.8 L1021.4 534.0 L1021.8 531.4 L1022.4 528.7 L1022.4 526.0 L1022.4 523.2 L1023.0 520.6 L1023.0 517.9 L1023.4 515.2 L1023.4 512.5 L1023.5 509.8 L1023.8 507.1 L1023.8 504.4 L1025.4 501.9 L1025.5 499.2 L1027.0 496.6 L1027.0 493.8 L1027.3 491.2 L1027.3 488.4 L1027.3 485.8 L1027.3 483.0 L1027.8 480.4 L1028.0 477.7 L1028.7 475.1 L1028.8 472.4 L1029.1 469.7 L1029.9 467.1 L1029.9 464.3 L1029.9 461.6 L1030.0 458.9 L1030.0 456.2 L1030.3 453.5 L1030.7 450.9 L1030.9 448.2 L1030.9 445.4 L1032.3 442.9 L1032.3 440.1 L1032.8 437.5 L1033.4 434.9 L1033.4 432.0 L1033.4 429.4 L1033.4 426.7 L1033.9 424.1 L1033.9 421.3 L1033.9 418.6 L1034.2 415.9 L1035.0 413.3 L1035.7 410.7 L1035.7 407.9 L1035.7 405.2 L1037.3 402.7 L1037.3 399.9 L1037.6 397.3 L1038.2 394.7 L1038.4 392.0 L1038.7 389.3 L1038.7 386.5 L1038.8 383.9 L1039.6 381.2 L1039.9 378.5 L1039.9 375.8 L1039.9 373.1 L1040.0 370.4 L1040.5 367.7 L1040.5 365.0 L1040.8 362.3 L1040.8 359.6 L1040.8 356.9 L1040.8 354.2 L1041.0 351.5 L1041.3 348.8 L1041.7 346.2 L1041.9 343.5 L1041.9 340.8 L1042.1 338.1 L1042.8 335.4 L1043.4 332.8 L1043.9 330.1 L1043.9 327.4 L1043.9 324.7 L1044.0 322.0 L1045.2 319.4 L1045.2 316.6 L1045.2 313.9 L1045.2 311.2 L1045.5 308.6 L1045.7 305.9 L1045.7 303.1 L1046.6 300.5 L1046.6 297.8 L1046.8 295.1 L1048.2 292.6 L1048.3 289.9 L1048.3 287.1 L1048.5 284.4 L1049.1 281.8 L1049.6 279.1 L1051.0 276.7 L1052.0 274.2 L1052.8 271.6 L1054.3 269.2 L1055.0 266.6 L1055.8 264.0 L1057.0 261.6 L1057.5 258.9 L1058.0 256.2 L1058.9 253.7 L1059.3 251.0 L1059.6 248.3 L1060.4 245.7 L1061.0 243.1 L1061.4 240.4 L1062.6 237.9 L1063.1 235.2 L1063.4 232.5 L1064.6 230.3 L1067.3 229.9 L1069.7 230.7 L1070.8 233.0 L1071.5 235.6 L1072.0 238.3 L1073.0 240.8 L1073.9 243.3 L1074.7 246.0 L1075.9 248.4 L1076.5 251.0 L1077.5 253.5 L1078.1 256.1 L1078.9 258.7 L1079.6 261.3 L1080.6 263.9 L1080.6 266.7 L1081.6 269.2 L1081.6 272.0 L1082.9 274.4 L1083.1 277.1 L1083.6 279.8 L1083.9 282.5 L1085.0 285.0 L1085.3 287.7 L1086.5 290.2 L1086.5 293.0 L1086.8 295.7 L1087.6 298.3 L1088.5 300.9 L1088.5 303.7 L1088.8 306.3 L1088.8 309.2 L1089.4 311.7 L1089.4 314.5 L1089.4 317.1 L1089.9 319.8 L1090.7 322.4 L1091.1 325.1 L1091.3 327.8 L1092.7 330.3 L1092.7 333.2 L1093.3 335.7 L1093.3 338.4 L1094.7 340.9 L1094.7 343.8 L1094.7 346.5 L1094.7 349.1 L1095.0 351.8 L1095.6 354.4 L1095.6 357.1 L1095.7 359.9 L1096.8 362.4 L1096.9 365.2 L1097.1 367.9 L1097.8 370.5 L1098.0 373.2 L1098.5 375.8 L1099.2 378.5 L1099.2 381.3 L1099.9 383.8 L1099.9 386.6 L1100.0 389.3 L1101.6 391.8 L1101.6 394.6 L1101.6 397.3 L1101.6 400.0 L1102.1 402.6 L1102.1 405.3 L1102.9 407.9 L1103.4 410.6 L1103.7 413.3 L1103.8 416.0 L1103.8 418.7 L1104.5 421.3 L1104.6 424.0 L1106.1 426.6 L1106.1 429.3 L1106.1 432.0 L1106.1 434.8 L1107.3 437.3 L1107.7 440.0 L1107.7 442.8 L1107.7 445.5 L1108.3 448.1 L1108.3 450.8 L1108.6 453.5 L1108.6 456.3 L1108.6 458.9 L1109.2 461.6 L1109.7 464.2 L1110.1 466.9 L1110.3 469.6 L1110.8 472.3 L1110.9 475.0 L1111.4 477.6 L1111.4 480.3 L1112.3 482.9 L1112.3 485.7 L1113.6 488.2 L1113.6 491.0 L1113.6 493.7 L1113.6 496.5 L1114.0 499.1 L1114.9 501.7 L1115.0 504.4 L1115.0 507.2 L1115.1 509.8 L1115.4 512.5 L1116.1 515.1 L1116.2 517.8 L1116.6 520.5 L1117.5 523.1 L1117.5 525.8 L1117.5 528.6 L1117.6 531.3 L1118.7 533.8 L1119.0 536.5 L1119.0 539.3 L1119.7 541.9 L1120.5 544.5 L1120.5 547.3 L1120.5 550.0 L1120.5 552.7 L1121.5 555.3 L1121.5 558.0 L1121.6 560.7 L1121.6 563.4 L1122.4 566.0 L1122.6 568.7 L1123.6 571.3 L1123.6 574.0 L1124.4 576.7 L1126.6 579.1 L1126.6 582.0 L1126.6 584.7 L1126.6 587.4 L1126.6 590.0 L1126.6 592.8 L1126.7 595.4 L1127.5 598.0 L1127.5 600.9 L1127.8 603.5 L1128.5 606.1 L1129.7 608.6 L1129.8 611.3 L1130.3 614.0 L1130.3 616.8 L1130.3 619.5 L1130.4 622.2 L1131.6 624.7 L1131.7 627.4 L1132.2 630.1 L1132.6 632.8 L1133.6 635.3 L1134.2 638.0 L1135.6 640.5 L1135.6 643.3 L1136.0 645.9 L1136.2 648.6 L1136.2 651.4 L1137.1 653.9 L1137.3 656.6 L1137.3 659.5 L1137.7 662.0 L1137.7 664.8 L1137.9 667.5 L1138.5 670.1 L1139.3 672.7 L1139.3 675.5 L1139.4 678.2 L1141.2 680.6 L1141.4 683.3 L1141.4 686.1 L1142.1 688.7 L1142.7 691.3 L1143.1 694.0 L1143.1 696.8 L1143.8 699.3 L1143.9 702.0 L1144.4 704.7 L1145.4 707.3 L1145.4 710.0 L1145.9 712.7 L1146.4 715.3 L1146.9 718.0 L1148.4 720.5 L1148.4 723.3 L1148.4 725.9 L1148.4 728.7 L1149.3 731.3 L1149.3 734.1 L1149.3 736.8 L1150.2 739.3 L1150.2 742.2 L1150.7 744.7 L1151.4 747.3 L1151.4 750.1 L1152.6 752.6 L1152.9 755.3 L1153.5 757.9 L1153.9 760.6 L1154.1 763.3 L1155.0 765.9 L1155.2 768.6 L1155.5 771.3 L1156.7 773.8 L1156.7 776.6 L1157.0 779.2 L1157.6 781.9 L1157.6 784.6 L1157.8 787.3 L1158.6 789.9 L1159.8 792.5 L1159.8 795.3 L1160.1 797.9 L1160.9 800.5 L1161.0 803.2 L1161.7 805.8 L1161.7 808.7 L1162.6 811.1 L1163.3 813.8 L1163.5 816.5 L1164.0 819.1 L1164.2 821.8 L1165.1 824.4 L1166.1 827.0 L1166.7 829.6 L1168.3 832.0 L1168.5 834.7 L1168.5 837.6 L1169.7 840.0 L1169.7 842.9 L1169.8 845.5 L1171.7 847.8 L1171.7 850.6 L1171.7 853.4 L1173.9 855.6 L1174.1 858.4 L1175.0 860.9 L1175.6 863.5 L1176.1 866.2 L1176.6 868.9 L1176.6 871.6 L1177.7 874.1 L1178.0 876.9 L1179.2 879.3 L1179.4 882.1 L1180.4 884.6 L1181.2 887.2 L1181.6 889.9 L1182.6 892.4 L1183.0 895.1 L1183.0 897.9 L1184.7 900.2 L1184.7 903.1 L1184.9 905.7 L1186.2 908.2 L1186.2 911.0 L1186.8 913.6 L1188.3 916.0 L1188.3 918.8 L1189.0 921.4 L1190.5 923.8 L1190.5 926.7 L1190.5 929.4 L1192.0 931.8 L1193.2 934.3 L1193.2 937.2 L1193.7 939.7 L1194.8 942.2 L1195.1 944.9 L1196.7 947.3 L1196.7 950.3 L1196.7 953.1 L1198.5 955.2 L1198.5 958.1 L1199.6 960.5 L1200.2 963.1 L1201.3 965.6 L1201.3 968.4 L1202.4 970.9 L1203.6 973.4 L1204.4 976.0 L1204.8 978.7 L1204.9 981.5 L1206.7 983.7 L1207.2 986.4 L1207.8 989.0 L1209.6 991.3 L1209.6 994.3 L1210.3 996.7 L1210.4 999.6 L1211.6 1002.0 L1213.3 1004.3 L1214.3 1006.8 L1215.6 1009.2 L1216.7 1011.7 L1216.7 1014.5 L1217.8 1017.0 L1218.8 1019.5 L1219.6 1022.1 L1219.8 1024.9 L1220.5 1027.5 L1221.9 1029.9 L1222.5 1032.5 L1223.2 1035.2 L1223.2 1038.1 L1225.5 1040.1 L1226.4 1042.6 L1226.8 1045.3 L1228.0 1047.8 L1228.7 1050.4 L1230.0 1052.8 L1230.9 1055.4 L1233.2 1057.3 L1233.7 1060.1 L1235.0 1062.4 L1235.2 1065.3 L1236.8 1067.5 L1237.3 1070.3 L1239.1 1072.4 L1240.0 1075.0 L1241.3 1077.4 L1242.3 1079.9 L1243.8 1082.2 L1245.2 1084.5 L1245.7 1087.2 L1247.2 1089.5 L1247.9 1092.2 L1250.1 1094.1 L1252.6 1095.9 L1252.7 1098.8 L1253.6 1101.4 L1253.9 1104.3 L1255.0 1106.7 L1256.4 1109.1 L1256.9 1111.8 L1258.4 1114.1 L1260.2 1116.3 L1261.8 1118.4 L1262.3 1121.2 L1264.3 1123.2 L1265.5 1125.6 L1266.3 1128.3 L1267.8 1130.5 L1269.1 1132.9 L1271.4 1134.7 L1271.6 1137.7 L1273.5 1139.7 L1275.4 1141.8 L1277.3 1143.8 L1279.3 1145.7 L1280.7 1148.0 L1280.7 1151.3 L1283.9 1152.2 L1284.2 1155.3 L1286.6 1156.9 L1288.4 1158.9 L1289.7 1161.2 L1291.7 1163.1 L1292.7 1165.8 L1294.7 1167.6 L1296.8 1169.3 L1299.5 1170.3 L1301.4 1172.2 L1301.4 1177.5 L1304.7 1176.6 L1306.8 1178.2 L1306.8 1182.9 L1310.4 1182.3 L1310.4 1186.6 L1312.2 1188.3 L1314.5 1189.7 L1315.7 1192.5 L1320.1 1191.6 L1321.9 1193.8 L1323.0 1196.4 L1324.8 1198.5 L1326.8 1200.2 L1328.8 1202.1 L1332.6 1202.1 L1335.9 1202.7 L1335.9 1207.0 L1337.6 1208.6 L1338.4 1211.6 L1338.8 1215.1 L1341.8 1215.8 L1342.7 1218.9 L1346.2 1219.1 L1346.3 1223.0 L1349.3 1223.7 L1351.7 1225.2 L1353.2 1227.6 L1357.3 1226.8 L1357.8 1230.6 L1360.2 1231.9 L1361.7 1234.5 L1366.1 1232.9 L1367.2 1236.0 L1368.1 1239.6 L1372.3 1238.2 L1375.2 1238.6 L1375.3 1243.5 L1377.2 1245.5 L1381.5 1243.9 L1383.7 1245.4 L1386.3 1246.3 L1388.5 1248.0 L1390.7 1249.5 L1393.3 1250.5 L1394.9 1253.0 L1397.0 1254.7 L1399.5 1255.8 L1401.7 1257.4 L1404.8 1257.5 L1405.6 1261.2 L1408.3 1262.0 L1411.1 1262.7 L1413.2 1264.4 L1414.7 1267.0 L1417.3 1268.0 L1420.1 1268.7 L1421.7 1271.2 L1423.7 1273.2 L1426.9 1273.1 L1428.9 1275.0 L1432.4 1274.3 L1433.7 1277.6 L1435.4 1279.9 L1437.8 1281.3 L1441.0 1280.9 L1443.4 1282.2 L1446.4 1282.4 L1447.9 1285.3 L1451.5 1284.0 L1453.2 1286.8 L1455.6 1288.1 L1458.1 1289.1 L1459.9 1291.7 L1462.7 1291.9 L1465.0 1293.5 L1467.8 1293.8 L1469.9 1295.8 L1471.9 1298.0 L1475.1 1297.4 L1477.3 1299.2 L1480.8 1297.8 L1483.1 1299.2 L1486.6 1297.7 L1488.4 1300.5 L1491.2 1300.6 L1492.9 1303.6 L1496.1 1302.8 L1497.8 1306.0 L1499.6 1309.0 L1501.8 1310.8 L1505.1 1309.6 L1507.3 1311.6 L1508.7 1315.6 L1512.5 1313.1 L1515.3 1313.4 L1519.0 1310.5 L1521.0 1312.9 L1522.9 1316.2 L1525.4 1317.2 L1528.1 1317.8 L1530.5 1319.1 L1533.4 1318.8 L1535.8 1320.5 L1539.2 1317.9 L1540.6 1323.6 L1544.1 1320.5 L1547.0 1320.1 L1549.0 1323.5 L1551.9 1323.0 L1554.4 1323.9 L1557.4 1323.0 L1559.9 1324.3 L1562.4 1325.5 L1565.4 1324.1 L1567.7 1326.2 L1570.5 1326.5 L1573.2 1326.4 L1576.2 1325.4 L1578.8 1325.9 L1581.0 1329.1 L1583.7 1329.1 L1586.1 1331.1 L1589.0 1330.0 L1591.7 1330.3 L1594.4 1330.8 L1596.8 1332.7 L1599.6 1332.0 L1601.8 1335.1 L1604.5 1335.6 L1607.2 1335.3 L1610.5 1332.8 L1613.3 1332.5 L1615.6 1334.7 L1618.3 1335.2 L1620.2 1339.0 L1623.2 1338.0 L1626.0 1337.9 L1628.6 1338.7 L1630.7 1341.4 L1634.0 1339.3 L1636.1 1341.9 L1639.1 1341.0 L1641.4 1342.8 L1644.1 1343.4 L1646.3 1345.8 L1649.1 1345.6 L1651.5 1347.3 L1654.5 1346.3 L1657.6 1344.9 L1660.5 1344.4 L1663.1 1344.9 L1665.7 1345.3 L1668.3 1346.2 L1671.1 1346.0 L1673.5 1348.5 L1676.2 1348.5 L1679.1 1346.9 L1681.8 1346.3 L1684.5 1347.0 L1687.1 1347.6 L1689.8 1347.4 L1692.7 1345.3 L1695.2 1347.2 L1697.9 1347.0 L1700.5 1349.9 L1703.1 1351.1 L1706.0 1348.5 L1708.5 1351.0 L1711.2 1351.5 L1713.9 1351.6 L1716.3 1354.6 L1719.1 1353.2 L1721.9 1352.9 L1724.7 1351.6 L1727.3 1352.8 L1730.2 1351.5 L1732.7 1352.9 L1735.9 1350.7 L1738.2 1352.9 L1741.0 1353.2 L1743.9 1353.0 L1745.3 1357.4 L1748.3 1357.0 L1751.6 1355.6 L1754.3 1356.2 L1756.5 1357.8 L1759.1 1358.4 L1761.4 1360.1 L1764.2 1359.6 L1766.6 1361.4 L1769.2 1363.3 L1771.9 1363.8 L1774.6 1360.8 L1777.4 1363.3 L1780.0 1362.1 L1782.7 1362.0 L1785.5 1362.5 L1788.1 1361.7 L1791.3 1363.6 L1794.4 1363.1 L1796.6 1360.7 L1798.6 1358.5 L1802.8 1359.9 L1805.2 1358.6 L1806.3 1355.5 L1807.9 1353.2 L1810.7 1352.9 L1813.3 1353.0 L1814.7 1349.4 L1817.3 1352.7 L1819.8 1351.0 L1822.2 1353.5 L1825.0 1351.6 L1827.5 1352.6 L1830.5 1351.2 L1832.9 1352.6 L1835.1 1354.9 L1838.7 1351.7 L1841.4 1351.7 L1843.7 1353.7 L1846.6 1353.3 L1848.4 1357.0 L1852.3 1353.3 L1853.5 1358.5 L1857.4 1355.3 L1859.0 1359.1 L1861.7 1359.8 L1864.6 1359.1 L1867.2 1357.4 L1869.9 1358.3 L1872.4 1357.6 L1875.3 1357.9 L1877.9 1357.2 L1880.6 1357.0 L1883.1 1356.0 L1885.1 1352.1 L1888.3 1355.0 L1891.1 1351.7 L1893.7 1354.4 L1896.6 1353.4 L1899.4 1353.0 L1901.3 1357.6 L1904.1 1357.5 L1906.6 1358.9 L1909.8 1356.5 L1912.5 1356.3 L1915.0 1357.7 L1917.6 1357.3 L1920.3 1357.4 L1922.7 1356.1 L1925.2 1355.4 L1927.7 1354.1 L1931.3 1357.5 L1933.4 1354.6 L1935.8 1352.5 L1938.9 1354.9 L1941.6 1353.6 L1944.3 1353.6 L1947.2 1353.2 L1950.0 1353.5 L1952.5 1355.0 L1955.7 1353.7 L1958.1 1355.2 L1960.5 1356.7 L1962.3 1359.9 L1964.3 1362.2 L1967.5 1361.2 L1969.8 1362.7 L1971.0 1365.4 L1974.2 1365.6 L1975.1 1368.9 L1977.8 1370.2 L1981.6 1368.7 L1983.9 1371.4 L1986.8 1370.3 L1989.0 1367.7 L1991.7 1367.5 L1994.6 1366.1 L1996.6 1370.3 L1997.6 1372.7 L2000.7 1372.7 L2001.8 1375.6 L2006.4 1374.1 L2007.3 1378.6 L2010.7 1379.2 L2013.6 1379.3 L2016.3 1375.1 L2019.0 1377.5 L2021.7 1376.5 L2024.4 1378.0 L2027.1 1374.9 L2029.8 1377.4 L2032.5 1375.9 L2035.2 1377.8 L2037.9 1377.0 L2040.6 1378.0 L2043.3 1378.0 L2046.0 1378.0 L2048.8 1377.2 L2051.4 1376.4 L2054.2 1375.9 L2057.0 1375.2 L2058.8 1373.0 L2061.0 1371.4 L2063.3 1370.0 L2066.0 1370.0 L2068.9 1369.9 L2072.3 1368.7 L2073.4 1373.2 L2076.2 1373.6 L2078.6 1371.8 L2082.4 1374.7 L2082.6 1369.8 L2086.5 1370.4 L2088.0 1368.0 L2090.0 1366.2 L2092.5 1365.2 L2094.6 1363.5 L2096.3 1361.1 L2096.9 1357.4 L2099.4 1356.3 L2102.5 1356.0 L2105.7 1355.7 L2107.5 1353.6 L2109.6 1351.8 L2111.3 1349.6 L2113.9 1348.4 L2117.2 1347.8 L2117.2 1343.6 L2120.5 1343.4 L2121.9 1341.0 L2121.9 1337.1 L2123.4 1335.1 L2126.1 1333.7 L2126.7 1330.8 L2127.7 1328.0 L2130.1 1326.2 L2133.2 1326.0 L2136.1 1327.1 L2136.6 1330.8 L2139.7 1330.4 L2142.1 1329.5 L2144.9 1330.6 L2147.2 1328.7 L2150.4 1330.8 L2153.7 1332.2 L2157.0 1331.1 L2157.8 1327.0 L2158.9 1324.3 L2159.4 1321.6 L2160.4 1319.1 L2161.7 1316.7 L2162.5 1314.1 L2163.1 1311.4 L2164.3 1309.1 L2166.6 1307.1 L2167.0 1304.3 L2167.3 1301.5 L2168.9 1299.3 L2171.0 1297.5 L2172.6 1295.5 L2174.7 1293.8 L2176.2 1290.4 L2179.5 1289.0 L2183.1 1289.8 L2186.1 1291.1 L2186.5 1295.4 L2188.0 1297.8 L2191.3 1298.1 L2192.3 1300.9 L2194.0 1303.0 L2195.7 1305.1" stroke="#a000c8"/>
</g>
<rect x="1310.5" y="350.5" width="456.8" height="659" fill="#fff"/>
<line x1="1309" y1="350.5" x2="1767" y2="350.5" stroke="#e2e2e2" stroke-width="6"/>
<line x1="1309" y1="1008.7" x2="1767" y2="1008.7" stroke="#efefef" stroke-width="3"/>
<line x1="1310.5" y1="350" x2="1310.5" y2="1010" stroke="#505050" stroke-width="2.3"/>
<line x1="1763.4" y1="351" x2="1763.4" y2="1009.5" stroke="#a8a8a8" stroke-width="2.6"/>
<line x1="1766" y1="350" x2="1766" y2="1009.5" stroke="#050505" stroke-width="2.9"/>
<g stroke="#000" stroke-width="6.5" fill="none">
<line x1="230.8" y1="45.3" x2="230.8" y2="1718.6" stroke-width="6.5"/>
<line x1="2278.8" y1="45.3" x2="2278.8" y2="1718.6" stroke-width="7.3"/>
<line x1="227.60000000000002" y1="48.6" x2="2282.4" y2="48.6" stroke-width="7.4"/>
<line x1="227.60000000000002" y1="1715.5" x2="2282.4" y2="1715.5" stroke-width="6.3"/>
<line x1="230.8" y1="198.8" x2="247.3" y2="198.8"/>
<line x1="2279.0" y1="199.10000000000002" x2="2261.5" y2="199.10000000000002"/>
<line x1="230.8" y1="352.3" x2="262.8" y2="352.3"/>
<line x1="2279.0" y1="352.6" x2="2246.0" y2="352.6"/>
<line x1="230.8" y1="502.3" x2="247.3" y2="502.3"/>
<line x1="2279.0" y1="502.6" x2="2261.5" y2="502.6"/>
<line x1="230.8" y1="655.3" x2="262.8" y2="655.3"/>
<line x1="2279.0" y1="655.5999999999999" x2="2246.0" y2="655.5999999999999"/>
<line x1="230.8" y1="807.0" x2="247.3" y2="807.0"/>
<line x1="2279.0" y1="807.3" x2="2261.5" y2="807.3"/>
<line x1="230.8" y1="958.3" x2="262.8" y2="958.3"/>
<line x1="2279.0" y1="958.5999999999999" x2="2246.0" y2="958.5999999999999"/>
<line x1="230.8" y1="1110.1" x2="247.3" y2="1110.1"/>
<line x1="2279.0" y1="1110.3999999999999" x2="2261.5" y2="1110.3999999999999"/>
<line x1="230.8" y1="1261.2" x2="262.8" y2="1261.2"/>
<line x1="2279.0" y1="1261.5" x2="2246.0" y2="1261.5"/>
<line x1="230.8" y1="1412.4" x2="247.3" y2="1412.4"/>
<line x1="2279.0" y1="1412.7" x2="2261.5" y2="1412.7"/>
<line x1="230.8" y1="1564.3" x2="262.8" y2="1564.3"/>
<line x1="2279.0" y1="1564.6" x2="2246.0" y2="1564.6"/>
<line x1="487.0" y1="1715.5" x2="487.0" y2="1699.0"/>
<line x1="487.0" y1="49.0" x2="487.0" y2="64.5"/>
<line x1="743.2" y1="1715.5" x2="743.2" y2="1683.5"/>
<line x1="743.2" y1="49.0" x2="743.2" y2="80.0"/>
<line x1="999.0" y1="1715.5" x2="999.0" y2="1699.0"/>
<line x1="999.0" y1="49.0" x2="999.0" y2="64.5"/>
<line x1="1255.0" y1="1715.5" x2="1255.0" y2="1683.5"/>
<line x1="1255.0" y1="49.0" x2="1255.0" y2="80.0"/>
<line x1="1511.0" y1="1715.5" x2="1511.0" y2="1699.0"/>
<line x1="1511.0" y1="49.0" x2="1511.0" y2="64.5"/>
<line x1="1767.0" y1="1715.5" x2="1767.0" y2="1683.5"/>
<line x1="1767.0" y1="49.0" x2="1767.0" y2="80.0"/>
<line x1="2023.0" y1="1715.5" x2="2023.0" y2="1699.0"/>
<line x1="2023.0" y1="49.0" x2="2023.0" y2="64.5"/>
</g>
<g font-family="'Liberation Serif','Times New Roman',serif" fill="#000">
<text transform="translate(195.6 68.1) scale(0.965 1)" font-size="72" text-anchor="end">10</text>
<text transform="translate(195.6 371.4) scale(0.965 1)" font-size="72" text-anchor="end">8</text>
<text transform="translate(195.6 674.4) scale(0.965 1)" font-size="72" text-anchor="end">6</text>
<text transform="translate(195.6 977.4) scale(0.965 1)" font-size="72" text-anchor="end">4</text>
<text transform="translate(195.6 1280.3) scale(0.965 1)" font-size="72" text-anchor="end">2</text>
<text transform="translate(195.6 1583.4) scale(0.965 1)" font-size="72" text-anchor="end">0</text>
<text transform="translate(230.3 1808) scale(0.96 1)" font-size="76" text-anchor="middle">4</text>
<text transform="translate(742.7 1808) scale(0.96 1)" font-size="76" text-anchor="middle">5</text>
<text transform="translate(1254.5 1808) scale(0.96 1)" font-size="76" text-anchor="middle">6</text>
<text transform="translate(1766.5 1808) scale(0.96 1)" font-size="76" text-anchor="middle">7</text>
<text transform="translate(2278.5 1808) scale(0.96 1)" font-size="76" text-anchor="middle">8</text>
<text x="1254.7" y="1943.6" font-size="90" text-anchor="middle" textLength="594" lengthAdjust="spacingAndGlyphs">Frequency [kHz]</text>
<text transform="translate(89 865) rotate(-90)" x="0" y="0" font-size="89" text-anchor="middle" textLength="873.5" lengthAdjust="spacingAndGlyphs">Microphone signal [a. u.]</text>
<text x="1259.4" y="300.5" font-size="88" font-weight="bold" textLength="736" lengthAdjust="spacingAndGlyphs">SO<tspan font-size="54" dy="21">2</tspan><tspan dy="-21"> Concentration:</tspan></text>
<text x="1535.6" y="440.4" font-size="90" textLength="219.2" lengthAdjust="spacingAndGlyphs">0 ppm</text>
<text x="1535.6" y="548.2" font-size="90" textLength="219.2" lengthAdjust="spacingAndGlyphs">1 ppm</text>
<text x="1535.6" y="656.0" font-size="90" textLength="219.2" lengthAdjust="spacingAndGlyphs">2 ppm</text>
<text x="1535.6" y="763.4" font-size="90" textLength="219.2" lengthAdjust="spacingAndGlyphs">3 ppm</text>
<text x="1535.6" y="869.5" font-size="90" textLength="219.2" lengthAdjust="spacingAndGlyphs">4 ppm</text>
<text x="1535.6" y="977.7" font-size="90" textLength="219.2" lengthAdjust="spacingAndGlyphs">5 ppm</text>
</g>
<line x1="1318" y1="410.0" x2="1518.8" y2="410.0" stroke="#000000" stroke-width="6.5"/>
<line x1="1318" y1="518.0" x2="1518.8" y2="518.0" stroke="#ff1414" stroke-width="6.5"/>
<line x1="1318" y1="626.5" x2="1518.8" y2="626.5" stroke="#14a0ff" stroke-width="6.5"/>
<line x1="1318" y1="734.3" x2="1518.8" y2="734.3" stroke="#ff8a14" stroke-width="6.5"/>
<line x1="1318" y1="840.8" x2="1518.8" y2="840.8" stroke="#008000" stroke-width="6.5"/>
<line x1="1318" y1="949.1" x2="1518.8" y2="949.1" stroke="#a000c8" stroke-width="6.5"/>
</svg>
</body></html>
